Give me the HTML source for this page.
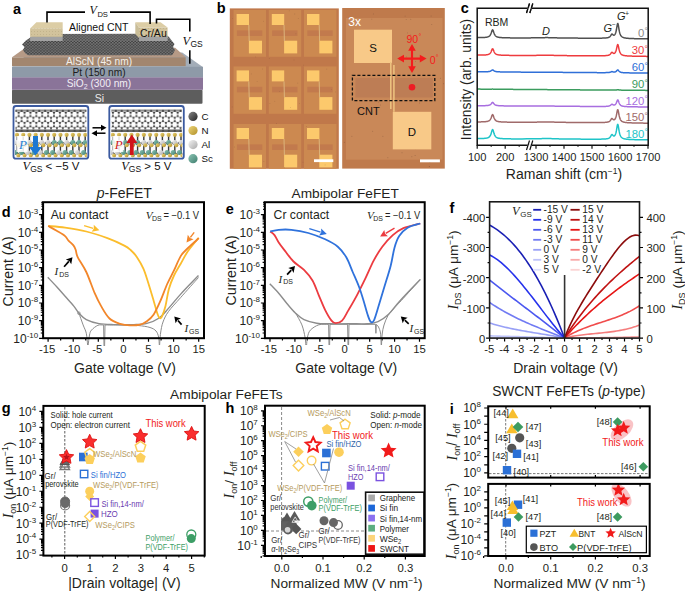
<!DOCTYPE html>
<html><head><meta charset="utf-8"><style>
html,body{margin:0;padding:0;background:#fff;}
svg{display:block;}
</style></head><body>
<svg width="685" height="591" viewBox="0 0 685 591" font-family='"Liberation Sans", sans-serif'>
<rect width="685" height="591" fill="#fff"/>
<defs>
<pattern id="cntpat" width="3.2" height="2.8" patternUnits="userSpaceOnUse">
<rect width="3.2" height="2.8" fill="#3e3e3e"/>
<circle cx="0.8" cy="0.7" r="0.85" fill="#7a7a7a"/><circle cx="2.4" cy="2.1" r="0.85" fill="#7a7a7a"/>
</pattern>
<pattern id="cntpat2" width="5.889" height="10.200" patternUnits="userSpaceOnUse" x="1" y="111">
<rect width="5.889" height="10.200" fill="#ffffff"/>
<path d="M2.944,0 L5.889,1.700 L5.889,5.100 L2.944,6.800 L0,5.100 L0,1.700 Z M2.944,6.800 L2.944,10.200" fill="none" stroke="#8a8a8a" stroke-width="0.7"/>
<circle cx="2.944" cy="0.000" r="1.0" fill="#303030"/><circle cx="5.889" cy="1.700" r="1.0" fill="#303030"/><circle cx="0.000" cy="1.700" r="1.0" fill="#303030"/><circle cx="5.889" cy="5.100" r="1.0" fill="#303030"/><circle cx="0.000" cy="5.100" r="1.0" fill="#303030"/><circle cx="2.944" cy="6.800" r="1.0" fill="#303030"/><circle cx="2.944" cy="10.200" r="1.0" fill="#303030"/>
</pattern>
<pattern id="goldtex" width="3" height="3" patternUnits="userSpaceOnUse">
<rect width="3" height="3" fill="#d2c39c"/>
<rect x="1" y="1" width="1" height="1" fill="#c2b38c"/>
</pattern>
<linearGradient id="ballC" x1="0" y1="0" x2="1" y2="1"><stop offset="0" stop-color="#888"/><stop offset="1" stop-color="#222"/></linearGradient>
<linearGradient id="ballN" x1="0" y1="0" x2="1" y2="1"><stop offset="0" stop-color="#f0d77a"/><stop offset="1" stop-color="#b0902a"/></linearGradient>
<linearGradient id="ballAl" x1="0" y1="0" x2="1" y2="1"><stop offset="0" stop-color="#f4f4f4"/><stop offset="1" stop-color="#a8a8a8"/></linearGradient>
<linearGradient id="ballSc" x1="0" y1="0" x2="1" y2="1"><stop offset="0" stop-color="#8cc4b4"/><stop offset="1" stop-color="#3f7e6e"/></linearGradient>
</defs>
<text x="13.00" y="13.80" font-size="14.5" text-anchor="start" fill="#000" font-weight="bold" font-style="normal" font-family='"Liberation Sans", sans-serif' >a</text>
<rect x="12" y="89.8" width="190.5" height="14" fill="#5d5d5d" rx="1"/>
<text x="99.50" y="101.50" font-size="10.5" text-anchor="middle" fill="#ececec" font-weight="normal" font-style="normal" font-family='"Liberation Sans", sans-serif' >Si</text>
<rect x="12" y="77.2" width="191" height="12.6" fill="#8a7499"/>
<text x="99.00" y="87.30" font-size="10.2" text-anchor="middle" fill="#f2eef5" font-weight="normal" font-style="normal" font-family='"Liberation Sans", sans-serif' >SiO<tspan font-size="7" dy="2">2</tspan><tspan dy="-2"> (300 nm)</tspan></text>
<path d="M12,66.8 L30,52.6 L182.2,52.6 L202.8,67 Z" fill="#a3adb8"/>
<rect x="12" y="66.8" width="191" height="10.4" fill="#8e9aa8"/>
<text x="99.00" y="75.80" font-size="10.2" text-anchor="middle" fill="#1d1d1d" font-weight="normal" font-style="normal" font-family='"Liberation Sans", sans-serif' >Pt (150 nm)</text>
<path d="M12,57.3 L25.4,47.8 L175.2,47.8 L185.7,57.3 Z" fill="#b69a86"/>
<rect x="12" y="57.3" width="173.7" height="8.8" fill="#a2866f"/>
<text x="99.00" y="65.30" font-size="10.2" text-anchor="middle" fill="#f4efe9" font-weight="normal" font-style="normal" font-family='"Liberation Sans", sans-serif' >AlScN (45 nm)</text>
<path d="M26,40.5 L29,38.5 L32,36 L36,34 L165,33.8 L169,37 L172,41 L174.5,44 L173,47 L175,50 L173.5,53 L172,55.3 L28,55.3 L25,53 L23,50 L24.5,47 L22,44.5 Z" fill="url(#cntpat)"/>
<path d="M36,34 L165,33.8 L172,41 L24.5,41 Z" fill="#8a8a8a" opacity="0.18"/>
<path d="M30.1,28.4 L36.4,22.3 L62.7,22.3 L62.7,28.4 Z" fill="#dccda5"/>
<rect x="30.1" y="28.4" width="32.6" height="8.5" fill="url(#goldtex)"/>
<rect x="30.1" y="36.9" width="32.6" height="4.1" fill="#a2a2a2"/>
<path d="M135.3,22.3 L160.6,22.3 L167.6,27.5 L139,27.5 Z" fill="#dccda5"/>
<path d="M135.3,22.3 L139,27.5 L139,38 L135.3,34 Z" fill="#c9bd98"/>
<rect x="139" y="27.5" width="28.6" height="10.5" fill="url(#goldtex)"/>
<rect x="139" y="36.5" width="28.6" height="4.5" fill="#a2a2a2"/>
<text x="153.30" y="36.50" font-size="10.5" text-anchor="middle" fill="#111" font-weight="normal" font-style="normal" font-family='"Liberation Sans", sans-serif' >Cr/Au</text>
<path d="M47,22.5 L47,12.1 L85,12.1" fill="none" stroke="#000" stroke-width="1.6"/>
<path d="M110,12.1 L150.1,12.1 L150.1,24" fill="none" stroke="#000" stroke-width="1.6"/>
<path d="M156.5,23.4 L156.5,19.3 L189.8,19.3 L189.8,31.6" fill="none" stroke="#000" stroke-width="1.6"/>
<path d="M189.8,50.3 L189.8,63.7" fill="none" stroke="#000" stroke-width="1.6"/>
<text x="89.60" y="14.00" font-size="12.0" text-anchor="start" fill="#111" font-weight="normal" font-style="italic" font-family='"Liberation Serif", serif' >V</text>
<text x="97.40" y="16.80" font-size="7.6" text-anchor="start" fill="#111" font-weight="normal" font-style="normal" font-family='"Liberation Sans", sans-serif' >DS</text>
<text x="69.00" y="31.00" font-size="10.5" text-anchor="start" fill="#111" font-weight="normal" font-style="normal" font-family='"Liberation Sans", sans-serif' >Aligned CNT</text>
<text x="182.50" y="44.50" font-size="12.5" text-anchor="start" fill="#111" font-weight="normal" font-style="italic" font-family='"Liberation Serif", serif' >V</text>
<text x="190.50" y="47.00" font-size="8.5" text-anchor="start" fill="#111" font-weight="normal" font-style="normal" font-family='"Liberation Sans", sans-serif' >GS</text>
<rect x="14.5" y="107" width="72.8" height="51" fill="#fff" rx="2"/>
<rect x="15.5" y="109.5" width="70.8" height="22" fill="url(#cntpat2)"/>
<rect x="15.5" y="129.5" width="70.8" height="2.5" fill="#333" opacity="0.75"/>
<rect x="15.5" y="109.5" width="70.8" height="2" fill="#444" opacity="0.6"/>
<rect x="15.5" y="132" width="70.8" height="25" fill="#fafafa"/>
<clipPath id="clipi13"><rect x="15.0" y="131.5" width="71.8" height="26"/></clipPath>
<g clip-path="url(#clipi13)"><path d="M17.0,134.8 L17.0,142.4 M17.0,145 L17.0,152.6 M17.0,142.4 L20.1,145 M17.0,152.6 L20.1,155.2 M17.0,145 L13.9,142.4 M23.2,134.8 L23.2,142.4 M23.2,145 L23.2,152.6 M23.2,142.4 L26.3,145 M23.2,152.6 L26.3,155.2 M23.2,145 L20.1,142.4 M29.4,134.8 L29.4,142.4 M29.4,145 L29.4,152.6 M29.4,142.4 L32.5,145 M29.4,152.6 L32.5,155.2 M29.4,145 L26.3,142.4 M35.6,134.8 L35.6,142.4 M35.6,145 L35.6,152.6 M35.6,142.4 L38.7,145 M35.6,152.6 L38.7,155.2 M35.6,145 L32.5,142.4 M41.8,134.8 L41.8,142.4 M41.8,145 L41.8,152.6 M41.8,142.4 L44.9,145 M41.8,152.6 L44.9,155.2 M41.8,145 L38.7,142.4 M48.0,134.8 L48.0,142.4 M48.0,145 L48.0,152.6 M48.0,142.4 L51.1,145 M48.0,152.6 L51.1,155.2 M48.0,145 L44.9,142.4 M54.2,134.8 L54.2,142.4 M54.2,145 L54.2,152.6 M54.2,142.4 L57.3,145 M54.2,152.6 L57.3,155.2 M54.2,145 L51.1,142.4 M60.4,134.8 L60.4,142.4 M60.4,145 L60.4,152.6 M60.4,142.4 L63.5,145 M60.4,152.6 L63.5,155.2 M60.4,145 L57.3,142.4 M66.6,134.8 L66.6,142.4 M66.6,145 L66.6,152.6 M66.6,142.4 L69.7,145 M66.6,152.6 L69.7,155.2 M66.6,145 L63.5,142.4 M72.8,134.8 L72.8,142.4 M72.8,145 L72.8,152.6 M72.8,142.4 L75.9,145 M72.8,152.6 L75.9,155.2 M72.8,145 L69.7,142.4 M79.0,134.8 L79.0,142.4 M79.0,145 L79.0,152.6 M79.0,142.4 L82.1,145 M79.0,152.6 L82.1,155.2 M79.0,145 L75.9,142.4 M85.2,134.8 L85.2,142.4 M85.2,145 L85.2,152.6 M85.2,142.4 L88.3,145 M85.2,152.6 L88.3,155.2 M85.2,145 L82.1,142.4 M91.4,134.8 L91.4,142.4 M91.4,145 L91.4,152.6 M91.4,142.4 L94.5,145 M91.4,152.6 L94.5,155.2 M91.4,145 L88.3,142.4 " stroke="#3a3a3a" stroke-width="1.4" fill="none"/><circle cx="17.0" cy="134.8" r="2.1" fill="url(#ballN)"/><circle cx="23.2" cy="134.8" r="2.1" fill="url(#ballN)"/><circle cx="29.4" cy="134.8" r="2.1" fill="url(#ballN)"/><circle cx="35.6" cy="134.8" r="2.1" fill="url(#ballN)"/><circle cx="41.8" cy="134.8" r="2.1" fill="url(#ballN)"/><circle cx="48.0" cy="134.8" r="2.1" fill="url(#ballN)"/><circle cx="54.2" cy="134.8" r="2.1" fill="url(#ballN)"/><circle cx="60.4" cy="134.8" r="2.1" fill="url(#ballN)"/><circle cx="66.6" cy="134.8" r="2.1" fill="url(#ballN)"/><circle cx="72.8" cy="134.8" r="2.1" fill="url(#ballN)"/><circle cx="79.0" cy="134.8" r="2.1" fill="url(#ballN)"/><circle cx="85.2" cy="134.8" r="2.1" fill="url(#ballN)"/><circle cx="91.4" cy="134.8" r="2.1" fill="url(#ballN)"/><circle cx="17.0" cy="142.6" r="2.5" fill="url(#ballAl)"/><circle cx="18.5" cy="145.3" r="2.0" fill="url(#ballN)"/><circle cx="15.4" cy="152.6" r="2.5" fill="url(#ballSc)"/><circle cx="18.3" cy="155.6" r="2.0" fill="url(#ballN)"/><circle cx="23.2" cy="142.6" r="2.5" fill="url(#ballAl)"/><circle cx="24.7" cy="145.3" r="2.0" fill="url(#ballN)"/><circle cx="21.6" cy="152.6" r="2.5" fill="url(#ballSc)"/><circle cx="24.5" cy="155.6" r="2.0" fill="url(#ballN)"/><circle cx="29.4" cy="142.6" r="2.5" fill="url(#ballAl)"/><circle cx="30.9" cy="145.3" r="2.0" fill="url(#ballN)"/><circle cx="27.8" cy="152.6" r="2.5" fill="url(#ballAl)"/><circle cx="30.7" cy="155.6" r="2.0" fill="url(#ballN)"/><circle cx="35.6" cy="142.6" r="2.5" fill="url(#ballSc)"/><circle cx="37.1" cy="145.3" r="2.0" fill="url(#ballN)"/><circle cx="34.0" cy="152.6" r="2.5" fill="url(#ballSc)"/><circle cx="36.9" cy="155.6" r="2.0" fill="url(#ballN)"/><circle cx="41.8" cy="142.6" r="2.5" fill="url(#ballAl)"/><circle cx="43.3" cy="145.3" r="2.0" fill="url(#ballN)"/><circle cx="40.2" cy="152.6" r="2.5" fill="url(#ballAl)"/><circle cx="43.1" cy="155.6" r="2.0" fill="url(#ballN)"/><circle cx="48.0" cy="142.6" r="2.5" fill="url(#ballAl)"/><circle cx="49.5" cy="145.3" r="2.0" fill="url(#ballN)"/><circle cx="46.4" cy="152.6" r="2.5" fill="url(#ballSc)"/><circle cx="49.3" cy="155.6" r="2.0" fill="url(#ballN)"/><circle cx="54.2" cy="142.6" r="2.5" fill="url(#ballSc)"/><circle cx="55.7" cy="145.3" r="2.0" fill="url(#ballN)"/><circle cx="52.6" cy="152.6" r="2.5" fill="url(#ballSc)"/><circle cx="55.5" cy="155.6" r="2.0" fill="url(#ballN)"/><circle cx="60.4" cy="142.6" r="2.5" fill="url(#ballSc)"/><circle cx="61.9" cy="145.3" r="2.0" fill="url(#ballN)"/><circle cx="58.8" cy="152.6" r="2.5" fill="url(#ballAl)"/><circle cx="61.7" cy="155.6" r="2.0" fill="url(#ballN)"/><circle cx="66.6" cy="142.6" r="2.5" fill="url(#ballAl)"/><circle cx="68.1" cy="145.3" r="2.0" fill="url(#ballN)"/><circle cx="65.0" cy="152.6" r="2.5" fill="url(#ballSc)"/><circle cx="67.9" cy="155.6" r="2.0" fill="url(#ballN)"/><circle cx="72.8" cy="142.6" r="2.5" fill="url(#ballSc)"/><circle cx="74.3" cy="145.3" r="2.0" fill="url(#ballN)"/><circle cx="71.2" cy="152.6" r="2.5" fill="url(#ballSc)"/><circle cx="74.1" cy="155.6" r="2.0" fill="url(#ballN)"/><circle cx="79.0" cy="142.6" r="2.5" fill="url(#ballSc)"/><circle cx="80.5" cy="145.3" r="2.0" fill="url(#ballN)"/><circle cx="77.4" cy="152.6" r="2.5" fill="url(#ballAl)"/><circle cx="80.3" cy="155.6" r="2.0" fill="url(#ballN)"/><circle cx="85.2" cy="142.6" r="2.5" fill="url(#ballSc)"/><circle cx="86.7" cy="145.3" r="2.0" fill="url(#ballN)"/><circle cx="83.6" cy="152.6" r="2.5" fill="url(#ballSc)"/><circle cx="86.5" cy="155.6" r="2.0" fill="url(#ballN)"/><circle cx="91.4" cy="142.6" r="2.5" fill="url(#ballAl)"/><circle cx="92.9" cy="145.3" r="2.0" fill="url(#ballN)"/><circle cx="89.8" cy="152.6" r="2.5" fill="url(#ballAl)"/><circle cx="92.7" cy="155.6" r="2.0" fill="url(#ballN)"/></g>
<rect x="13.5" y="106" width="74.8" height="52.7" fill="none" stroke="#3b5aa0" stroke-width="1.8" rx="2.5"/>
<rect x="16.5" y="136" width="11" height="16" fill="#fff" opacity="0.85"/>
<text x="23.00" y="148.80" font-size="13" text-anchor="middle" fill="#2a7fd0" font-weight="normal" font-style="italic" font-family='"Liberation Serif", serif' >P</text>
<path d="M33.0,136 L33.0,147 L29.0,147 L35.5,155.5 L42.0,147 L38.0,147 L38.0,136 Z" fill="#1d78d2"/>
<text x="51.00" y="170.20" font-size="11.5" text-anchor="middle" fill="#111" font-weight="normal" font-style="normal" font-family='"Liberation Sans", sans-serif' ><tspan font-style="italic" font-family='Liberation Serif' font-size="12.5">V</tspan><tspan font-size="8.5" dy="2">GS</tspan><tspan dy="-2"> &lt; −5 V</tspan></text>
<rect x="110.3" y="107" width="72.5" height="51" fill="#fff" rx="2"/>
<rect x="111.3" y="109.5" width="70.5" height="22" fill="url(#cntpat2)"/>
<rect x="111.3" y="129.5" width="70.5" height="2.5" fill="#333" opacity="0.75"/>
<rect x="111.3" y="109.5" width="70.5" height="2" fill="#444" opacity="0.6"/>
<rect x="111.3" y="132" width="70.5" height="25" fill="#fafafa"/>
<clipPath id="clipi109"><rect x="110.8" y="131.5" width="71.5" height="26"/></clipPath>
<g clip-path="url(#clipi109)"><path d="M112.8,134.8 L112.8,142.4 M112.8,145 L112.8,152.6 M112.8,142.4 L115.9,145 M112.8,152.6 L115.9,155.2 M112.8,145 L109.7,142.4 M119.0,134.8 L119.0,142.4 M119.0,145 L119.0,152.6 M119.0,142.4 L122.1,145 M119.0,152.6 L122.1,155.2 M119.0,145 L115.9,142.4 M125.2,134.8 L125.2,142.4 M125.2,145 L125.2,152.6 M125.2,142.4 L128.3,145 M125.2,152.6 L128.3,155.2 M125.2,145 L122.1,142.4 M131.4,134.8 L131.4,142.4 M131.4,145 L131.4,152.6 M131.4,142.4 L134.5,145 M131.4,152.6 L134.5,155.2 M131.4,145 L128.3,142.4 M137.6,134.8 L137.6,142.4 M137.6,145 L137.6,152.6 M137.6,142.4 L140.7,145 M137.6,152.6 L140.7,155.2 M137.6,145 L134.5,142.4 M143.8,134.8 L143.8,142.4 M143.8,145 L143.8,152.6 M143.8,142.4 L146.9,145 M143.8,152.6 L146.9,155.2 M143.8,145 L140.7,142.4 M150.0,134.8 L150.0,142.4 M150.0,145 L150.0,152.6 M150.0,142.4 L153.1,145 M150.0,152.6 L153.1,155.2 M150.0,145 L146.9,142.4 M156.2,134.8 L156.2,142.4 M156.2,145 L156.2,152.6 M156.2,142.4 L159.3,145 M156.2,152.6 L159.3,155.2 M156.2,145 L153.1,142.4 M162.4,134.8 L162.4,142.4 M162.4,145 L162.4,152.6 M162.4,142.4 L165.5,145 M162.4,152.6 L165.5,155.2 M162.4,145 L159.3,142.4 M168.6,134.8 L168.6,142.4 M168.6,145 L168.6,152.6 M168.6,142.4 L171.7,145 M168.6,152.6 L171.7,155.2 M168.6,145 L165.5,142.4 M174.8,134.8 L174.8,142.4 M174.8,145 L174.8,152.6 M174.8,142.4 L177.9,145 M174.8,152.6 L177.9,155.2 M174.8,145 L171.7,142.4 M181.0,134.8 L181.0,142.4 M181.0,145 L181.0,152.6 M181.0,142.4 L184.1,145 M181.0,152.6 L184.1,155.2 M181.0,145 L177.9,142.4 M187.2,134.8 L187.2,142.4 M187.2,145 L187.2,152.6 M187.2,142.4 L190.3,145 M187.2,152.6 L190.3,155.2 M187.2,145 L184.1,142.4 " stroke="#3a3a3a" stroke-width="1.4" fill="none"/><circle cx="112.8" cy="134.8" r="2.1" fill="url(#ballN)"/><circle cx="119.0" cy="134.8" r="2.1" fill="url(#ballN)"/><circle cx="125.2" cy="134.8" r="2.1" fill="url(#ballN)"/><circle cx="131.4" cy="134.8" r="2.1" fill="url(#ballN)"/><circle cx="137.6" cy="134.8" r="2.1" fill="url(#ballN)"/><circle cx="143.8" cy="134.8" r="2.1" fill="url(#ballN)"/><circle cx="150.0" cy="134.8" r="2.1" fill="url(#ballN)"/><circle cx="156.2" cy="134.8" r="2.1" fill="url(#ballN)"/><circle cx="162.4" cy="134.8" r="2.1" fill="url(#ballN)"/><circle cx="168.6" cy="134.8" r="2.1" fill="url(#ballN)"/><circle cx="174.8" cy="134.8" r="2.1" fill="url(#ballN)"/><circle cx="181.0" cy="134.8" r="2.1" fill="url(#ballN)"/><circle cx="187.2" cy="134.8" r="2.1" fill="url(#ballN)"/><circle cx="112.8" cy="142.6" r="2.5" fill="url(#ballSc)"/><circle cx="114.3" cy="145.3" r="2.0" fill="url(#ballN)"/><circle cx="111.2" cy="152.6" r="2.5" fill="url(#ballAl)"/><circle cx="114.1" cy="155.6" r="2.0" fill="url(#ballN)"/><circle cx="119.0" cy="142.6" r="2.5" fill="url(#ballAl)"/><circle cx="120.5" cy="145.3" r="2.0" fill="url(#ballN)"/><circle cx="117.4" cy="152.6" r="2.5" fill="url(#ballAl)"/><circle cx="120.3" cy="155.6" r="2.0" fill="url(#ballN)"/><circle cx="125.2" cy="142.6" r="2.5" fill="url(#ballSc)"/><circle cx="126.7" cy="145.3" r="2.0" fill="url(#ballN)"/><circle cx="123.6" cy="152.6" r="2.5" fill="url(#ballSc)"/><circle cx="126.5" cy="155.6" r="2.0" fill="url(#ballN)"/><circle cx="131.4" cy="142.6" r="2.5" fill="url(#ballAl)"/><circle cx="132.9" cy="145.3" r="2.0" fill="url(#ballN)"/><circle cx="129.8" cy="152.6" r="2.5" fill="url(#ballSc)"/><circle cx="132.7" cy="155.6" r="2.0" fill="url(#ballN)"/><circle cx="137.6" cy="142.6" r="2.5" fill="url(#ballSc)"/><circle cx="139.1" cy="145.3" r="2.0" fill="url(#ballN)"/><circle cx="136.0" cy="152.6" r="2.5" fill="url(#ballSc)"/><circle cx="138.9" cy="155.6" r="2.0" fill="url(#ballN)"/><circle cx="143.8" cy="142.6" r="2.5" fill="url(#ballAl)"/><circle cx="145.3" cy="145.3" r="2.0" fill="url(#ballN)"/><circle cx="142.2" cy="152.6" r="2.5" fill="url(#ballSc)"/><circle cx="145.1" cy="155.6" r="2.0" fill="url(#ballN)"/><circle cx="150.0" cy="142.6" r="2.5" fill="url(#ballAl)"/><circle cx="151.5" cy="145.3" r="2.0" fill="url(#ballN)"/><circle cx="148.4" cy="152.6" r="2.5" fill="url(#ballSc)"/><circle cx="151.3" cy="155.6" r="2.0" fill="url(#ballN)"/><circle cx="156.2" cy="142.6" r="2.5" fill="url(#ballSc)"/><circle cx="157.7" cy="145.3" r="2.0" fill="url(#ballN)"/><circle cx="154.6" cy="152.6" r="2.5" fill="url(#ballSc)"/><circle cx="157.5" cy="155.6" r="2.0" fill="url(#ballN)"/><circle cx="162.4" cy="142.6" r="2.5" fill="url(#ballAl)"/><circle cx="163.9" cy="145.3" r="2.0" fill="url(#ballN)"/><circle cx="160.8" cy="152.6" r="2.5" fill="url(#ballAl)"/><circle cx="163.7" cy="155.6" r="2.0" fill="url(#ballN)"/><circle cx="168.6" cy="142.6" r="2.5" fill="url(#ballSc)"/><circle cx="170.1" cy="145.3" r="2.0" fill="url(#ballN)"/><circle cx="167.0" cy="152.6" r="2.5" fill="url(#ballSc)"/><circle cx="169.9" cy="155.6" r="2.0" fill="url(#ballN)"/><circle cx="174.8" cy="142.6" r="2.5" fill="url(#ballAl)"/><circle cx="176.3" cy="145.3" r="2.0" fill="url(#ballN)"/><circle cx="173.2" cy="152.6" r="2.5" fill="url(#ballSc)"/><circle cx="176.1" cy="155.6" r="2.0" fill="url(#ballN)"/><circle cx="181.0" cy="142.6" r="2.5" fill="url(#ballAl)"/><circle cx="182.5" cy="145.3" r="2.0" fill="url(#ballN)"/><circle cx="179.4" cy="152.6" r="2.5" fill="url(#ballSc)"/><circle cx="182.3" cy="155.6" r="2.0" fill="url(#ballN)"/><circle cx="187.2" cy="142.6" r="2.5" fill="url(#ballAl)"/><circle cx="188.7" cy="145.3" r="2.0" fill="url(#ballN)"/><circle cx="185.6" cy="152.6" r="2.5" fill="url(#ballSc)"/><circle cx="188.5" cy="155.6" r="2.0" fill="url(#ballN)"/></g>
<rect x="109.3" y="106" width="74.5" height="52.7" fill="none" stroke="#3b5aa0" stroke-width="1.8" rx="2.5"/>
<rect x="112.3" y="136" width="11" height="16" fill="#fff" opacity="0.85"/>
<text x="118.80" y="148.80" font-size="13" text-anchor="middle" fill="#cc1f25" font-weight="normal" font-style="italic" font-family='"Liberation Serif", serif' >P</text>
<path d="M129.9,155 L129.9,143 L126.3,143 L131.8,134.5 L137.3,143 L133.7,143 L133.7,155 Z" fill="#d0141a"/>
<text x="146.30" y="170.20" font-size="11.5" text-anchor="middle" fill="#111" font-weight="normal" font-style="normal" font-family='"Liberation Sans", sans-serif' ><tspan font-style="italic" font-family='Liberation Serif' font-size="12.5">V</tspan><tspan font-size="8.5" dy="2">GS</tspan><tspan dy="-2"> &gt; 5 V</tspan></text>
<path d="M92.5,127.8 L102.5,127.8" stroke="#000" stroke-width="1.5"/><path d="M106.5,127.8 L101,124.8 L101,130.8 Z" fill="#000"/>
<path d="M95.5,133.2 L105.5,133.2" stroke="#000" stroke-width="1.5"/><path d="M91.5,133.2 L97,130.2 L97,136.2 Z" fill="#000"/>
<circle cx="193" cy="116.4" r="4.6" fill="url(#ballC)"/>
<text x="201.50" y="120.00" font-size="9.8" text-anchor="start" fill="#111" font-weight="normal" font-style="normal" font-family='"Liberation Sans", sans-serif' >C</text>
<circle cx="193" cy="130.5" r="4.6" fill="url(#ballN)"/>
<text x="201.50" y="134.10" font-size="9.8" text-anchor="start" fill="#111" font-weight="normal" font-style="normal" font-family='"Liberation Sans", sans-serif' >N</text>
<circle cx="193" cy="144.6" r="4.6" fill="url(#ballAl)"/>
<text x="201.50" y="148.20" font-size="9.8" text-anchor="start" fill="#111" font-weight="normal" font-style="normal" font-family='"Liberation Sans", sans-serif' >Al</text>
<circle cx="193" cy="158.7" r="4.6" fill="url(#ballSc)"/>
<text x="201.50" y="162.30" font-size="9.8" text-anchor="start" fill="#111" font-weight="normal" font-style="normal" font-family='"Liberation Sans", sans-serif' >Sc</text>
<text x="216.80" y="13.40" font-size="14.5" text-anchor="start" fill="#000" font-weight="bold" font-style="normal" font-family='"Liberation Sans", sans-serif' >b</text>
<rect x="229.8" y="8.4" width="109" height="160.4" fill="#c0784a"/>
<rect x="233.6" y="10.0" width="32.4" height="46.8" fill="#cc8950"/>
<rect x="236.9" y="30.4" width="25.4" height="5.6" fill="#c27a4d"/>
<rect x="236.6" y="14.0" width="12.4" height="11" fill="#fcc96c"/>
<rect x="248.9" y="40.7" width="13.1" height="12.7" fill="#fcc96c"/>
<path d="M248.8,25.0 L249.2,41.0" stroke="#dcb47c" stroke-width="1.0" fill="none"/>
<rect x="268.8" y="10.0" width="32.4" height="46.8" fill="#cc8950"/>
<rect x="272.1" y="30.4" width="25.4" height="5.6" fill="#c27a4d"/>
<rect x="271.8" y="14.0" width="12.4" height="11" fill="#fcc96c"/>
<rect x="284.1" y="40.7" width="13.1" height="12.7" fill="#fcc96c"/>
<path d="M284.0,25.0 L284.4,41.0" stroke="#dcb47c" stroke-width="1.0" fill="none"/>
<rect x="304.0" y="10.0" width="32.4" height="46.8" fill="#cc8950"/>
<rect x="307.3" y="30.4" width="25.4" height="5.6" fill="#c27a4d"/>
<rect x="307.0" y="14.0" width="12.4" height="11" fill="#fcc96c"/>
<rect x="319.3" y="40.7" width="13.1" height="12.7" fill="#fcc96c"/>
<path d="M319.2,25.0 L319.6,41.0" stroke="#dcb47c" stroke-width="1.0" fill="none"/>
<rect x="233.6" y="66.4" width="32.4" height="47.4" fill="#cc8950"/>
<rect x="236.9" y="86.8" width="25.4" height="5.6" fill="#c27a4d"/>
<rect x="236.6" y="70.4" width="12.4" height="11" fill="#fcc96c"/>
<rect x="248.9" y="97.1" width="13.1" height="12.7" fill="#fcc96c"/>
<path d="M248.8,81.4 L249.2,97.4" stroke="#dcb47c" stroke-width="1.0" fill="none"/>
<rect x="268.8" y="66.4" width="32.4" height="47.4" fill="#cc8950"/>
<rect x="272.1" y="86.8" width="25.4" height="5.6" fill="#c27a4d"/>
<rect x="271.8" y="70.4" width="12.4" height="11" fill="#fcc96c"/>
<rect x="284.1" y="97.1" width="13.1" height="12.7" fill="#fcc96c"/>
<path d="M284.0,81.4 L284.4,97.4" stroke="#dcb47c" stroke-width="1.0" fill="none"/>
<rect x="304.0" y="66.4" width="32.4" height="47.4" fill="#cc8950"/>
<rect x="307.3" y="86.8" width="25.4" height="5.6" fill="#c27a4d"/>
<rect x="307.0" y="70.4" width="12.4" height="11" fill="#fcc96c"/>
<rect x="319.3" y="97.1" width="13.1" height="12.7" fill="#fcc96c"/>
<path d="M319.2,81.4 L319.6,97.4" stroke="#dcb47c" stroke-width="1.0" fill="none"/>
<rect x="233.6" y="124.0" width="32.4" height="44.8" fill="#cc8950"/>
<rect x="236.9" y="144.4" width="25.4" height="5.6" fill="#c27a4d"/>
<rect x="236.6" y="128.0" width="12.4" height="11" fill="#fcc96c"/>
<rect x="248.9" y="154.7" width="13.1" height="12.7" fill="#fcc96c"/>
<path d="M248.8,139.0 L249.2,155.0" stroke="#dcb47c" stroke-width="1.0" fill="none"/>
<rect x="268.8" y="124.0" width="32.4" height="44.8" fill="#cc8950"/>
<rect x="272.1" y="144.4" width="25.4" height="5.6" fill="#c27a4d"/>
<rect x="271.8" y="128.0" width="12.4" height="11" fill="#fcc96c"/>
<rect x="284.1" y="154.7" width="13.1" height="12.7" fill="#fcc96c"/>
<path d="M284.0,139.0 L284.4,155.0" stroke="#dcb47c" stroke-width="1.0" fill="none"/>
<rect x="304.0" y="124.0" width="32.4" height="44.8" fill="#cc8950"/>
<rect x="307.3" y="144.4" width="25.4" height="5.6" fill="#c27a4d"/>
<rect x="307.0" y="128.0" width="12.4" height="11" fill="#fcc96c"/>
<rect x="319.3" y="154.7" width="13.1" height="12.7" fill="#fcc96c"/>
<path d="M319.2,139.0 L319.6,155.0" stroke="#dcb47c" stroke-width="1.0" fill="none"/>
<rect x="229.8" y="168.8" width="109" height="0" fill="#fff"/>
<rect x="314" y="159.3" width="19.3" height="2.8" fill="#fff"/>
<rect x="342.2" y="8.0" width="102.6" height="160.6" fill="#bf7a4c"/>
<rect x="346" y="18" width="96.5" height="141.7" fill="#c98858"/>
<circle cx="367.0" cy="95.5" r="0.45" fill="#6e4a35" opacity="0.6"/><circle cx="380.4" cy="105.0" r="0.45" fill="#6e4a35" opacity="0.6"/><circle cx="406.2" cy="19.4" r="0.45" fill="#6e4a35" opacity="0.6"/><circle cx="344.3" cy="142.2" r="0.45" fill="#6e4a35" opacity="0.6"/><circle cx="369.2" cy="46.3" r="0.45" fill="#6e4a35" opacity="0.6"/><circle cx="443.6" cy="83.8" r="0.45" fill="#6e4a35" opacity="0.6"/><circle cx="427.5" cy="84.7" r="0.45" fill="#6e4a35" opacity="0.6"/><circle cx="407.5" cy="32.9" r="0.45" fill="#6e4a35" opacity="0.6"/><circle cx="407.1" cy="147.0" r="0.45" fill="#6e4a35" opacity="0.6"/><circle cx="395.8" cy="126.9" r="0.45" fill="#6e4a35" opacity="0.6"/><circle cx="410.8" cy="19.2" r="0.45" fill="#6e4a35" opacity="0.6"/><circle cx="419.6" cy="103.0" r="0.45" fill="#6e4a35" opacity="0.6"/><circle cx="373.4" cy="13.9" r="0.45" fill="#6e4a35" opacity="0.6"/><circle cx="430.4" cy="84.2" r="0.45" fill="#6e4a35" opacity="0.6"/><circle cx="415.6" cy="148.7" r="0.45" fill="#6e4a35" opacity="0.6"/><circle cx="415.1" cy="155.5" r="0.45" fill="#6e4a35" opacity="0.6"/><circle cx="382.9" cy="136.3" r="0.45" fill="#6e4a35" opacity="0.6"/><circle cx="387.9" cy="157.8" r="0.45" fill="#6e4a35" opacity="0.6"/><circle cx="431.8" cy="24.5" r="0.45" fill="#6e4a35" opacity="0.6"/><circle cx="356.7" cy="43.5" r="0.45" fill="#6e4a35" opacity="0.6"/><circle cx="440.5" cy="78.3" r="0.45" fill="#6e4a35" opacity="0.6"/><circle cx="406.3" cy="56.9" r="0.45" fill="#6e4a35" opacity="0.6"/><circle cx="394.2" cy="70.4" r="0.45" fill="#6e4a35" opacity="0.6"/><circle cx="378.4" cy="102.0" r="0.45" fill="#6e4a35" opacity="0.6"/><circle cx="402.0" cy="152.8" r="0.45" fill="#6e4a35" opacity="0.6"/><circle cx="411.9" cy="156.7" r="0.45" fill="#6e4a35" opacity="0.6"/><circle cx="429.5" cy="166.6" r="0.45" fill="#6e4a35" opacity="0.6"/><circle cx="410.8" cy="34.9" r="0.45" fill="#6e4a35" opacity="0.6"/><circle cx="429.9" cy="162.4" r="0.45" fill="#6e4a35" opacity="0.6"/><circle cx="434.4" cy="99.5" r="0.45" fill="#6e4a35" opacity="0.6"/><circle cx="415.1" cy="42.6" r="0.45" fill="#6e4a35" opacity="0.6"/><circle cx="427.0" cy="100.2" r="0.45" fill="#6e4a35" opacity="0.6"/><circle cx="371.8" cy="19.1" r="0.45" fill="#6e4a35" opacity="0.6"/><circle cx="429.2" cy="166.4" r="0.45" fill="#6e4a35" opacity="0.6"/><circle cx="351.9" cy="136.3" r="0.45" fill="#6e4a35" opacity="0.6"/><circle cx="384.5" cy="33.0" r="0.45" fill="#6e4a35" opacity="0.6"/><circle cx="372.7" cy="131.2" r="0.45" fill="#6e4a35" opacity="0.6"/><circle cx="431.1" cy="16.0" r="0.45" fill="#6e4a35" opacity="0.6"/><circle cx="405.1" cy="16.1" r="0.45" fill="#6e4a35" opacity="0.6"/><circle cx="415.6" cy="61.6" r="0.45" fill="#6e4a35" opacity="0.6"/><circle cx="325.1" cy="164.9" r="0.4" fill="#7a5038" opacity="0.5"/><circle cx="284.6" cy="167.8" r="0.4" fill="#7a5038" opacity="0.5"/><circle cx="263.4" cy="21.2" r="0.4" fill="#7a5038" opacity="0.5"/><circle cx="294.8" cy="14.0" r="0.4" fill="#7a5038" opacity="0.5"/><circle cx="251.3" cy="73.9" r="0.4" fill="#7a5038" opacity="0.5"/><circle cx="295.9" cy="33.8" r="0.4" fill="#7a5038" opacity="0.5"/><circle cx="234.6" cy="147.0" r="0.4" fill="#7a5038" opacity="0.5"/><circle cx="263.9" cy="161.4" r="0.4" fill="#7a5038" opacity="0.5"/><circle cx="326.8" cy="69.1" r="0.4" fill="#7a5038" opacity="0.5"/><circle cx="279.7" cy="91.7" r="0.4" fill="#7a5038" opacity="0.5"/><circle cx="299.5" cy="103.7" r="0.4" fill="#7a5038" opacity="0.5"/><circle cx="290.4" cy="107.6" r="0.4" fill="#7a5038" opacity="0.5"/><circle cx="331.6" cy="89.6" r="0.4" fill="#7a5038" opacity="0.5"/><circle cx="276.6" cy="123.5" r="0.4" fill="#7a5038" opacity="0.5"/><circle cx="255.7" cy="56.9" r="0.4" fill="#7a5038" opacity="0.5"/><circle cx="335.6" cy="91.9" r="0.4" fill="#7a5038" opacity="0.5"/><circle cx="289.2" cy="10.8" r="0.4" fill="#7a5038" opacity="0.5"/><circle cx="274.8" cy="101.2" r="0.4" fill="#7a5038" opacity="0.5"/><circle cx="232.2" cy="106.9" r="0.4" fill="#7a5038" opacity="0.5"/><circle cx="298.3" cy="18.6" r="0.4" fill="#7a5038" opacity="0.5"/><circle cx="297.8" cy="83.1" r="0.4" fill="#7a5038" opacity="0.5"/><circle cx="303.4" cy="65.1" r="0.4" fill="#7a5038" opacity="0.5"/><circle cx="306.4" cy="126.3" r="0.4" fill="#7a5038" opacity="0.5"/><circle cx="232.4" cy="18.6" r="0.4" fill="#7a5038" opacity="0.5"/><circle cx="303.0" cy="162.2" r="0.4" fill="#7a5038" opacity="0.5"/><circle cx="257.1" cy="81.6" r="0.4" fill="#7a5038" opacity="0.5"/><circle cx="294.0" cy="59.9" r="0.4" fill="#7a5038" opacity="0.5"/><circle cx="269.3" cy="58.7" r="0.4" fill="#7a5038" opacity="0.5"/><circle cx="269.9" cy="103.7" r="0.4" fill="#7a5038" opacity="0.5"/><circle cx="262.4" cy="69.0" r="0.4" fill="#7a5038" opacity="0.5"/>
<rect x="355.4" y="78" width="77.3" height="19.5" fill="#bd7d55"/>
<rect x="354" y="29.7" width="38" height="33.3" fill="#f8c988"/>
<path d="M390.8,62 L390.8,109" stroke="#ecc07e" stroke-width="1.6" fill="none"/>
<path d="M393.9,65 L393.9,111.8" stroke="#ecc07e" stroke-width="1.6" fill="none"/>
<rect x="392.8" y="111.8" width="38.5" height="37.6" fill="#f8c988"/>
<text x="373.00" y="51.50" font-size="11.5" text-anchor="middle" fill="#111" font-weight="normal" font-style="normal" font-family='"Liberation Sans", sans-serif' >S</text>
<text x="412.00" y="135.50" font-size="11.5" text-anchor="middle" fill="#111" font-weight="normal" font-style="normal" font-family='"Liberation Sans", sans-serif' >D</text>
<text x="357.00" y="115.20" font-size="11" text-anchor="start" fill="#111" font-weight="normal" font-style="normal" font-family='"Liberation Sans", sans-serif' >CNT</text>
<text x="348.30" y="25.50" font-size="12" text-anchor="start" fill="#fff" font-weight="normal" font-style="normal" font-family='"Liberation Sans", sans-serif' >3x</text>
<rect x="352.4" y="75.4" width="82.4" height="25.2" fill="none" stroke="#111" stroke-width="1.3" stroke-dasharray="3,2"/>
<circle cx="412.00" cy="87.30" r="3.30" fill="#ee1c24" stroke="none" stroke-width="1"/>
<path d="M399.5,58.6 L424,58.6 M412,46.5 L412,70.5" stroke="#f41c1c" stroke-width="2.1"/>
<path d="M397.2,58.6 L404,54.8 L404,62.4 Z M426.6,58.6 L419.8,54.8 L419.8,62.4 Z M412,44.0 L408.2,50.8 L415.8,50.8 Z M412,73.0 L408.2,66.2 L415.8,66.2 Z" fill="#f41c1c"/>
<text x="406.50" y="42.80" font-size="10.5" text-anchor="start" fill="#f41c1c" font-weight="normal" font-style="normal" font-family='"Liberation Sans", sans-serif' >90</text><text x="418.50" y="38.50" font-size="7" text-anchor="start" fill="#f41c1c" font-weight="normal" font-style="normal" font-family='"Liberation Sans", sans-serif' >°</text>
<text x="429.80" y="64.20" font-size="10.5" text-anchor="start" fill="#f41c1c" font-weight="normal" font-style="normal" font-family='"Liberation Sans", sans-serif' >0</text><text x="435.80" y="60.00" font-size="7" text-anchor="start" fill="#f41c1c" font-weight="normal" font-style="normal" font-family='"Liberation Sans", sans-serif' >°</text>
<rect x="420" y="159.4" width="19.9" height="2.9" fill="#fff"/>
<text x="460.80" y="13.20" font-size="14.5" text-anchor="start" fill="#000" font-weight="bold" font-style="normal" font-family='"Liberation Sans", sans-serif' >c</text>
<path d="M477.20,37.60 L477.48,37.60 L477.76,37.60 L478.04,37.60 L478.32,37.60 L478.60,37.60 L478.88,37.59 L479.16,37.59 L479.44,37.59 L479.72,37.58 L480.00,37.58 L480.28,37.58 L480.56,37.57 L480.84,37.57 L481.12,37.56 L481.40,37.55 L481.68,37.55 L481.96,37.54 L482.24,37.53 L482.52,37.52 L482.80,37.51 L483.08,37.50 L483.36,37.49 L483.64,37.48 L483.92,37.46 L484.20,37.44 L484.48,37.43 L484.76,37.40 L485.04,37.38 L485.32,37.36 L485.60,37.33 L485.88,37.29 L486.16,37.26 L486.44,37.21 L486.72,37.17 L487.00,37.11 L487.28,37.05 L487.56,36.98 L487.84,36.89 L488.12,36.80 L488.40,36.68 L488.68,36.54 L488.96,36.38 L489.24,36.19 L489.52,35.96 L489.80,35.68 L490.08,35.33 L490.36,34.92 L490.64,34.41 L490.92,33.80 L491.20,33.08 L491.48,32.27 L491.76,31.41 L492.04,30.61 L492.32,30.03 L492.60,29.82 L492.88,30.03 L493.16,30.62 L493.44,31.42 L493.72,32.29 L494.00,33.10 L494.28,33.83 L494.56,34.44 L494.84,34.95 L495.12,35.37 L495.40,35.72 L495.68,36.00 L495.96,36.24 L496.24,36.44 L496.52,36.60 L496.80,36.74 L497.08,36.86 L497.36,36.97 L497.64,37.05 L497.92,37.13 L498.20,37.20 L498.48,37.26 L498.76,37.31 L499.04,37.35 L499.32,37.40 L499.60,37.43 L499.88,37.47 L500.16,37.50 L500.44,37.52 L500.72,37.55 L501.00,37.57 L501.28,37.59 L501.56,37.61 L501.84,37.63 L502.12,37.65 L502.40,37.66 L502.68,37.68 L502.96,37.69 L503.24,37.70 L503.52,37.71 L503.80,37.72 L504.08,37.73 L504.36,37.74 L504.64,37.75 L504.92,37.76 L505.20,37.77 L505.48,37.78 L505.76,37.79 L506.04,37.79 L506.32,37.80 L506.60,37.81 L506.88,37.81 L507.16,37.82 L507.44,37.83 L507.72,37.83 L508.00,37.84 L508.28,37.84 L508.56,37.85 L508.84,37.85 L509.12,37.86 L509.40,37.86 L509.68,37.87 L509.96,37.87 L510.24,37.88 L510.52,37.88 L510.80,37.89 L511.08,37.89 L511.36,37.89 L511.64,37.90 L511.92,37.90 L512.20,37.91 L512.48,37.91 L512.76,37.91 L513.04,37.92 L513.32,37.92 L513.60,37.92 L513.88,37.93 L514.16,37.93 L514.44,37.93 L514.72,37.94 L515.00,37.94 L515.28,37.94 L515.56,37.95 L515.84,37.95 L516.12,37.95 L516.40,37.96 L516.68,37.96 L516.96,37.96 L517.24,37.97 L517.52,37.97 L517.80,37.97 L518.08,37.97 L518.36,37.98 L518.64,37.98 L518.92,37.98 L519.20,37.99 L519.48,37.99 L519.76,37.99 L520.04,37.99 L520.32,38.00 L520.60,38.00 L520.88,38.00 L521.16,38.00 L521.44,38.01 L521.72,38.01 L522.00,38.01 L527.04,37.89 L527.32,37.89 L527.60,37.89 L527.88,37.89 L528.16,37.89 L528.44,37.89 L528.72,37.89 L529.00,37.89 L529.28,37.88 L529.56,37.88 L529.84,37.88 L530.12,37.88 L530.40,37.88 L530.68,37.88 L530.96,37.87 L531.24,37.87 L531.52,37.87 L531.80,37.87 L532.08,37.86 L532.36,37.86 L532.64,37.86 L532.92,37.86 L533.20,37.85 L533.48,37.85 L533.76,37.85 L534.04,37.84 L534.32,37.84 L534.60,37.83 L534.88,37.83 L535.16,37.83 L535.44,37.82 L535.72,37.82 L536.00,37.81 L536.28,37.81 L536.56,37.80 L536.84,37.80 L537.12,37.79 L537.40,37.79 L537.68,37.78 L537.96,37.78 L538.24,37.77 L538.52,37.76 L538.80,37.76 L539.08,37.75 L539.36,37.74 L539.64,37.74 L539.92,37.73 L540.20,37.72 L540.48,37.72 L540.76,37.71 L541.04,37.70 L541.32,37.70 L541.60,37.69 L541.88,37.68 L542.16,37.68 L542.44,37.67 L542.72,37.67 L543.00,37.66 L543.28,37.65 L543.56,37.65 L543.84,37.64 L544.12,37.64 L544.40,37.63 L544.68,37.63 L544.96,37.63 L545.24,37.62 L545.52,37.62 L545.80,37.62 L546.08,37.62 L546.36,37.62 L546.64,37.62 L546.92,37.62 L547.20,37.62 L547.48,37.62 L547.76,37.62 L548.04,37.62 L548.32,37.63 L548.60,37.63 L548.88,37.64 L549.16,37.64 L549.44,37.65 L549.72,37.65 L550.00,37.66 L550.28,37.66 L550.56,37.67 L550.84,37.68 L551.12,37.69 L551.40,37.70 L551.68,37.70 L551.96,37.71 L552.24,37.72 L552.52,37.73 L552.80,37.74 L553.08,37.75 L553.36,37.76 L553.64,37.77 L553.92,37.78 L554.20,37.78 L554.48,37.79 L554.76,37.80 L555.04,37.81 L555.32,37.82 L555.60,37.83 L555.88,37.84 L556.16,37.85 L556.44,37.85 L556.72,37.86 L557.00,37.87 L557.28,37.88 L557.56,37.88 L557.84,37.89 L558.12,37.90 L558.40,37.91 L558.68,37.91 L558.96,37.92 L559.24,37.93 L559.52,37.93 L559.80,37.94 L560.08,37.95 L560.36,37.95 L560.64,37.96 L560.92,37.96 L561.20,37.97 L561.48,37.97 L561.76,37.98 L562.04,37.98 L562.32,37.99 L562.60,37.99 L562.88,38.00 L563.16,38.00 L563.44,38.01 L563.72,38.01 L564.00,38.02 L564.28,38.02 L564.56,38.02 L564.84,38.03 L565.12,38.03 L565.40,38.03 L565.68,38.04 L565.96,38.04 L566.24,38.04 L566.52,38.05 L566.80,38.05 L567.08,38.05 L567.36,38.06 L567.64,38.06 L567.92,38.06 L568.20,38.07 L568.48,38.07 L568.76,38.07 L569.04,38.07 L569.32,38.08 L569.60,38.08 L569.88,38.08 L570.16,38.08 L570.44,38.08 L570.72,38.09 L571.00,38.09 L571.28,38.09 L571.56,38.09 L571.84,38.09 L572.12,38.10 L572.40,38.10 L572.68,38.10 L572.96,38.10 L573.24,38.10 L573.52,38.10 L573.80,38.11 L574.08,38.11 L574.36,38.11 L574.64,38.11 L574.92,38.11 L575.20,38.11 L575.48,38.11 L575.76,38.12 L576.04,38.12 L576.32,38.12 L576.60,38.12 L576.88,38.12 L577.16,38.12 L577.44,38.12 L577.72,38.12 L578.00,38.13 L578.28,38.13 L578.56,38.13 L578.84,38.13 L579.12,38.13 L579.40,38.13 L579.68,38.13 L579.96,38.13 L580.24,38.13 L580.52,38.14 L580.80,38.14 L581.08,38.14 L581.36,38.14 L581.64,38.14 L581.92,38.14 L582.20,38.14 L582.48,38.14 L582.76,38.14 L583.04,38.14 L583.32,38.15 L583.60,38.15 L583.88,38.15 L584.16,38.15 L584.44,38.15 L584.72,38.15 L585.00,38.15 L585.28,38.15 L585.56,38.15 L585.84,38.15 L586.12,38.15 L586.40,38.16 L586.68,38.16 L586.96,38.16 L587.24,38.16 L587.52,38.16 L587.80,38.16 L588.08,38.16 L588.36,38.16 L588.64,38.16 L588.92,38.16 L589.20,38.16 L589.48,38.17 L589.76,38.17 L590.04,38.17 L590.32,38.17 L590.60,38.17 L590.88,38.17 L591.16,38.17 L591.44,38.17 L591.72,38.17 L592.00,38.17 L592.28,38.17 L592.56,38.17 L592.84,38.17 L593.12,38.18 L593.40,38.18 L593.68,38.18 L593.96,38.18 L594.24,38.18 L594.52,38.18 L594.80,38.18 L595.08,38.18 L595.36,38.18 L595.64,38.18 L595.92,38.18 L596.20,38.18 L596.48,38.18 L596.76,38.18 L597.04,38.18 L597.32,38.18 L597.60,38.18 L597.88,38.18 L598.16,38.17 L598.44,38.17 L598.72,38.17 L599.00,38.17 L599.28,38.17 L599.56,38.17 L599.84,38.16 L600.12,38.16 L600.40,38.16 L600.68,38.15 L600.96,38.15 L601.24,38.15 L601.52,38.14 L601.80,38.14 L602.08,38.13 L602.36,38.12 L602.64,38.12 L602.92,38.11 L603.20,38.10 L603.48,38.09 L603.76,38.08 L604.04,38.07 L604.32,38.05 L604.60,38.04 L604.88,38.02 L605.16,38.00 L605.44,37.98 L605.72,37.96 L606.00,37.93 L606.28,37.90 L606.56,37.87 L606.84,37.83 L607.12,37.79 L607.40,37.74 L607.68,37.68 L607.96,37.61 L608.24,37.53 L608.52,37.43 L608.80,37.32 L609.08,37.18 L609.36,37.02 L609.64,36.82 L609.92,36.57 L610.20,36.28 L610.48,35.92 L610.76,35.50 L611.04,35.04 L611.32,34.59 L611.60,34.22 L611.88,34.03 L612.16,34.06 L612.44,34.25 L612.72,34.53 L613.00,34.80 L613.28,35.02 L613.56,35.15 L613.84,35.19 L614.12,35.14 L614.40,34.99 L614.68,34.74 L614.96,34.37 L615.24,33.88 L615.52,33.23 L615.80,32.39 L616.08,31.33 L616.36,30.02 L616.64,28.48 L616.92,26.78 L617.20,25.13 L617.48,23.90 L617.76,23.45 L618.04,23.94 L618.32,25.23 L618.60,26.92 L618.88,28.68 L619.16,30.28 L619.44,31.65 L619.72,32.78 L620.00,33.70 L620.28,34.44 L620.56,35.04 L620.84,35.53 L621.12,35.93 L621.40,36.27 L621.68,36.54 L621.96,36.78 L622.24,36.98 L622.52,37.15 L622.80,37.30 L623.08,37.42 L623.36,37.53 L623.64,37.63 L623.92,37.72 L624.20,37.79 L624.48,37.86 L624.76,37.92 L625.04,37.98 L625.32,38.03 L625.60,38.07 L625.88,38.11 L626.16,38.15 L626.44,38.19 L626.72,38.22 L627.00,38.25 L627.28,38.28 L627.56,38.30 L627.84,38.33 L628.12,38.35 L628.40,38.37 L628.68,38.39 L628.96,38.41 L629.24,38.42 L629.52,38.44 L629.80,38.46 L630.08,38.47 L630.36,38.48 L630.64,38.50 L630.92,38.51 L631.20,38.52 L631.48,38.53 L631.76,38.54 L632.04,38.56 L632.32,38.57 L632.60,38.58 L632.88,38.58 L633.16,38.59 L633.44,38.60 L633.72,38.61 L634.00,38.62 L634.28,38.63 L634.56,38.63 L634.84,38.64 L635.12,38.65 L635.40,38.66 L635.68,38.66 L635.96,38.67 L636.24,38.68 L636.52,38.68 L636.80,38.69 L637.08,38.70 L637.36,38.70 L637.64,38.71 L637.92,38.71 L638.20,38.72 L638.48,38.72 L638.76,38.73 L639.04,38.73 L639.32,38.74 L639.60,38.75 L639.88,38.75 L640.16,38.76 L640.44,38.76 L640.72,38.76 L641.00,38.77 L641.28,38.77 L641.56,38.78 L641.84,38.78 L642.12,38.79 L642.40,38.79 L642.68,38.80 L642.96,38.80 L643.24,38.80 L643.52,38.81 L643.80,38.81 L644.08,38.82 L644.36,38.82 L644.64,38.83 L644.92,38.83 L645.20,38.83 L645.48,38.84 L645.76,38.84 L646.04,38.84 L646.32,38.85 L646.60,38.85 L646.88,38.86 L647.16,38.86 L647.44,38.86 L647.72,38.87 L648.00,38.87" fill="none" stroke="#505050" stroke-width="1.5" stroke-linejoin="round"/>
<text x="647.80" y="36.90" font-size="11.3" text-anchor="end" fill="#8a8a8a" font-weight="normal" font-style="normal" font-family='"Liberation Sans", sans-serif' >0<tspan font-size="8.5" dy="-2.5">°</tspan></text>
<path d="M477.20,55.12 L477.48,55.12 L477.76,55.12 L478.04,55.12 L478.32,55.12 L478.60,55.12 L478.88,55.12 L479.16,55.11 L479.44,55.11 L479.72,55.11 L480.00,55.11 L480.28,55.10 L480.56,55.10 L480.84,55.10 L481.12,55.09 L481.40,55.09 L481.68,55.08 L481.96,55.08 L482.24,55.07 L482.52,55.06 L482.80,55.06 L483.08,55.05 L483.36,55.04 L483.64,55.03 L483.92,55.02 L484.20,55.00 L484.48,54.99 L484.76,54.97 L485.04,54.95 L485.32,54.93 L485.60,54.91 L485.88,54.88 L486.16,54.85 L486.44,54.82 L486.72,54.78 L487.00,54.74 L487.28,54.69 L487.56,54.63 L487.84,54.56 L488.12,54.48 L488.40,54.39 L488.68,54.28 L488.96,54.15 L489.24,53.99 L489.52,53.80 L489.80,53.57 L490.08,53.30 L490.36,52.96 L490.64,52.55 L490.92,52.05 L491.20,51.47 L491.48,50.81 L491.76,50.11 L492.04,49.46 L492.32,48.99 L492.60,48.82 L492.88,48.99 L493.16,49.47 L493.44,50.12 L493.72,50.82 L494.00,51.49 L494.28,52.08 L494.56,52.58 L494.84,52.99 L495.12,53.34 L495.40,53.62 L495.68,53.85 L495.96,54.04 L496.24,54.20 L496.52,54.34 L496.80,54.45 L497.08,54.55 L497.36,54.63 L497.64,54.70 L497.92,54.77 L498.20,54.82 L498.48,54.87 L498.76,54.91 L499.04,54.95 L499.32,54.98 L499.60,55.02 L499.88,55.04 L500.16,55.07 L500.44,55.09 L500.72,55.11 L501.00,55.13 L501.28,55.15 L501.56,55.16 L501.84,55.18 L502.12,55.19 L502.40,55.20 L502.68,55.22 L502.96,55.23 L503.24,55.24 L503.52,55.25 L503.80,55.26 L504.08,55.27 L504.36,55.28 L504.64,55.28 L504.92,55.29 L505.20,55.30 L505.48,55.31 L505.76,55.31 L506.04,55.32 L506.32,55.32 L506.60,55.33 L506.88,55.34 L507.16,55.34 L507.44,55.35 L507.72,55.35 L508.00,55.36 L508.28,55.36 L508.56,55.37 L508.84,55.37 L509.12,55.37 L509.40,55.38 L509.68,55.38 L509.96,55.39 L510.24,55.39 L510.52,55.40 L510.80,55.40 L511.08,55.40 L511.36,55.41 L511.64,55.41 L511.92,55.41 L512.20,55.42 L512.48,55.42 L512.76,55.42 L513.04,55.43 L513.32,55.43 L513.60,55.43 L513.88,55.44 L514.16,55.44 L514.44,55.44 L514.72,55.45 L515.00,55.45 L515.28,55.45 L515.56,55.46 L515.84,55.46 L516.12,55.46 L516.40,55.46 L516.68,55.47 L516.96,55.47 L517.24,55.47 L517.52,55.48 L517.80,55.48 L518.08,55.48 L518.36,55.48 L518.64,55.49 L518.92,55.49 L519.20,55.49 L519.48,55.49 L519.76,55.50 L520.04,55.50 L520.32,55.50 L520.60,55.51 L520.88,55.51 L521.16,55.51 L521.44,55.51 L521.72,55.52 L522.00,55.52 L527.04,55.43 L527.32,55.43 L527.60,55.43 L527.88,55.43 L528.16,55.43 L528.44,55.43 L528.72,55.43 L529.00,55.43 L529.28,55.43 L529.56,55.43 L529.84,55.43 L530.12,55.42 L530.40,55.42 L530.68,55.42 L530.96,55.42 L531.24,55.42 L531.52,55.42 L531.80,55.42 L532.08,55.42 L532.36,55.41 L532.64,55.41 L532.92,55.41 L533.20,55.41 L533.48,55.41 L533.76,55.40 L534.04,55.40 L534.32,55.40 L534.60,55.40 L534.88,55.39 L535.16,55.39 L535.44,55.39 L535.72,55.38 L536.00,55.38 L536.28,55.38 L536.56,55.37 L536.84,55.37 L537.12,55.36 L537.40,55.36 L537.68,55.36 L537.96,55.35 L538.24,55.35 L538.52,55.34 L538.80,55.34 L539.08,55.33 L539.36,55.33 L539.64,55.32 L539.92,55.32 L540.20,55.31 L540.48,55.31 L540.76,55.30 L541.04,55.30 L541.32,55.29 L541.60,55.29 L541.88,55.28 L542.16,55.28 L542.44,55.28 L542.72,55.27 L543.00,55.27 L543.28,55.26 L543.56,55.26 L543.84,55.25 L544.12,55.25 L544.40,55.25 L544.68,55.24 L544.96,55.24 L545.24,55.24 L545.52,55.24 L545.80,55.24 L546.08,55.24 L546.36,55.24 L546.64,55.24 L546.92,55.24 L547.20,55.24 L547.48,55.24 L547.76,55.24 L548.04,55.24 L548.32,55.25 L548.60,55.25 L548.88,55.26 L549.16,55.26 L549.44,55.26 L549.72,55.27 L550.00,55.28 L550.28,55.28 L550.56,55.29 L550.84,55.29 L551.12,55.30 L551.40,55.31 L551.68,55.32 L551.96,55.32 L552.24,55.33 L552.52,55.34 L552.80,55.35 L553.08,55.35 L553.36,55.36 L553.64,55.37 L553.92,55.38 L554.20,55.39 L554.48,55.39 L554.76,55.40 L555.04,55.41 L555.32,55.42 L555.60,55.42 L555.88,55.43 L556.16,55.44 L556.44,55.45 L556.72,55.45 L557.00,55.46 L557.28,55.47 L557.56,55.47 L557.84,55.48 L558.12,55.49 L558.40,55.49 L558.68,55.50 L558.96,55.50 L559.24,55.51 L559.52,55.51 L559.80,55.52 L560.08,55.53 L560.36,55.53 L560.64,55.54 L560.92,55.54 L561.20,55.55 L561.48,55.55 L561.76,55.56 L562.04,55.56 L562.32,55.56 L562.60,55.57 L562.88,55.57 L563.16,55.58 L563.44,55.58 L563.72,55.59 L564.00,55.59 L564.28,55.59 L564.56,55.60 L564.84,55.60 L565.12,55.60 L565.40,55.61 L565.68,55.61 L565.96,55.61 L566.24,55.62 L566.52,55.62 L566.80,55.62 L567.08,55.63 L567.36,55.63 L567.64,55.63 L567.92,55.63 L568.20,55.64 L568.48,55.64 L568.76,55.64 L569.04,55.64 L569.32,55.65 L569.60,55.65 L569.88,55.65 L570.16,55.65 L570.44,55.66 L570.72,55.66 L571.00,55.66 L571.28,55.66 L571.56,55.66 L571.84,55.67 L572.12,55.67 L572.40,55.67 L572.68,55.67 L572.96,55.67 L573.24,55.68 L573.52,55.68 L573.80,55.68 L574.08,55.68 L574.36,55.68 L574.64,55.68 L574.92,55.69 L575.20,55.69 L575.48,55.69 L575.76,55.69 L576.04,55.69 L576.32,55.69 L576.60,55.70 L576.88,55.70 L577.16,55.70 L577.44,55.70 L577.72,55.70 L578.00,55.70 L578.28,55.70 L578.56,55.71 L578.84,55.71 L579.12,55.71 L579.40,55.71 L579.68,55.71 L579.96,55.71 L580.24,55.71 L580.52,55.71 L580.80,55.72 L581.08,55.72 L581.36,55.72 L581.64,55.72 L581.92,55.72 L582.20,55.72 L582.48,55.72 L582.76,55.72 L583.04,55.73 L583.32,55.73 L583.60,55.73 L583.88,55.73 L584.16,55.73 L584.44,55.73 L584.72,55.73 L585.00,55.73 L585.28,55.74 L585.56,55.74 L585.84,55.74 L586.12,55.74 L586.40,55.74 L586.68,55.74 L586.96,55.74 L587.24,55.74 L587.52,55.75 L587.80,55.75 L588.08,55.75 L588.36,55.75 L588.64,55.75 L588.92,55.75 L589.20,55.75 L589.48,55.75 L589.76,55.75 L590.04,55.76 L590.32,55.76 L590.60,55.76 L590.88,55.76 L591.16,55.76 L591.44,55.76 L591.72,55.76 L592.00,55.76 L592.28,55.76 L592.56,55.77 L592.84,55.77 L593.12,55.77 L593.40,55.77 L593.68,55.77 L593.96,55.77 L594.24,55.77 L594.52,55.77 L594.80,55.77 L595.08,55.77 L595.36,55.77 L595.64,55.77 L595.92,55.77 L596.20,55.77 L596.48,55.78 L596.76,55.78 L597.04,55.78 L597.32,55.78 L597.60,55.78 L597.88,55.77 L598.16,55.77 L598.44,55.77 L598.72,55.77 L599.00,55.77 L599.28,55.77 L599.56,55.77 L599.84,55.77 L600.12,55.77 L600.40,55.76 L600.68,55.76 L600.96,55.76 L601.24,55.76 L601.52,55.75 L601.80,55.75 L602.08,55.74 L602.36,55.74 L602.64,55.73 L602.92,55.73 L603.20,55.72 L603.48,55.71 L603.76,55.70 L604.04,55.70 L604.32,55.68 L604.60,55.67 L604.88,55.66 L605.16,55.64 L605.44,55.63 L605.72,55.61 L606.00,55.59 L606.28,55.56 L606.56,55.54 L606.84,55.50 L607.12,55.47 L607.40,55.43 L607.68,55.38 L607.96,55.32 L608.24,55.25 L608.52,55.17 L608.80,55.08 L609.08,54.97 L609.36,54.83 L609.64,54.66 L609.92,54.45 L610.20,54.20 L610.48,53.90 L610.76,53.54 L611.04,53.15 L611.32,52.77 L611.60,52.47 L611.88,52.31 L612.16,52.34 L612.44,52.52 L612.72,52.77 L613.00,53.02 L613.28,53.21 L613.56,53.34 L613.84,53.40 L614.12,53.38 L614.40,53.28 L614.68,53.10 L614.96,52.83 L615.24,52.47 L615.52,51.97 L615.80,51.34 L616.08,50.54 L616.36,49.54 L616.64,48.36 L616.92,47.06 L617.20,45.81 L617.48,44.87 L617.76,44.52 L618.04,44.91 L618.32,45.89 L618.60,47.19 L618.88,48.54 L619.16,49.76 L619.44,50.81 L619.72,51.68 L620.00,52.38 L620.28,52.95 L620.56,53.41 L620.84,53.79 L621.12,54.10 L621.40,54.35 L621.68,54.57 L621.96,54.75 L622.24,54.90 L622.52,55.03 L622.80,55.14 L623.08,55.24 L623.36,55.33 L623.64,55.40 L623.92,55.47 L624.20,55.53 L624.48,55.58 L624.76,55.63 L625.04,55.67 L625.32,55.71 L625.60,55.75 L625.88,55.78 L626.16,55.81 L626.44,55.84 L626.72,55.86 L627.00,55.88 L627.28,55.91 L627.56,55.93 L627.84,55.94 L628.12,55.96 L628.40,55.98 L628.68,55.99 L628.96,56.01 L629.24,56.02 L629.52,56.04 L629.80,56.05 L630.08,56.06 L630.36,56.07 L630.64,56.08 L630.92,56.09 L631.20,56.10 L631.48,56.11 L631.76,56.12 L632.04,56.13 L632.32,56.14 L632.60,56.15 L632.88,56.15 L633.16,56.16 L633.44,56.17 L633.72,56.17 L634.00,56.18 L634.28,56.19 L634.56,56.19 L634.84,56.20 L635.12,56.21 L635.40,56.21 L635.68,56.22 L635.96,56.22 L636.24,56.23 L636.52,56.24 L636.80,56.24 L637.08,56.25 L637.36,56.25 L637.64,56.26 L637.92,56.26 L638.20,56.27 L638.48,56.27 L638.76,56.28 L639.04,56.28 L639.32,56.28 L639.60,56.29 L639.88,56.29 L640.16,56.30 L640.44,56.30 L640.72,56.31 L641.00,56.31 L641.28,56.31 L641.56,56.32 L641.84,56.32 L642.12,56.33 L642.40,56.33 L642.68,56.33 L642.96,56.34 L643.24,56.34 L643.52,56.34 L643.80,56.35 L644.08,56.35 L644.36,56.36 L644.64,56.36 L644.92,56.36 L645.20,56.37 L645.48,56.37 L645.76,56.37 L646.04,56.38 L646.32,56.38 L646.60,56.38 L646.88,56.39 L647.16,56.39 L647.44,56.39 L647.72,56.40 L648.00,56.40" fill="none" stroke="#ee3b3e" stroke-width="1.5" stroke-linejoin="round"/>
<text x="647.80" y="54.40" font-size="11.3" text-anchor="end" fill="#ee3b3e" font-weight="normal" font-style="normal" font-family='"Liberation Sans", sans-serif' >30<tspan font-size="8.5" dy="-2.5">°</tspan></text>
<path d="M477.20,71.78 L477.48,71.78 L477.76,71.78 L478.04,71.78 L478.32,71.78 L478.60,71.78 L478.88,71.78 L479.16,71.79 L479.44,71.79 L479.72,71.79 L480.00,71.79 L480.28,71.79 L480.56,71.79 L480.84,71.79 L481.12,71.79 L481.40,71.79 L481.68,71.79 L481.96,71.79 L482.24,71.79 L482.52,71.79 L482.80,71.79 L483.08,71.79 L483.36,71.78 L483.64,71.78 L483.92,71.78 L484.20,71.78 L484.48,71.77 L484.76,71.77 L485.04,71.77 L485.32,71.76 L485.60,71.76 L485.88,71.75 L486.16,71.74 L486.44,71.73 L486.72,71.72 L487.00,71.71 L487.28,71.70 L487.56,71.68 L487.84,71.66 L488.12,71.64 L488.40,71.61 L488.68,71.58 L488.96,71.54 L489.24,71.49 L489.52,71.44 L489.80,71.37 L490.08,71.28 L490.36,71.18 L490.64,71.06 L490.92,70.91 L491.20,70.73 L491.48,70.52 L491.76,70.31 L492.04,70.11 L492.32,69.97 L492.60,69.92 L492.88,69.97 L493.16,70.12 L493.44,70.32 L493.72,70.54 L494.00,70.75 L494.28,70.93 L494.56,71.09 L494.84,71.21 L495.12,71.32 L495.40,71.41 L495.68,71.48 L495.96,71.54 L496.24,71.59 L496.52,71.64 L496.80,71.67 L497.08,71.71 L497.36,71.73 L497.64,71.76 L497.92,71.78 L498.20,71.80 L498.48,71.81 L498.76,71.83 L499.04,71.84 L499.32,71.85 L499.60,71.86 L499.88,71.87 L500.16,71.88 L500.44,71.89 L500.72,71.90 L501.00,71.90 L501.28,71.91 L501.56,71.92 L501.84,71.92 L502.12,71.93 L502.40,71.94 L502.68,71.94 L502.96,71.95 L503.24,71.95 L503.52,71.95 L503.80,71.96 L504.08,71.96 L504.36,71.97 L504.64,71.97 L504.92,71.98 L505.20,71.98 L505.48,71.98 L505.76,71.99 L506.04,71.99 L506.32,71.99 L506.60,72.00 L506.88,72.00 L507.16,72.00 L507.44,72.01 L507.72,72.01 L508.00,72.01 L508.28,72.01 L508.56,72.02 L508.84,72.02 L509.12,72.02 L509.40,72.03 L509.68,72.03 L509.96,72.03 L510.24,72.03 L510.52,72.04 L510.80,72.04 L511.08,72.04 L511.36,72.04 L511.64,72.05 L511.92,72.05 L512.20,72.05 L512.48,72.05 L512.76,72.06 L513.04,72.06 L513.32,72.06 L513.60,72.06 L513.88,72.07 L514.16,72.07 L514.44,72.07 L514.72,72.07 L515.00,72.08 L515.28,72.08 L515.56,72.08 L515.84,72.08 L516.12,72.09 L516.40,72.09 L516.68,72.09 L516.96,72.09 L517.24,72.10 L517.52,72.10 L517.80,72.10 L518.08,72.10 L518.36,72.11 L518.64,72.11 L518.92,72.11 L519.20,72.11 L519.48,72.11 L519.76,72.12 L520.04,72.12 L520.32,72.12 L520.60,72.12 L520.88,72.13 L521.16,72.13 L521.44,72.13 L521.72,72.13 L522.00,72.13 L527.04,72.14 L527.32,72.14 L527.60,72.14 L527.88,72.14 L528.16,72.14 L528.44,72.14 L528.72,72.15 L529.00,72.15 L529.28,72.15 L529.56,72.15 L529.84,72.15 L530.12,72.15 L530.40,72.15 L530.68,72.15 L530.96,72.16 L531.24,72.16 L531.52,72.16 L531.80,72.16 L532.08,72.16 L532.36,72.16 L532.64,72.16 L532.92,72.16 L533.20,72.16 L533.48,72.16 L533.76,72.16 L534.04,72.17 L534.32,72.17 L534.60,72.17 L534.88,72.17 L535.16,72.17 L535.44,72.17 L535.72,72.17 L536.00,72.17 L536.28,72.17 L536.56,72.17 L536.84,72.17 L537.12,72.17 L537.40,72.17 L537.68,72.17 L537.96,72.17 L538.24,72.17 L538.52,72.17 L538.80,72.17 L539.08,72.17 L539.36,72.17 L539.64,72.17 L539.92,72.17 L540.20,72.17 L540.48,72.17 L540.76,72.17 L541.04,72.17 L541.32,72.17 L541.60,72.17 L541.88,72.17 L542.16,72.17 L542.44,72.17 L542.72,72.17 L543.00,72.17 L543.28,72.17 L543.56,72.17 L543.84,72.17 L544.12,72.17 L544.40,72.17 L544.68,72.17 L544.96,72.18 L545.24,72.18 L545.52,72.18 L545.80,72.18 L546.08,72.18 L546.36,72.18 L546.64,72.18 L546.92,72.18 L547.20,72.19 L547.48,72.19 L547.76,72.19 L548.04,72.19 L548.32,72.20 L548.60,72.20 L548.88,72.20 L549.16,72.20 L549.44,72.21 L549.72,72.21 L550.00,72.21 L550.28,72.22 L550.56,72.22 L550.84,72.22 L551.12,72.23 L551.40,72.23 L551.68,72.23 L551.96,72.24 L552.24,72.24 L552.52,72.25 L552.80,72.25 L553.08,72.25 L553.36,72.26 L553.64,72.26 L553.92,72.27 L554.20,72.27 L554.48,72.27 L554.76,72.28 L555.04,72.28 L555.32,72.29 L555.60,72.29 L555.88,72.29 L556.16,72.30 L556.44,72.30 L556.72,72.30 L557.00,72.31 L557.28,72.31 L557.56,72.32 L557.84,72.32 L558.12,72.32 L558.40,72.33 L558.68,72.33 L558.96,72.33 L559.24,72.34 L559.52,72.34 L559.80,72.34 L560.08,72.35 L560.36,72.35 L560.64,72.35 L560.92,72.35 L561.20,72.36 L561.48,72.36 L561.76,72.36 L562.04,72.37 L562.32,72.37 L562.60,72.37 L562.88,72.38 L563.16,72.38 L563.44,72.38 L563.72,72.38 L564.00,72.39 L564.28,72.39 L564.56,72.39 L564.84,72.39 L565.12,72.40 L565.40,72.40 L565.68,72.40 L565.96,72.40 L566.24,72.41 L566.52,72.41 L566.80,72.41 L567.08,72.41 L567.36,72.42 L567.64,72.42 L567.92,72.42 L568.20,72.42 L568.48,72.43 L568.76,72.43 L569.04,72.43 L569.32,72.43 L569.60,72.44 L569.88,72.44 L570.16,72.44 L570.44,72.44 L570.72,72.44 L571.00,72.45 L571.28,72.45 L571.56,72.45 L571.84,72.45 L572.12,72.46 L572.40,72.46 L572.68,72.46 L572.96,72.46 L573.24,72.46 L573.52,72.47 L573.80,72.47 L574.08,72.47 L574.36,72.47 L574.64,72.47 L574.92,72.48 L575.20,72.48 L575.48,72.48 L575.76,72.48 L576.04,72.49 L576.32,72.49 L576.60,72.49 L576.88,72.49 L577.16,72.49 L577.44,72.50 L577.72,72.50 L578.00,72.50 L578.28,72.50 L578.56,72.50 L578.84,72.51 L579.12,72.51 L579.40,72.51 L579.68,72.51 L579.96,72.51 L580.24,72.51 L580.52,72.52 L580.80,72.52 L581.08,72.52 L581.36,72.52 L581.64,72.52 L581.92,72.53 L582.20,72.53 L582.48,72.53 L582.76,72.53 L583.04,72.53 L583.32,72.54 L583.60,72.54 L583.88,72.54 L584.16,72.54 L584.44,72.54 L584.72,72.55 L585.00,72.55 L585.28,72.55 L585.56,72.55 L585.84,72.55 L586.12,72.56 L586.40,72.56 L586.68,72.56 L586.96,72.56 L587.24,72.56 L587.52,72.56 L587.80,72.57 L588.08,72.57 L588.36,72.57 L588.64,72.57 L588.92,72.57 L589.20,72.58 L589.48,72.58 L589.76,72.58 L590.04,72.58 L590.32,72.58 L590.60,72.59 L590.88,72.59 L591.16,72.59 L591.44,72.59 L591.72,72.59 L592.00,72.59 L592.28,72.60 L592.56,72.60 L592.84,72.60 L593.12,72.60 L593.40,72.60 L593.68,72.61 L593.96,72.61 L594.24,72.61 L594.52,72.61 L594.80,72.61 L595.08,72.61 L595.36,72.62 L595.64,72.62 L595.92,72.62 L596.20,72.62 L596.48,72.62 L596.76,72.62 L597.04,72.63 L597.32,72.63 L597.60,72.63 L597.88,72.63 L598.16,72.63 L598.44,72.63 L598.72,72.63 L599.00,72.64 L599.28,72.64 L599.56,72.64 L599.84,72.64 L600.12,72.64 L600.40,72.64 L600.68,72.64 L600.96,72.64 L601.24,72.64 L601.52,72.64 L601.80,72.64 L602.08,72.64 L602.36,72.64 L602.64,72.64 L602.92,72.64 L603.20,72.64 L603.48,72.64 L603.76,72.64 L604.04,72.64 L604.32,72.64 L604.60,72.64 L604.88,72.63 L605.16,72.63 L605.44,72.63 L605.72,72.62 L606.00,72.62 L606.28,72.61 L606.56,72.60 L606.84,72.60 L607.12,72.59 L607.40,72.57 L607.68,72.56 L607.96,72.54 L608.24,72.53 L608.52,72.50 L608.80,72.47 L609.08,72.44 L609.36,72.40 L609.64,72.34 L609.92,72.28 L610.20,72.20 L610.48,72.10 L610.76,71.99 L611.04,71.86 L611.32,71.74 L611.60,71.65 L611.88,71.60 L612.16,71.62 L612.44,71.69 L612.72,71.78 L613.00,71.87 L613.28,71.95 L613.56,72.01 L613.84,72.04 L614.12,72.05 L614.40,72.04 L614.68,72.01 L614.96,71.96 L615.24,71.87 L615.52,71.76 L615.80,71.61 L616.08,71.42 L616.36,71.18 L616.64,70.90 L616.92,70.58 L617.20,70.28 L617.48,70.05 L617.76,69.97 L618.04,70.06 L618.32,70.31 L618.60,70.63 L618.88,70.96 L619.16,71.27 L619.44,71.53 L619.72,71.74 L620.00,71.92 L620.28,72.06 L620.56,72.18 L620.84,72.27 L621.12,72.35 L621.40,72.41 L621.68,72.47 L621.96,72.51 L622.24,72.55 L622.52,72.59 L622.80,72.62 L623.08,72.64 L623.36,72.67 L623.64,72.69 L623.92,72.70 L624.20,72.72 L624.48,72.74 L624.76,72.75 L625.04,72.76 L625.32,72.77 L625.60,72.78 L625.88,72.79 L626.16,72.80 L626.44,72.81 L626.72,72.82 L627.00,72.83 L627.28,72.83 L627.56,72.84 L627.84,72.85 L628.12,72.85 L628.40,72.86 L628.68,72.86 L628.96,72.87 L629.24,72.87 L629.52,72.88 L629.80,72.88 L630.08,72.89 L630.36,72.89 L630.64,72.90 L630.92,72.90 L631.20,72.90 L631.48,72.91 L631.76,72.91 L632.04,72.92 L632.32,72.92 L632.60,72.92 L632.88,72.93 L633.16,72.93 L633.44,72.93 L633.72,72.94 L634.00,72.94 L634.28,72.94 L634.56,72.95 L634.84,72.95 L635.12,72.95 L635.40,72.96 L635.68,72.96 L635.96,72.96 L636.24,72.96 L636.52,72.97 L636.80,72.97 L637.08,72.97 L637.36,72.98 L637.64,72.98 L637.92,72.98 L638.20,72.99 L638.48,72.99 L638.76,72.99 L639.04,72.99 L639.32,73.00 L639.60,73.00 L639.88,73.00 L640.16,73.00 L640.44,73.01 L640.72,73.01 L641.00,73.01 L641.28,73.01 L641.56,73.02 L641.84,73.02 L642.12,73.02 L642.40,73.03 L642.68,73.03 L642.96,73.03 L643.24,73.03 L643.52,73.04 L643.80,73.04 L644.08,73.04 L644.36,73.04 L644.64,73.05 L644.92,73.05 L645.20,73.05 L645.48,73.05 L645.76,73.06 L646.04,73.06 L646.32,73.06 L646.60,73.06 L646.88,73.06 L647.16,73.07 L647.44,73.07 L647.72,73.07 L648.00,73.07" fill="none" stroke="#2f6fd8" stroke-width="1.5" stroke-linejoin="round"/>
<text x="647.80" y="71.00" font-size="11.3" text-anchor="end" fill="#2f6fd8" font-weight="normal" font-style="normal" font-family='"Liberation Sans", sans-serif' >60<tspan font-size="8.5" dy="-2.5">°</tspan></text>
<path d="M477.20,89.10 L477.48,89.10 L477.76,89.10 L478.04,89.11 L478.32,89.11 L478.60,89.11 L478.88,89.11 L479.16,89.11 L479.44,89.12 L479.72,89.12 L480.00,89.12 L480.28,89.12 L480.56,89.13 L480.84,89.13 L481.12,89.13 L481.40,89.13 L481.68,89.13 L481.96,89.14 L482.24,89.14 L482.52,89.14 L482.80,89.14 L483.08,89.14 L483.36,89.15 L483.64,89.15 L483.92,89.15 L484.20,89.15 L484.48,89.15 L484.76,89.15 L485.04,89.16 L485.32,89.16 L485.60,89.16 L485.88,89.16 L486.16,89.16 L486.44,89.16 L486.72,89.17 L487.00,89.17 L487.28,89.17 L487.56,89.17 L487.84,89.17 L488.12,89.17 L488.40,89.17 L488.68,89.17 L488.96,89.17 L489.24,89.17 L489.52,89.17 L489.80,89.17 L490.08,89.17 L490.36,89.17 L490.64,89.16 L490.92,89.16 L491.20,89.15 L491.48,89.14 L491.76,89.13 L492.04,89.12 L492.32,89.12 L492.60,89.12 L492.88,89.12 L493.16,89.13 L493.44,89.14 L493.72,89.16 L494.00,89.17 L494.28,89.18 L494.56,89.19 L494.84,89.20 L495.12,89.21 L495.40,89.21 L495.68,89.22 L495.96,89.22 L496.24,89.23 L496.52,89.23 L496.80,89.24 L497.08,89.24 L497.36,89.24 L497.64,89.25 L497.92,89.25 L498.20,89.25 L498.48,89.26 L498.76,89.26 L499.04,89.26 L499.32,89.26 L499.60,89.27 L499.88,89.27 L500.16,89.27 L500.44,89.27 L500.72,89.28 L501.00,89.28 L501.28,89.28 L501.56,89.28 L501.84,89.29 L502.12,89.29 L502.40,89.29 L502.68,89.29 L502.96,89.29 L503.24,89.30 L503.52,89.30 L503.80,89.30 L504.08,89.30 L504.36,89.31 L504.64,89.31 L504.92,89.31 L505.20,89.31 L505.48,89.31 L505.76,89.32 L506.04,89.32 L506.32,89.32 L506.60,89.32 L506.88,89.33 L507.16,89.33 L507.44,89.33 L507.72,89.33 L508.00,89.33 L508.28,89.34 L508.56,89.34 L508.84,89.34 L509.12,89.34 L509.40,89.35 L509.68,89.35 L509.96,89.35 L510.24,89.35 L510.52,89.35 L510.80,89.36 L511.08,89.36 L511.36,89.36 L511.64,89.36 L511.92,89.36 L512.20,89.37 L512.48,89.37 L512.76,89.37 L513.04,89.37 L513.32,89.38 L513.60,89.38 L513.88,89.38 L514.16,89.38 L514.44,89.38 L514.72,89.39 L515.00,89.39 L515.28,89.39 L515.56,89.39 L515.84,89.39 L516.12,89.40 L516.40,89.40 L516.68,89.40 L516.96,89.40 L517.24,89.41 L517.52,89.41 L517.80,89.41 L518.08,89.41 L518.36,89.41 L518.64,89.42 L518.92,89.42 L519.20,89.42 L519.48,89.42 L519.76,89.42 L520.04,89.43 L520.32,89.43 L520.60,89.43 L520.88,89.43 L521.16,89.44 L521.44,89.44 L521.72,89.44 L522.00,89.44 L527.04,89.48 L527.32,89.48 L527.60,89.48 L527.88,89.48 L528.16,89.49 L528.44,89.49 L528.72,89.49 L529.00,89.49 L529.28,89.49 L529.56,89.50 L529.84,89.50 L530.12,89.50 L530.40,89.50 L530.68,89.50 L530.96,89.51 L531.24,89.51 L531.52,89.51 L531.80,89.51 L532.08,89.51 L532.36,89.52 L532.64,89.52 L532.92,89.52 L533.20,89.52 L533.48,89.52 L533.76,89.53 L534.04,89.53 L534.32,89.53 L534.60,89.53 L534.88,89.53 L535.16,89.54 L535.44,89.54 L535.72,89.54 L536.00,89.54 L536.28,89.55 L536.56,89.55 L536.84,89.55 L537.12,89.55 L537.40,89.55 L537.68,89.56 L537.96,89.56 L538.24,89.56 L538.52,89.56 L538.80,89.56 L539.08,89.57 L539.36,89.57 L539.64,89.57 L539.92,89.57 L540.20,89.57 L540.48,89.58 L540.76,89.58 L541.04,89.58 L541.32,89.58 L541.60,89.58 L541.88,89.59 L542.16,89.59 L542.44,89.59 L542.72,89.59 L543.00,89.59 L543.28,89.60 L543.56,89.60 L543.84,89.60 L544.12,89.60 L544.40,89.60 L544.68,89.61 L544.96,89.61 L545.24,89.61 L545.52,89.61 L545.80,89.61 L546.08,89.62 L546.36,89.62 L546.64,89.62 L546.92,89.62 L547.20,89.62 L547.48,89.63 L547.76,89.63 L548.04,89.63 L548.32,89.63 L548.60,89.63 L548.88,89.64 L549.16,89.64 L549.44,89.64 L549.72,89.64 L550.00,89.65 L550.28,89.65 L550.56,89.65 L550.84,89.65 L551.12,89.65 L551.40,89.66 L551.68,89.66 L551.96,89.66 L552.24,89.66 L552.52,89.67 L552.80,89.67 L553.08,89.67 L553.36,89.67 L553.64,89.67 L553.92,89.68 L554.20,89.68 L554.48,89.68 L554.76,89.68 L555.04,89.69 L555.32,89.69 L555.60,89.69 L555.88,89.69 L556.16,89.69 L556.44,89.70 L556.72,89.70 L557.00,89.70 L557.28,89.70 L557.56,89.70 L557.84,89.71 L558.12,89.71 L558.40,89.71 L558.68,89.71 L558.96,89.72 L559.24,89.72 L559.52,89.72 L559.80,89.72 L560.08,89.72 L560.36,89.73 L560.64,89.73 L560.92,89.73 L561.20,89.73 L561.48,89.74 L561.76,89.74 L562.04,89.74 L562.32,89.74 L562.60,89.74 L562.88,89.75 L563.16,89.75 L563.44,89.75 L563.72,89.75 L564.00,89.75 L564.28,89.76 L564.56,89.76 L564.84,89.76 L565.12,89.76 L565.40,89.76 L565.68,89.77 L565.96,89.77 L566.24,89.77 L566.52,89.77 L566.80,89.78 L567.08,89.78 L567.36,89.78 L567.64,89.78 L567.92,89.78 L568.20,89.79 L568.48,89.79 L568.76,89.79 L569.04,89.79 L569.32,89.79 L569.60,89.80 L569.88,89.80 L570.16,89.80 L570.44,89.80 L570.72,89.81 L571.00,89.81 L571.28,89.81 L571.56,89.81 L571.84,89.81 L572.12,89.82 L572.40,89.82 L572.68,89.82 L572.96,89.82 L573.24,89.82 L573.52,89.83 L573.80,89.83 L574.08,89.83 L574.36,89.83 L574.64,89.83 L574.92,89.84 L575.20,89.84 L575.48,89.84 L575.76,89.84 L576.04,89.84 L576.32,89.85 L576.60,89.85 L576.88,89.85 L577.16,89.85 L577.44,89.86 L577.72,89.86 L578.00,89.86 L578.28,89.86 L578.56,89.86 L578.84,89.87 L579.12,89.87 L579.40,89.87 L579.68,89.87 L579.96,89.87 L580.24,89.88 L580.52,89.88 L580.80,89.88 L581.08,89.88 L581.36,89.88 L581.64,89.89 L581.92,89.89 L582.20,89.89 L582.48,89.89 L582.76,89.89 L583.04,89.90 L583.32,89.90 L583.60,89.90 L583.88,89.90 L584.16,89.91 L584.44,89.91 L584.72,89.91 L585.00,89.91 L585.28,89.91 L585.56,89.92 L585.84,89.92 L586.12,89.92 L586.40,89.92 L586.68,89.92 L586.96,89.93 L587.24,89.93 L587.52,89.93 L587.80,89.93 L588.08,89.93 L588.36,89.94 L588.64,89.94 L588.92,89.94 L589.20,89.94 L589.48,89.95 L589.76,89.95 L590.04,89.95 L590.32,89.95 L590.60,89.95 L590.88,89.96 L591.16,89.96 L591.44,89.96 L591.72,89.96 L592.00,89.96 L592.28,89.97 L592.56,89.97 L592.84,89.97 L593.12,89.97 L593.40,89.97 L593.68,89.98 L593.96,89.98 L594.24,89.98 L594.52,89.98 L594.80,89.98 L595.08,89.99 L595.36,89.99 L595.64,89.99 L595.92,89.99 L596.20,90.00 L596.48,90.00 L596.76,90.00 L597.04,90.00 L597.32,90.00 L597.60,90.01 L597.88,90.01 L598.16,90.01 L598.44,90.01 L598.72,90.01 L599.00,90.02 L599.28,90.02 L599.56,90.02 L599.84,90.02 L600.12,90.02 L600.40,90.03 L600.68,90.03 L600.96,90.03 L601.24,90.03 L601.52,90.03 L601.80,90.04 L602.08,90.04 L602.36,90.04 L602.64,90.04 L602.92,90.04 L603.20,90.04 L603.48,90.05 L603.76,90.05 L604.04,90.05 L604.32,90.05 L604.60,90.05 L604.88,90.05 L605.16,90.06 L605.44,90.06 L605.72,90.06 L606.00,90.06 L606.28,90.06 L606.56,90.06 L606.84,90.06 L607.12,90.06 L607.40,90.07 L607.68,90.07 L607.96,90.07 L608.24,90.07 L608.52,90.07 L608.80,90.06 L609.08,90.06 L609.36,90.06 L609.64,90.06 L609.92,90.05 L610.20,90.04 L610.48,90.04 L610.76,90.03 L611.04,90.02 L611.32,90.00 L611.60,90.00 L611.88,89.99 L612.16,90.00 L612.44,90.00 L612.72,90.01 L613.00,90.02 L613.28,90.03 L613.56,90.04 L613.84,90.04 L614.12,90.04 L614.40,90.04 L614.68,90.04 L614.96,90.03 L615.24,90.02 L615.52,90.00 L615.80,89.98 L616.08,89.96 L616.36,89.92 L616.64,89.89 L616.92,89.84 L617.20,89.80 L617.48,89.77 L617.76,89.76 L618.04,89.77 L618.32,89.81 L618.60,89.86 L618.88,89.91 L619.16,89.95 L619.44,89.99 L619.72,90.02 L620.00,90.05 L620.28,90.07 L620.56,90.09 L620.84,90.11 L621.12,90.12 L621.40,90.13 L621.68,90.14 L621.96,90.15 L622.24,90.16 L622.52,90.16 L622.80,90.17 L623.08,90.17 L623.36,90.18 L623.64,90.18 L623.92,90.19 L624.20,90.19 L624.48,90.20 L624.76,90.20 L625.04,90.20 L625.32,90.21 L625.60,90.21 L625.88,90.21 L626.16,90.22 L626.44,90.22 L626.72,90.22 L627.00,90.22 L627.28,90.23 L627.56,90.23 L627.84,90.23 L628.12,90.24 L628.40,90.24 L628.68,90.24 L628.96,90.24 L629.24,90.25 L629.52,90.25 L629.80,90.25 L630.08,90.25 L630.36,90.26 L630.64,90.26 L630.92,90.26 L631.20,90.26 L631.48,90.27 L631.76,90.27 L632.04,90.27 L632.32,90.27 L632.60,90.27 L632.88,90.28 L633.16,90.28 L633.44,90.28 L633.72,90.28 L634.00,90.29 L634.28,90.29 L634.56,90.29 L634.84,90.29 L635.12,90.30 L635.40,90.30 L635.68,90.30 L635.96,90.30 L636.24,90.30 L636.52,90.31 L636.80,90.31 L637.08,90.31 L637.36,90.31 L637.64,90.32 L637.92,90.32 L638.20,90.32 L638.48,90.32 L638.76,90.32 L639.04,90.33 L639.32,90.33 L639.60,90.33 L639.88,90.33 L640.16,90.34 L640.44,90.34 L640.72,90.34 L641.00,90.34 L641.28,90.34 L641.56,90.35 L641.84,90.35 L642.12,90.35 L642.40,90.35 L642.68,90.36 L642.96,90.36 L643.24,90.36 L643.52,90.36 L643.80,90.36 L644.08,90.37 L644.36,90.37 L644.64,90.37 L644.92,90.37 L645.20,90.37 L645.48,90.38 L645.76,90.38 L646.04,90.38 L646.32,90.38 L646.60,90.39 L646.88,90.39 L647.16,90.39 L647.44,90.39 L647.72,90.39 L648.00,90.40" fill="none" stroke="#3b9c5e" stroke-width="1.5" stroke-linejoin="round"/>
<text x="647.80" y="88.30" font-size="11.3" text-anchor="end" fill="#3b9c5e" font-weight="normal" font-style="normal" font-family='"Liberation Sans", sans-serif' >90<tspan font-size="8.5" dy="-2.5">°</tspan></text>
<path d="M477.20,105.71 L477.48,105.71 L477.76,105.71 L478.04,105.71 L478.32,105.71 L478.60,105.71 L478.88,105.71 L479.16,105.71 L479.44,105.71 L479.72,105.71 L480.00,105.71 L480.28,105.71 L480.56,105.71 L480.84,105.71 L481.12,105.71 L481.40,105.71 L481.68,105.70 L481.96,105.70 L482.24,105.70 L482.52,105.70 L482.80,105.69 L483.08,105.69 L483.36,105.68 L483.64,105.68 L483.92,105.67 L484.20,105.67 L484.48,105.66 L484.76,105.65 L485.04,105.65 L485.32,105.63 L485.60,105.62 L485.88,105.61 L486.16,105.60 L486.44,105.58 L486.72,105.56 L487.00,105.54 L487.28,105.51 L487.56,105.48 L487.84,105.44 L488.12,105.40 L488.40,105.35 L488.68,105.29 L488.96,105.22 L489.24,105.14 L489.52,105.04 L489.80,104.92 L490.08,104.77 L490.36,104.59 L490.64,104.37 L490.92,104.10 L491.20,103.79 L491.48,103.44 L491.76,103.06 L492.04,102.71 L492.32,102.46 L492.60,102.37 L492.88,102.46 L493.16,102.72 L493.44,103.07 L493.72,103.45 L494.00,103.81 L494.28,104.13 L494.56,104.40 L494.84,104.62 L495.12,104.81 L495.40,104.96 L495.68,105.09 L495.96,105.19 L496.24,105.28 L496.52,105.35 L496.80,105.42 L497.08,105.47 L497.36,105.52 L497.64,105.56 L497.92,105.59 L498.20,105.62 L498.48,105.65 L498.76,105.67 L499.04,105.69 L499.32,105.71 L499.60,105.73 L499.88,105.75 L500.16,105.76 L500.44,105.77 L500.72,105.79 L501.00,105.80 L501.28,105.81 L501.56,105.82 L501.84,105.83 L502.12,105.83 L502.40,105.84 L502.68,105.85 L502.96,105.86 L503.24,105.86 L503.52,105.87 L503.80,105.88 L504.08,105.88 L504.36,105.89 L504.64,105.89 L504.92,105.90 L505.20,105.90 L505.48,105.91 L505.76,105.91 L506.04,105.92 L506.32,105.92 L506.60,105.92 L506.88,105.93 L507.16,105.93 L507.44,105.94 L507.72,105.94 L508.00,105.94 L508.28,105.95 L508.56,105.95 L508.84,105.95 L509.12,105.96 L509.40,105.96 L509.68,105.96 L509.96,105.97 L510.24,105.97 L510.52,105.97 L510.80,105.98 L511.08,105.98 L511.36,105.98 L511.64,105.98 L511.92,105.99 L512.20,105.99 L512.48,105.99 L512.76,106.00 L513.04,106.00 L513.32,106.00 L513.60,106.00 L513.88,106.01 L514.16,106.01 L514.44,106.01 L514.72,106.02 L515.00,106.02 L515.28,106.02 L515.56,106.02 L515.84,106.03 L516.12,106.03 L516.40,106.03 L516.68,106.03 L516.96,106.04 L517.24,106.04 L517.52,106.04 L517.80,106.04 L518.08,106.05 L518.36,106.05 L518.64,106.05 L518.92,106.05 L519.20,106.06 L519.48,106.06 L519.76,106.06 L520.04,106.06 L520.32,106.06 L520.60,106.07 L520.88,106.07 L521.16,106.07 L521.44,106.07 L521.72,106.08 L522.00,106.08 L527.04,106.05 L527.32,106.05 L527.60,106.05 L527.88,106.05 L528.16,106.05 L528.44,106.05 L528.72,106.05 L529.00,106.05 L529.28,106.05 L529.56,106.05 L529.84,106.05 L530.12,106.05 L530.40,106.06 L530.68,106.06 L530.96,106.06 L531.24,106.06 L531.52,106.06 L531.80,106.06 L532.08,106.06 L532.36,106.06 L532.64,106.06 L532.92,106.06 L533.20,106.06 L533.48,106.06 L533.76,106.06 L534.04,106.05 L534.32,106.05 L534.60,106.05 L534.88,106.05 L535.16,106.05 L535.44,106.05 L535.72,106.05 L536.00,106.05 L536.28,106.05 L536.56,106.05 L536.84,106.05 L537.12,106.05 L537.40,106.05 L537.68,106.04 L537.96,106.04 L538.24,106.04 L538.52,106.04 L538.80,106.04 L539.08,106.04 L539.36,106.03 L539.64,106.03 L539.92,106.03 L540.20,106.03 L540.48,106.03 L540.76,106.03 L541.04,106.02 L541.32,106.02 L541.60,106.02 L541.88,106.02 L542.16,106.02 L542.44,106.02 L542.72,106.01 L543.00,106.01 L543.28,106.01 L543.56,106.01 L543.84,106.01 L544.12,106.01 L544.40,106.01 L544.68,106.01 L544.96,106.01 L545.24,106.01 L545.52,106.01 L545.80,106.01 L546.08,106.01 L546.36,106.01 L546.64,106.01 L546.92,106.01 L547.20,106.01 L547.48,106.01 L547.76,106.02 L548.04,106.02 L548.32,106.02 L548.60,106.02 L548.88,106.03 L549.16,106.03 L549.44,106.03 L549.72,106.04 L550.00,106.04 L550.28,106.05 L550.56,106.05 L550.84,106.06 L551.12,106.06 L551.40,106.06 L551.68,106.07 L551.96,106.07 L552.24,106.08 L552.52,106.08 L552.80,106.09 L553.08,106.09 L553.36,106.10 L553.64,106.10 L553.92,106.11 L554.20,106.12 L554.48,106.12 L554.76,106.13 L555.04,106.13 L555.32,106.14 L555.60,106.14 L555.88,106.15 L556.16,106.15 L556.44,106.15 L556.72,106.16 L557.00,106.16 L557.28,106.17 L557.56,106.17 L557.84,106.18 L558.12,106.18 L558.40,106.19 L558.68,106.19 L558.96,106.19 L559.24,106.20 L559.52,106.20 L559.80,106.21 L560.08,106.21 L560.36,106.21 L560.64,106.22 L560.92,106.22 L561.20,106.23 L561.48,106.23 L561.76,106.23 L562.04,106.24 L562.32,106.24 L562.60,106.24 L562.88,106.25 L563.16,106.25 L563.44,106.25 L563.72,106.25 L564.00,106.26 L564.28,106.26 L564.56,106.26 L564.84,106.27 L565.12,106.27 L565.40,106.27 L565.68,106.27 L565.96,106.28 L566.24,106.28 L566.52,106.28 L566.80,106.28 L567.08,106.29 L567.36,106.29 L567.64,106.29 L567.92,106.29 L568.20,106.30 L568.48,106.30 L568.76,106.30 L569.04,106.30 L569.32,106.31 L569.60,106.31 L569.88,106.31 L570.16,106.31 L570.44,106.31 L570.72,106.32 L571.00,106.32 L571.28,106.32 L571.56,106.32 L571.84,106.32 L572.12,106.33 L572.40,106.33 L572.68,106.33 L572.96,106.33 L573.24,106.33 L573.52,106.34 L573.80,106.34 L574.08,106.34 L574.36,106.34 L574.64,106.34 L574.92,106.35 L575.20,106.35 L575.48,106.35 L575.76,106.35 L576.04,106.35 L576.32,106.35 L576.60,106.36 L576.88,106.36 L577.16,106.36 L577.44,106.36 L577.72,106.36 L578.00,106.36 L578.28,106.37 L578.56,106.37 L578.84,106.37 L579.12,106.37 L579.40,106.37 L579.68,106.37 L579.96,106.38 L580.24,106.38 L580.52,106.38 L580.80,106.38 L581.08,106.38 L581.36,106.38 L581.64,106.38 L581.92,106.39 L582.20,106.39 L582.48,106.39 L582.76,106.39 L583.04,106.39 L583.32,106.39 L583.60,106.40 L583.88,106.40 L584.16,106.40 L584.44,106.40 L584.72,106.40 L585.00,106.40 L585.28,106.41 L585.56,106.41 L585.84,106.41 L586.12,106.41 L586.40,106.41 L586.68,106.41 L586.96,106.41 L587.24,106.42 L587.52,106.42 L587.80,106.42 L588.08,106.42 L588.36,106.42 L588.64,106.42 L588.92,106.43 L589.20,106.43 L589.48,106.43 L589.76,106.43 L590.04,106.43 L590.32,106.43 L590.60,106.43 L590.88,106.44 L591.16,106.44 L591.44,106.44 L591.72,106.44 L592.00,106.44 L592.28,106.44 L592.56,106.44 L592.84,106.45 L593.12,106.45 L593.40,106.45 L593.68,106.45 L593.96,106.45 L594.24,106.45 L594.52,106.45 L594.80,106.45 L595.08,106.46 L595.36,106.46 L595.64,106.46 L595.92,106.46 L596.20,106.46 L596.48,106.46 L596.76,106.46 L597.04,106.46 L597.32,106.46 L597.60,106.46 L597.88,106.46 L598.16,106.47 L598.44,106.47 L598.72,106.47 L599.00,106.47 L599.28,106.47 L599.56,106.47 L599.84,106.47 L600.12,106.47 L600.40,106.46 L600.68,106.46 L600.96,106.46 L601.24,106.46 L601.52,106.46 L601.80,106.46 L602.08,106.46 L602.36,106.45 L602.64,106.45 L602.92,106.45 L603.20,106.45 L603.48,106.44 L603.76,106.44 L604.04,106.43 L604.32,106.43 L604.60,106.42 L604.88,106.41 L605.16,106.40 L605.44,106.39 L605.72,106.38 L606.00,106.37 L606.28,106.35 L606.56,106.34 L606.84,106.32 L607.12,106.29 L607.40,106.27 L607.68,106.24 L607.96,106.20 L608.24,106.16 L608.52,106.11 L608.80,106.05 L609.08,105.97 L609.36,105.88 L609.64,105.77 L609.92,105.64 L610.20,105.47 L610.48,105.27 L610.76,105.04 L611.04,104.79 L611.32,104.54 L611.60,104.34 L611.88,104.24 L612.16,104.27 L612.44,104.39 L612.72,104.56 L613.00,104.74 L613.28,104.88 L613.56,104.98 L613.84,105.03 L614.12,105.03 L614.40,104.99 L614.68,104.89 L614.96,104.75 L615.24,104.54 L615.52,104.25 L615.80,103.89 L616.08,103.42 L616.36,102.84 L616.64,102.15 L616.92,101.39 L617.20,100.65 L617.48,100.10 L617.76,99.90 L618.04,100.13 L618.32,100.71 L618.60,101.48 L618.88,102.27 L619.16,102.99 L619.44,103.61 L619.72,104.12 L620.00,104.53 L620.28,104.87 L620.56,105.14 L620.84,105.36 L621.12,105.55 L621.40,105.70 L621.68,105.83 L621.96,105.93 L622.24,106.02 L622.52,106.10 L622.80,106.17 L623.08,106.23 L623.36,106.28 L623.64,106.33 L623.92,106.37 L624.20,106.40 L624.48,106.43 L624.76,106.46 L625.04,106.49 L625.32,106.51 L625.60,106.53 L625.88,106.55 L626.16,106.57 L626.44,106.59 L626.72,106.61 L627.00,106.62 L627.28,106.63 L627.56,106.65 L627.84,106.66 L628.12,106.67 L628.40,106.68 L628.68,106.69 L628.96,106.70 L629.24,106.71 L629.52,106.72 L629.80,106.73 L630.08,106.73 L630.36,106.74 L630.64,106.75 L630.92,106.76 L631.20,106.76 L631.48,106.77 L631.76,106.77 L632.04,106.78 L632.32,106.79 L632.60,106.79 L632.88,106.80 L633.16,106.80 L633.44,106.81 L633.72,106.81 L634.00,106.82 L634.28,106.82 L634.56,106.83 L634.84,106.83 L635.12,106.84 L635.40,106.84 L635.68,106.85 L635.96,106.85 L636.24,106.85 L636.52,106.86 L636.80,106.86 L637.08,106.87 L637.36,106.87 L637.64,106.87 L637.92,106.88 L638.20,106.88 L638.48,106.88 L638.76,106.89 L639.04,106.89 L639.32,106.90 L639.60,106.90 L639.88,106.90 L640.16,106.91 L640.44,106.91 L640.72,106.91 L641.00,106.92 L641.28,106.92 L641.56,106.92 L641.84,106.93 L642.12,106.93 L642.40,106.93 L642.68,106.94 L642.96,106.94 L643.24,106.94 L643.52,106.94 L643.80,106.95 L644.08,106.95 L644.36,106.95 L644.64,106.96 L644.92,106.96 L645.20,106.96 L645.48,106.97 L645.76,106.97 L646.04,106.97 L646.32,106.97 L646.60,106.98 L646.88,106.98 L647.16,106.98 L647.44,106.99 L647.72,106.99 L648.00,106.99" fill="none" stroke="#a86ee0" stroke-width="1.5" stroke-linejoin="round"/>
<text x="647.80" y="104.95" font-size="11.3" text-anchor="end" fill="#a86ee0" font-weight="normal" font-style="normal" font-family='"Liberation Sans", sans-serif' >120<tspan font-size="8.5" dy="-2.5">°</tspan></text>
<path d="M477.20,121.91 L477.48,121.91 L477.76,121.91 L478.04,121.91 L478.32,121.91 L478.60,121.90 L478.88,121.90 L479.16,121.90 L479.44,121.90 L479.72,121.89 L480.00,121.89 L480.28,121.89 L480.56,121.88 L480.84,121.88 L481.12,121.87 L481.40,121.87 L481.68,121.86 L481.96,121.85 L482.24,121.84 L482.52,121.84 L482.80,121.83 L483.08,121.82 L483.36,121.81 L483.64,121.79 L483.92,121.78 L484.20,121.76 L484.48,121.75 L484.76,121.73 L485.04,121.71 L485.32,121.68 L485.60,121.65 L485.88,121.62 L486.16,121.59 L486.44,121.55 L486.72,121.51 L487.00,121.45 L487.28,121.40 L487.56,121.33 L487.84,121.25 L488.12,121.16 L488.40,121.05 L488.68,120.92 L488.96,120.77 L489.24,120.59 L489.52,120.37 L489.80,120.11 L490.08,119.79 L490.36,119.40 L490.64,118.92 L490.92,118.35 L491.20,117.68 L491.48,116.91 L491.76,116.11 L492.04,115.36 L492.32,114.82 L492.60,114.62 L492.88,114.82 L493.16,115.37 L493.44,116.12 L493.72,116.93 L494.00,117.70 L494.28,118.38 L494.56,118.95 L494.84,119.43 L495.12,119.83 L495.40,120.15 L495.68,120.42 L495.96,120.64 L496.24,120.83 L496.52,120.98 L496.80,121.11 L497.08,121.23 L497.36,121.32 L497.64,121.40 L497.92,121.48 L498.20,121.54 L498.48,121.59 L498.76,121.64 L499.04,121.69 L499.32,121.73 L499.60,121.76 L499.88,121.79 L500.16,121.82 L500.44,121.85 L500.72,121.87 L501.00,121.89 L501.28,121.91 L501.56,121.93 L501.84,121.95 L502.12,121.96 L502.40,121.98 L502.68,121.99 L502.96,122.00 L503.24,122.01 L503.52,122.03 L503.80,122.04 L504.08,122.05 L504.36,122.05 L504.64,122.06 L504.92,122.07 L505.20,122.08 L505.48,122.09 L505.76,122.10 L506.04,122.10 L506.32,122.11 L506.60,122.12 L506.88,122.12 L507.16,122.13 L507.44,122.13 L507.72,122.14 L508.00,122.14 L508.28,122.15 L508.56,122.15 L508.84,122.16 L509.12,122.16 L509.40,122.17 L509.68,122.17 L509.96,122.18 L510.24,122.18 L510.52,122.19 L510.80,122.19 L511.08,122.19 L511.36,122.20 L511.64,122.20 L511.92,122.21 L512.20,122.21 L512.48,122.21 L512.76,122.22 L513.04,122.22 L513.32,122.22 L513.60,122.23 L513.88,122.23 L514.16,122.23 L514.44,122.24 L514.72,122.24 L515.00,122.24 L515.28,122.25 L515.56,122.25 L515.84,122.25 L516.12,122.26 L516.40,122.26 L516.68,122.26 L516.96,122.27 L517.24,122.27 L517.52,122.27 L517.80,122.27 L518.08,122.28 L518.36,122.28 L518.64,122.28 L518.92,122.28 L519.20,122.29 L519.48,122.29 L519.76,122.29 L520.04,122.30 L520.32,122.30 L520.60,122.30 L520.88,122.30 L521.16,122.31 L521.44,122.31 L521.72,122.31 L522.00,122.31 L527.04,122.21 L527.32,122.21 L527.60,122.21 L527.88,122.21 L528.16,122.21 L528.44,122.21 L528.72,122.20 L529.00,122.20 L529.28,122.20 L529.56,122.20 L529.84,122.20 L530.12,122.20 L530.40,122.20 L530.68,122.19 L530.96,122.19 L531.24,122.19 L531.52,122.19 L531.80,122.19 L532.08,122.18 L532.36,122.18 L532.64,122.18 L532.92,122.18 L533.20,122.17 L533.48,122.17 L533.76,122.17 L534.04,122.17 L534.32,122.16 L534.60,122.16 L534.88,122.15 L535.16,122.15 L535.44,122.15 L535.72,122.14 L536.00,122.14 L536.28,122.13 L536.56,122.13 L536.84,122.13 L537.12,122.12 L537.40,122.12 L537.68,122.11 L537.96,122.11 L538.24,122.10 L538.52,122.09 L538.80,122.09 L539.08,122.08 L539.36,122.08 L539.64,122.07 L539.92,122.07 L540.20,122.06 L540.48,122.05 L540.76,122.05 L541.04,122.04 L541.32,122.03 L541.60,122.03 L541.88,122.02 L542.16,122.02 L542.44,122.01 L542.72,122.01 L543.00,122.00 L543.28,121.99 L543.56,121.99 L543.84,121.99 L544.12,121.98 L544.40,121.98 L544.68,121.97 L544.96,121.97 L545.24,121.97 L545.52,121.97 L545.80,121.96 L546.08,121.96 L546.36,121.96 L546.64,121.96 L546.92,121.96 L547.20,121.96 L547.48,121.96 L547.76,121.97 L548.04,121.97 L548.32,121.97 L548.60,121.98 L548.88,121.98 L549.16,121.99 L549.44,121.99 L549.72,122.00 L550.00,122.00 L550.28,122.01 L550.56,122.02 L550.84,122.02 L551.12,122.03 L551.40,122.04 L551.68,122.05 L551.96,122.06 L552.24,122.06 L552.52,122.07 L552.80,122.08 L553.08,122.09 L553.36,122.10 L553.64,122.11 L553.92,122.12 L554.20,122.12 L554.48,122.13 L554.76,122.14 L555.04,122.15 L555.32,122.16 L555.60,122.17 L555.88,122.18 L556.16,122.18 L556.44,122.19 L556.72,122.20 L557.00,122.21 L557.28,122.21 L557.56,122.22 L557.84,122.23 L558.12,122.24 L558.40,122.24 L558.68,122.25 L558.96,122.26 L559.24,122.26 L559.52,122.27 L559.80,122.27 L560.08,122.28 L560.36,122.29 L560.64,122.29 L560.92,122.30 L561.20,122.30 L561.48,122.31 L561.76,122.31 L562.04,122.32 L562.32,122.32 L562.60,122.33 L562.88,122.33 L563.16,122.34 L563.44,122.34 L563.72,122.35 L564.00,122.35 L564.28,122.35 L564.56,122.36 L564.84,122.36 L565.12,122.36 L565.40,122.37 L565.68,122.37 L565.96,122.38 L566.24,122.38 L566.52,122.38 L566.80,122.38 L567.08,122.39 L567.36,122.39 L567.64,122.39 L567.92,122.40 L568.20,122.40 L568.48,122.40 L568.76,122.40 L569.04,122.41 L569.32,122.41 L569.60,122.41 L569.88,122.41 L570.16,122.42 L570.44,122.42 L570.72,122.42 L571.00,122.42 L571.28,122.43 L571.56,122.43 L571.84,122.43 L572.12,122.43 L572.40,122.43 L572.68,122.44 L572.96,122.44 L573.24,122.44 L573.52,122.44 L573.80,122.44 L574.08,122.44 L574.36,122.45 L574.64,122.45 L574.92,122.45 L575.20,122.45 L575.48,122.45 L575.76,122.45 L576.04,122.46 L576.32,122.46 L576.60,122.46 L576.88,122.46 L577.16,122.46 L577.44,122.46 L577.72,122.46 L578.00,122.46 L578.28,122.47 L578.56,122.47 L578.84,122.47 L579.12,122.47 L579.40,122.47 L579.68,122.47 L579.96,122.47 L580.24,122.47 L580.52,122.48 L580.80,122.48 L581.08,122.48 L581.36,122.48 L581.64,122.48 L581.92,122.48 L582.20,122.48 L582.48,122.48 L582.76,122.48 L583.04,122.49 L583.32,122.49 L583.60,122.49 L583.88,122.49 L584.16,122.49 L584.44,122.49 L584.72,122.49 L585.00,122.49 L585.28,122.49 L585.56,122.50 L585.84,122.50 L586.12,122.50 L586.40,122.50 L586.68,122.50 L586.96,122.50 L587.24,122.50 L587.52,122.50 L587.80,122.50 L588.08,122.51 L588.36,122.51 L588.64,122.51 L588.92,122.51 L589.20,122.51 L589.48,122.51 L589.76,122.51 L590.04,122.51 L590.32,122.51 L590.60,122.51 L590.88,122.52 L591.16,122.52 L591.44,122.52 L591.72,122.52 L592.00,122.52 L592.28,122.52 L592.56,122.52 L592.84,122.52 L593.12,122.52 L593.40,122.52 L593.68,122.52 L593.96,122.52 L594.24,122.53 L594.52,122.53 L594.80,122.53 L595.08,122.53 L595.36,122.53 L595.64,122.53 L595.92,122.53 L596.20,122.53 L596.48,122.53 L596.76,122.53 L597.04,122.53 L597.32,122.53 L597.60,122.53 L597.88,122.53 L598.16,122.52 L598.44,122.52 L598.72,122.52 L599.00,122.52 L599.28,122.52 L599.56,122.52 L599.84,122.52 L600.12,122.51 L600.40,122.51 L600.68,122.51 L600.96,122.50 L601.24,122.50 L601.52,122.50 L601.80,122.49 L602.08,122.48 L602.36,122.48 L602.64,122.47 L602.92,122.46 L603.20,122.46 L603.48,122.45 L603.76,122.44 L604.04,122.43 L604.32,122.41 L604.60,122.40 L604.88,122.38 L605.16,122.37 L605.44,122.35 L605.72,122.32 L606.00,122.30 L606.28,122.27 L606.56,122.24 L606.84,122.20 L607.12,122.16 L607.40,122.11 L607.68,122.05 L607.96,121.99 L608.24,121.91 L608.52,121.82 L608.80,121.71 L609.08,121.57 L609.36,121.41 L609.64,121.22 L609.92,120.97 L610.20,120.68 L610.48,120.33 L610.76,119.92 L611.04,119.46 L611.32,119.02 L611.60,118.66 L611.88,118.48 L612.16,118.52 L612.44,118.73 L612.72,119.02 L613.00,119.31 L613.28,119.55 L613.56,119.70 L613.84,119.77 L614.12,119.75 L614.40,119.64 L614.68,119.44 L614.96,119.14 L615.24,118.72 L615.52,118.16 L615.80,117.44 L616.08,116.52 L616.36,115.39 L616.64,114.05 L616.92,112.57 L617.20,111.14 L617.48,110.06 L617.76,109.67 L618.04,110.11 L618.32,111.23 L618.60,112.71 L618.88,114.24 L619.16,115.64 L619.44,116.84 L619.72,117.83 L620.00,118.63 L620.28,119.28 L620.56,119.80 L620.84,120.23 L621.12,120.59 L621.40,120.88 L621.68,121.12 L621.96,121.33 L622.24,121.50 L622.52,121.65 L622.80,121.78 L623.08,121.89 L623.36,121.99 L623.64,122.07 L623.92,122.15 L624.20,122.22 L624.48,122.28 L624.76,122.33 L625.04,122.38 L625.32,122.42 L625.60,122.46 L625.88,122.50 L626.16,122.53 L626.44,122.56 L626.72,122.59 L627.00,122.62 L627.28,122.64 L627.56,122.67 L627.84,122.69 L628.12,122.71 L628.40,122.73 L628.68,122.74 L628.96,122.76 L629.24,122.77 L629.52,122.79 L629.80,122.80 L630.08,122.82 L630.36,122.83 L630.64,122.84 L630.92,122.85 L631.20,122.86 L631.48,122.87 L631.76,122.88 L632.04,122.89 L632.32,122.90 L632.60,122.91 L632.88,122.92 L633.16,122.93 L633.44,122.94 L633.72,122.94 L634.00,122.95 L634.28,122.96 L634.56,122.97 L634.84,122.97 L635.12,122.98 L635.40,122.99 L635.68,122.99 L635.96,123.00 L636.24,123.00 L636.52,123.01 L636.80,123.02 L637.08,123.02 L637.36,123.03 L637.64,123.03 L637.92,123.04 L638.20,123.04 L638.48,123.05 L638.76,123.05 L639.04,123.06 L639.32,123.06 L639.60,123.07 L639.88,123.07 L640.16,123.08 L640.44,123.08 L640.72,123.09 L641.00,123.09 L641.28,123.09 L641.56,123.10 L641.84,123.10 L642.12,123.11 L642.40,123.11 L642.68,123.12 L642.96,123.12 L643.24,123.12 L643.52,123.13 L643.80,123.13 L644.08,123.14 L644.36,123.14 L644.64,123.14 L644.92,123.15 L645.20,123.15 L645.48,123.15 L645.76,123.16 L646.04,123.16 L646.32,123.16 L646.60,123.17 L646.88,123.17 L647.16,123.18 L647.44,123.18 L647.72,123.18 L648.00,123.19" fill="none" stroke="#a06a6a" stroke-width="1.5" stroke-linejoin="round"/>
<text x="647.80" y="121.20" font-size="11.3" text-anchor="end" fill="#a06a6a" font-weight="normal" font-style="normal" font-family='"Liberation Sans", sans-serif' >150<tspan font-size="8.5" dy="-2.5">°</tspan></text>
<path d="M477.20,138.59 L477.48,138.59 L477.76,138.59 L478.04,138.58 L478.32,138.58 L478.60,138.58 L478.88,138.57 L479.16,138.57 L479.44,138.57 L479.72,138.56 L480.00,138.56 L480.28,138.55 L480.56,138.55 L480.84,138.54 L481.12,138.53 L481.40,138.53 L481.68,138.52 L481.96,138.51 L482.24,138.50 L482.52,138.49 L482.80,138.48 L483.08,138.46 L483.36,138.45 L483.64,138.43 L483.92,138.41 L484.20,138.39 L484.48,138.37 L484.76,138.35 L485.04,138.32 L485.32,138.29 L485.60,138.26 L485.88,138.22 L486.16,138.17 L486.44,138.12 L486.72,138.07 L487.00,138.00 L487.28,137.93 L487.56,137.85 L487.84,137.75 L488.12,137.63 L488.40,137.50 L488.68,137.34 L488.96,137.15 L489.24,136.93 L489.52,136.66 L489.80,136.33 L490.08,135.93 L490.36,135.45 L490.64,134.86 L490.92,134.15 L491.20,133.32 L491.48,132.37 L491.76,131.37 L492.04,130.44 L492.32,129.76 L492.60,129.52 L492.88,129.77 L493.16,130.45 L493.44,131.38 L493.72,132.39 L494.00,133.34 L494.28,134.18 L494.56,134.89 L494.84,135.48 L495.12,135.97 L495.40,136.37 L495.68,136.71 L495.96,136.98 L496.24,137.21 L496.52,137.40 L496.80,137.56 L497.08,137.70 L497.36,137.82 L497.64,137.92 L497.92,138.01 L498.20,138.09 L498.48,138.16 L498.76,138.22 L499.04,138.27 L499.32,138.32 L499.60,138.36 L499.88,138.40 L500.16,138.43 L500.44,138.47 L500.72,138.50 L501.00,138.52 L501.28,138.55 L501.56,138.57 L501.84,138.59 L502.12,138.61 L502.40,138.62 L502.68,138.64 L502.96,138.66 L503.24,138.67 L503.52,138.68 L503.80,138.70 L504.08,138.71 L504.36,138.72 L504.64,138.73 L504.92,138.74 L505.20,138.75 L505.48,138.76 L505.76,138.77 L506.04,138.77 L506.32,138.78 L506.60,138.79 L506.88,138.80 L507.16,138.80 L507.44,138.81 L507.72,138.82 L508.00,138.82 L508.28,138.83 L508.56,138.83 L508.84,138.84 L509.12,138.85 L509.40,138.85 L509.68,138.86 L509.96,138.86 L510.24,138.87 L510.52,138.87 L510.80,138.87 L511.08,138.88 L511.36,138.88 L511.64,138.89 L511.92,138.89 L512.20,138.90 L512.48,138.90 L512.76,138.90 L513.04,138.91 L513.32,138.91 L513.60,138.92 L513.88,138.92 L514.16,138.92 L514.44,138.93 L514.72,138.93 L515.00,138.93 L515.28,138.94 L515.56,138.94 L515.84,138.94 L516.12,138.95 L516.40,138.95 L516.68,138.95 L516.96,138.96 L517.24,138.96 L517.52,138.96 L517.80,138.97 L518.08,138.97 L518.36,138.97 L518.64,138.97 L518.92,138.98 L519.20,138.98 L519.48,138.98 L519.76,138.99 L520.04,138.99 L520.32,138.99 L520.60,138.99 L520.88,139.00 L521.16,139.00 L521.44,139.00 L521.72,139.01 L522.00,139.01 L527.04,138.87 L527.32,138.87 L527.60,138.87 L527.88,138.87 L528.16,138.87 L528.44,138.87 L528.72,138.86 L529.00,138.86 L529.28,138.86 L529.56,138.86 L529.84,138.86 L530.12,138.85 L530.40,138.85 L530.68,138.85 L530.96,138.85 L531.24,138.84 L531.52,138.84 L531.80,138.84 L532.08,138.83 L532.36,138.83 L532.64,138.83 L532.92,138.82 L533.20,138.82 L533.48,138.82 L533.76,138.81 L534.04,138.81 L534.32,138.80 L534.60,138.80 L534.88,138.79 L535.16,138.79 L535.44,138.78 L535.72,138.78 L536.00,138.77 L536.28,138.77 L536.56,138.76 L536.84,138.75 L537.12,138.75 L537.40,138.74 L537.68,138.73 L537.96,138.73 L538.24,138.72 L538.52,138.71 L538.80,138.70 L539.08,138.70 L539.36,138.69 L539.64,138.68 L539.92,138.67 L540.20,138.67 L540.48,138.66 L540.76,138.65 L541.04,138.64 L541.32,138.63 L541.60,138.63 L541.88,138.62 L542.16,138.61 L542.44,138.60 L542.72,138.59 L543.00,138.59 L543.28,138.58 L543.56,138.57 L543.84,138.57 L544.12,138.56 L544.40,138.56 L544.68,138.55 L544.96,138.55 L545.24,138.54 L545.52,138.54 L545.80,138.54 L546.08,138.54 L546.36,138.53 L546.64,138.53 L546.92,138.53 L547.20,138.53 L547.48,138.54 L547.76,138.54 L548.04,138.54 L548.32,138.55 L548.60,138.55 L548.88,138.55 L549.16,138.56 L549.44,138.57 L549.72,138.57 L550.00,138.58 L550.28,138.59 L550.56,138.60 L550.84,138.60 L551.12,138.61 L551.40,138.62 L551.68,138.63 L551.96,138.64 L552.24,138.65 L552.52,138.66 L552.80,138.67 L553.08,138.68 L553.36,138.69 L553.64,138.70 L553.92,138.71 L554.20,138.72 L554.48,138.73 L554.76,138.75 L555.04,138.76 L555.32,138.77 L555.60,138.78 L555.88,138.78 L556.16,138.79 L556.44,138.80 L556.72,138.81 L557.00,138.82 L557.28,138.83 L557.56,138.84 L557.84,138.85 L558.12,138.86 L558.40,138.86 L558.68,138.87 L558.96,138.88 L559.24,138.89 L559.52,138.90 L559.80,138.90 L560.08,138.91 L560.36,138.92 L560.64,138.92 L560.92,138.93 L561.20,138.94 L561.48,138.94 L561.76,138.95 L562.04,138.95 L562.32,138.96 L562.60,138.96 L562.88,138.97 L563.16,138.97 L563.44,138.98 L563.72,138.98 L564.00,138.99 L564.28,138.99 L564.56,139.00 L564.84,139.00 L565.12,139.01 L565.40,139.01 L565.68,139.01 L565.96,139.02 L566.24,139.02 L566.52,139.03 L566.80,139.03 L567.08,139.03 L567.36,139.04 L567.64,139.04 L567.92,139.04 L568.20,139.05 L568.48,139.05 L568.76,139.05 L569.04,139.05 L569.32,139.06 L569.60,139.06 L569.88,139.06 L570.16,139.06 L570.44,139.07 L570.72,139.07 L571.00,139.07 L571.28,139.07 L571.56,139.08 L571.84,139.08 L572.12,139.08 L572.40,139.08 L572.68,139.08 L572.96,139.09 L573.24,139.09 L573.52,139.09 L573.80,139.09 L574.08,139.09 L574.36,139.09 L574.64,139.10 L574.92,139.10 L575.20,139.10 L575.48,139.10 L575.76,139.10 L576.04,139.10 L576.32,139.11 L576.60,139.11 L576.88,139.11 L577.16,139.11 L577.44,139.11 L577.72,139.11 L578.00,139.11 L578.28,139.11 L578.56,139.12 L578.84,139.12 L579.12,139.12 L579.40,139.12 L579.68,139.12 L579.96,139.12 L580.24,139.12 L580.52,139.12 L580.80,139.13 L581.08,139.13 L581.36,139.13 L581.64,139.13 L581.92,139.13 L582.20,139.13 L582.48,139.13 L582.76,139.13 L583.04,139.13 L583.32,139.13 L583.60,139.14 L583.88,139.14 L584.16,139.14 L584.44,139.14 L584.72,139.14 L585.00,139.14 L585.28,139.14 L585.56,139.14 L585.84,139.14 L586.12,139.14 L586.40,139.15 L586.68,139.15 L586.96,139.15 L587.24,139.15 L587.52,139.15 L587.80,139.15 L588.08,139.15 L588.36,139.15 L588.64,139.15 L588.92,139.15 L589.20,139.15 L589.48,139.16 L589.76,139.16 L590.04,139.16 L590.32,139.16 L590.60,139.16 L590.88,139.16 L591.16,139.16 L591.44,139.16 L591.72,139.16 L592.00,139.16 L592.28,139.16 L592.56,139.16 L592.84,139.16 L593.12,139.17 L593.40,139.17 L593.68,139.17 L593.96,139.17 L594.24,139.17 L594.52,139.17 L594.80,139.17 L595.08,139.17 L595.36,139.17 L595.64,139.17 L595.92,139.17 L596.20,139.17 L596.48,139.17 L596.76,139.17 L597.04,139.17 L597.32,139.17 L597.60,139.16 L597.88,139.16 L598.16,139.16 L598.44,139.16 L598.72,139.16 L599.00,139.16 L599.28,139.15 L599.56,139.15 L599.84,139.15 L600.12,139.15 L600.40,139.14 L600.68,139.14 L600.96,139.13 L601.24,139.13 L601.52,139.12 L601.80,139.12 L602.08,139.11 L602.36,139.11 L602.64,139.10 L602.92,139.09 L603.20,139.08 L603.48,139.07 L603.76,139.06 L604.04,139.04 L604.32,139.03 L604.60,139.01 L604.88,138.99 L605.16,138.97 L605.44,138.95 L605.72,138.92 L606.00,138.89 L606.28,138.86 L606.56,138.82 L606.84,138.78 L607.12,138.73 L607.40,138.68 L607.68,138.61 L607.96,138.54 L608.24,138.45 L608.52,138.34 L608.80,138.21 L609.08,138.06 L609.36,137.88 L609.64,137.65 L609.92,137.37 L610.20,137.04 L610.48,136.63 L610.76,136.16 L611.04,135.64 L611.32,135.13 L611.60,134.73 L611.88,134.52 L612.16,134.56 L612.44,134.80 L612.72,135.13 L613.00,135.46 L613.28,135.73 L613.56,135.91 L613.84,135.98 L614.12,135.96 L614.40,135.83 L614.68,135.60 L614.96,135.25 L615.24,134.76 L615.52,134.11 L615.80,133.28 L616.08,132.22 L616.36,130.91 L616.64,129.36 L616.92,127.65 L617.20,126.00 L617.48,124.76 L617.76,124.31 L618.04,124.82 L618.32,126.11 L618.60,127.82 L618.88,129.59 L619.16,131.20 L619.44,132.58 L619.72,133.72 L620.00,134.64 L620.28,135.39 L620.56,136.00 L620.84,136.49 L621.12,136.90 L621.40,137.24 L621.68,137.52 L621.96,137.75 L622.24,137.95 L622.52,138.13 L622.80,138.27 L623.08,138.40 L623.36,138.51 L623.64,138.61 L623.92,138.70 L624.20,138.78 L624.48,138.85 L624.76,138.91 L625.04,138.96 L625.32,139.01 L625.60,139.06 L625.88,139.10 L626.16,139.14 L626.44,139.18 L626.72,139.21 L627.00,139.24 L627.28,139.27 L627.56,139.29 L627.84,139.32 L628.12,139.34 L628.40,139.36 L628.68,139.38 L628.96,139.40 L629.24,139.42 L629.52,139.43 L629.80,139.45 L630.08,139.46 L630.36,139.48 L630.64,139.49 L630.92,139.50 L631.20,139.52 L631.48,139.53 L631.76,139.54 L632.04,139.55 L632.32,139.56 L632.60,139.57 L632.88,139.58 L633.16,139.59 L633.44,139.60 L633.72,139.61 L634.00,139.61 L634.28,139.62 L634.56,139.63 L634.84,139.64 L635.12,139.64 L635.40,139.65 L635.68,139.66 L635.96,139.67 L636.24,139.67 L636.52,139.68 L636.80,139.69 L637.08,139.69 L637.36,139.70 L637.64,139.70 L637.92,139.71 L638.20,139.71 L638.48,139.72 L638.76,139.73 L639.04,139.73 L639.32,139.74 L639.60,139.74 L639.88,139.75 L640.16,139.75 L640.44,139.76 L640.72,139.76 L641.00,139.77 L641.28,139.77 L641.56,139.78 L641.84,139.78 L642.12,139.78 L642.40,139.79 L642.68,139.79 L642.96,139.80 L643.24,139.80 L643.52,139.81 L643.80,139.81 L644.08,139.81 L644.36,139.82 L644.64,139.82 L644.92,139.83 L645.20,139.83 L645.48,139.83 L645.76,139.84 L646.04,139.84 L646.32,139.85 L646.60,139.85 L646.88,139.85 L647.16,139.86 L647.44,139.86 L647.72,139.86 L648.00,139.87" fill="none" stroke="#1ec4c8" stroke-width="1.5" stroke-linejoin="round"/>
<text x="647.80" y="137.90" font-size="11.3" text-anchor="end" fill="#1ec4c8" font-weight="normal" font-style="normal" font-family='"Liberation Sans", sans-serif' >180<tspan font-size="8.5" dy="-2.5">°</tspan></text>
<path d="M477.2,8.3 L648.2,8.3 L648.2,145.3 L477.2,145.3 Z" fill="none" stroke="#111" stroke-width="1.5"/>
<path d="M526.5,13 L529.5,3.5 M529.8,13 L532.8,3.5" stroke="#111" stroke-width="1.2"/>
<rect x="527.5" y="7.2" width="4.5" height="2.2" fill="#fff"/>
<path d="M526.5,13 L529.5,3.5 M529.8,13 L532.8,3.5" stroke="#111" stroke-width="1.2"/>
<rect x="527.5" y="144.2" width="4.5" height="2.2" fill="#fff"/>
<path d="M526.5,150 L529.5,140.5 M529.8,150 L532.8,140.5" stroke="#111" stroke-width="1.2"/>
<path d="M477.20,145.3 L477.20,148.8 M491.20,145.3 L491.20,146.8 M505.20,145.3 L505.20,148.8 M519.20,145.3 L519.20,146.8 M536.00,145.3 L536.00,148.8 M550.00,145.3 L550.00,146.8 M564.00,145.3 L564.00,148.8 M578.00,145.3 L578.00,146.8 M592.00,145.3 L592.00,148.8 M606.00,145.3 L606.00,146.8 M620.00,145.3 L620.00,148.8 M634.00,145.3 L634.00,146.8 M648.00,145.3 L648.00,148.8 " stroke="#111" stroke-width="1.2"/>
<text x="477.20" y="161.00" font-size="11.1" text-anchor="middle" fill="#231f20" font-weight="normal" font-style="normal" font-family='"Liberation Sans", sans-serif' >100</text>
<text x="505.20" y="161.00" font-size="11.1" text-anchor="middle" fill="#231f20" font-weight="normal" font-style="normal" font-family='"Liberation Sans", sans-serif' >200</text>
<text x="536.00" y="161.00" font-size="11.1" text-anchor="middle" fill="#231f20" font-weight="normal" font-style="normal" font-family='"Liberation Sans", sans-serif' >1300</text>
<text x="564.00" y="161.00" font-size="11.1" text-anchor="middle" fill="#231f20" font-weight="normal" font-style="normal" font-family='"Liberation Sans", sans-serif' >1400</text>
<text x="592.00" y="161.00" font-size="11.1" text-anchor="middle" fill="#231f20" font-weight="normal" font-style="normal" font-family='"Liberation Sans", sans-serif' >1500</text>
<text x="620.00" y="161.00" font-size="11.1" text-anchor="middle" fill="#231f20" font-weight="normal" font-style="normal" font-family='"Liberation Sans", sans-serif' >1600</text>
<text x="648.00" y="161.00" font-size="11.1" text-anchor="middle" fill="#231f20" font-weight="normal" font-style="normal" font-family='"Liberation Sans", sans-serif' >1700</text>
<text x="564.00" y="178.80" font-size="14.0" text-anchor="middle" fill="#231f20" font-weight="normal" font-style="normal" font-family='"Liberation Sans", sans-serif' >Raman shift (cm<tspan font-size="8.5" dy="-5">−1</tspan><tspan dy="5">)</tspan></text>
<text x="0.00" y="0.00" font-size="13.8" text-anchor="middle" fill="#231f20" font-weight="normal" font-style="normal" font-family='"Liberation Sans", sans-serif' transform="translate(470.8,79.6) rotate(-90)">Intensity (arb. units)</text>
<text x="485.00" y="26.30" font-size="10.5" text-anchor="start" fill="#231f20" font-weight="normal" font-style="normal" font-family='"Liberation Sans", sans-serif' >RBM</text>
<text x="542.00" y="35.00" font-size="11" text-anchor="start" fill="#231f20" font-weight="normal" font-style="italic" font-family='"Liberation Sans", sans-serif' >D</text>
<text x="603.50" y="32.00" font-size="11" text-anchor="start" fill="#231f20" font-weight="normal" font-style="italic" font-family='"Liberation Sans", sans-serif' >G</text><text x="612.00" y="27.00" font-size="6.5" text-anchor="start" fill="#231f20" font-weight="normal" font-style="normal" font-family='"Liberation Sans", sans-serif' >−</text>
<text x="617.00" y="20.30" font-size="11" text-anchor="start" fill="#231f20" font-weight="normal" font-style="italic" font-family='"Liberation Sans", sans-serif' >G</text><text x="625.00" y="15.50" font-size="7" text-anchor="start" fill="#231f20" font-weight="normal" font-style="normal" font-family='"Liberation Sans", sans-serif' >+</text>
<text x="1.80" y="217.30" font-size="14.5" text-anchor="start" fill="#000" font-weight="bold" font-style="normal" font-family='"Liberation Sans", sans-serif' >d</text>
<text x="124.30" y="197.80" font-size="14.0" text-anchor="middle" fill="#231f20" font-weight="normal" font-style="normal" font-family='"Liberation Sans", sans-serif' ><tspan font-style="italic">p</tspan>-FeFET</text>
<path d="M39.10,338.32 L43.10,338.32 M40.80,333.00 L43.10,333.00 M40.80,329.89 L43.10,329.89 M40.80,327.69 L43.10,327.69 M40.80,325.98 L43.10,325.98 M40.80,324.58 L43.10,324.58 M40.80,323.40 L43.10,323.40 M40.80,322.37 L43.10,322.37 M40.80,321.47 L43.10,321.47 M39.10,320.66 L43.10,320.66 M40.80,315.34 L43.10,315.34 M40.80,312.23 L43.10,312.23 M40.80,310.03 L43.10,310.03 M40.80,308.32 L43.10,308.32 M40.80,306.92 L43.10,306.92 M40.80,305.74 L43.10,305.74 M40.80,304.71 L43.10,304.71 M40.80,303.81 L43.10,303.81 M39.10,303.00 L43.10,303.00 M40.80,297.68 L43.10,297.68 M40.80,294.57 L43.10,294.57 M40.80,292.37 L43.10,292.37 M40.80,290.66 L43.10,290.66 M40.80,289.26 L43.10,289.26 M40.80,288.08 L43.10,288.08 M40.80,287.05 L43.10,287.05 M40.80,286.15 L43.10,286.15 M39.10,285.34 L43.10,285.34 M40.80,280.02 L43.10,280.02 M40.80,276.91 L43.10,276.91 M40.80,274.71 L43.10,274.71 M40.80,273.00 L43.10,273.00 M40.80,271.60 L43.10,271.60 M40.80,270.42 L43.10,270.42 M40.80,269.39 L43.10,269.39 M40.80,268.49 L43.10,268.49 M39.10,267.68 L43.10,267.68 M40.80,262.36 L43.10,262.36 M40.80,259.25 L43.10,259.25 M40.80,257.05 L43.10,257.05 M40.80,255.34 L43.10,255.34 M40.80,253.94 L43.10,253.94 M40.80,252.76 L43.10,252.76 M40.80,251.73 L43.10,251.73 M40.80,250.83 L43.10,250.83 M39.10,250.02 L43.10,250.02 M40.80,244.70 L43.10,244.70 M40.80,241.59 L43.10,241.59 M40.80,239.39 L43.10,239.39 M40.80,237.68 L43.10,237.68 M40.80,236.28 L43.10,236.28 M40.80,235.10 L43.10,235.10 M40.80,234.07 L43.10,234.07 M40.80,233.17 L43.10,233.17 M39.10,232.36 L43.10,232.36 M40.80,227.04 L43.10,227.04 M40.80,223.93 L43.10,223.93 M40.80,221.73 L43.10,221.73 M40.80,220.02 L43.10,220.02 M40.80,218.62 L43.10,218.62 M40.80,217.44 L43.10,217.44 M40.80,216.41 L43.10,216.41 M40.80,215.51 L43.10,215.51 M39.10,214.70 L43.10,214.70 M41.30,209.38 L43.10,209.38 M41.30,206.27 L43.10,206.27 M41.30,204.07 L43.10,204.07 M41.30,202.36 L43.10,202.36 M48.10,338.2 L48.10,341.70 M73.20,338.2 L73.20,341.70 M98.30,338.2 L98.30,341.70 M123.40,338.2 L123.40,341.70 M148.50,338.2 L148.50,341.70 M173.60,338.2 L173.60,341.70 M198.70,338.2 L198.70,341.70 M60.65,338.2 L60.65,340.40 M85.75,338.2 L85.75,340.40 M110.85,338.2 L110.85,340.40 M135.95,338.2 L135.95,340.40 M161.05,338.2 L161.05,340.40 M186.15,338.2 L186.15,340.40 " stroke="#000" stroke-width="1.2"/>
<text x="38.20" y="342.62" font-size="12" text-anchor="end" fill="#231f20" font-family='"Liberation Sans", sans-serif'>10<tspan font-size="8" dy="-5">-10</tspan></text>
<text x="38.20" y="324.96" font-size="12" text-anchor="end" fill="#231f20" font-family='"Liberation Sans", sans-serif'>10<tspan font-size="8" dy="-5">-9</tspan></text>
<text x="38.20" y="307.30" font-size="12" text-anchor="end" fill="#231f20" font-family='"Liberation Sans", sans-serif'>10<tspan font-size="8" dy="-5">-8</tspan></text>
<text x="38.20" y="289.64" font-size="12" text-anchor="end" fill="#231f20" font-family='"Liberation Sans", sans-serif'>10<tspan font-size="8" dy="-5">-7</tspan></text>
<text x="38.20" y="271.98" font-size="12" text-anchor="end" fill="#231f20" font-family='"Liberation Sans", sans-serif'>10<tspan font-size="8" dy="-5">-6</tspan></text>
<text x="38.20" y="254.32" font-size="12" text-anchor="end" fill="#231f20" font-family='"Liberation Sans", sans-serif'>10<tspan font-size="8" dy="-5">-5</tspan></text>
<text x="38.20" y="236.66" font-size="12" text-anchor="end" fill="#231f20" font-family='"Liberation Sans", sans-serif'>10<tspan font-size="8" dy="-5">-4</tspan></text>
<text x="38.20" y="219.00" font-size="12" text-anchor="end" fill="#231f20" font-family='"Liberation Sans", sans-serif'>10<tspan font-size="8" dy="-5">-3</tspan></text>
<text x="47.10" y="353.20" font-size="11.3" text-anchor="middle" fill="#231f20" font-weight="normal" font-style="normal" font-family='"Liberation Sans", sans-serif' >-15</text>
<text x="72.20" y="353.20" font-size="11.3" text-anchor="middle" fill="#231f20" font-weight="normal" font-style="normal" font-family='"Liberation Sans", sans-serif' >-10</text>
<text x="97.30" y="353.20" font-size="11.3" text-anchor="middle" fill="#231f20" font-weight="normal" font-style="normal" font-family='"Liberation Sans", sans-serif' >-5</text>
<text x="123.40" y="353.20" font-size="11.3" text-anchor="middle" fill="#231f20" font-weight="normal" font-style="normal" font-family='"Liberation Sans", sans-serif' >0</text>
<text x="148.50" y="353.20" font-size="11.3" text-anchor="middle" fill="#231f20" font-weight="normal" font-style="normal" font-family='"Liberation Sans", sans-serif' >5</text>
<text x="173.60" y="353.20" font-size="11.3" text-anchor="middle" fill="#231f20" font-weight="normal" font-style="normal" font-family='"Liberation Sans", sans-serif' >10</text>
<text x="198.70" y="353.20" font-size="11.3" text-anchor="middle" fill="#231f20" font-weight="normal" font-style="normal" font-family='"Liberation Sans", sans-serif' >15</text>
<text x="125.05" y="372.50" font-size="14.0" text-anchor="middle" fill="#231f20" font-weight="normal" font-style="normal" font-family='"Liberation Sans", sans-serif' >Gate voltage (V)</text>
<text x="0.00" y="0.00" font-size="14.2" text-anchor="middle" fill="#231f20" font-weight="normal" font-style="normal" font-family='"Liberation Sans", sans-serif' transform="translate(12.80,271.3) rotate(-90)">Current (A)</text>
<text x="50.70" y="219.00" font-size="12.2" text-anchor="start" fill="#231f20" font-weight="normal" font-style="normal" font-family='"Liberation Sans", sans-serif' >Au contact</text>
<clipPath id="clipd"><rect x="44" y="203" width="159" height="143"/></clipPath>
<g clip-path="url(#clipd)"><path d="M47.80,277.30 C49.28,278.88 53.82,283.63 56.70,286.80 C59.58,289.97 62.28,293.12 65.10,296.30 C67.92,299.48 71.30,303.08 73.60,305.90 C75.90,308.72 76.78,310.92 78.90,313.20 C81.02,315.48 82.97,317.87 86.30,319.60 C89.63,321.33 94.33,322.77 98.90,323.60 C103.47,324.43 107.85,324.43 113.70,324.60 C119.55,324.77 128.47,324.80 134.00,324.60 C139.53,324.40 142.77,324.45 146.90,323.40 C151.03,322.35 155.13,320.88 158.80,318.30 C162.47,315.72 165.25,311.93 168.90,307.90 C172.55,303.87 175.77,299.50 180.70,294.10 C185.63,288.70 195.53,278.60 198.50,275.50" fill="none" stroke="#8c8c8c" stroke-width="1.4"/><path d="M78.90,313.20 C79.60,315.15 81.87,321.55 83.10,324.90 C84.33,328.25 85.55,329.95 86.30,333.30 C87.05,336.65 87.38,343.05 87.60,345.00" fill="none" stroke="#8c8c8c" stroke-width="1.0"/><path d="M88.20,345.00 C88.42,343.33 88.95,337.48 89.50,335.00 C90.05,332.52 90.10,331.72 91.50,330.10 C92.90,328.48 95.95,326.15 97.90,325.30 C99.85,324.45 102.32,325.05 103.20,325.00" fill="none" stroke="#8c8c8c" stroke-width="1.0"/><path d="M103.6,325 L104.0,346 M104.6,346 L105.0,325" fill="none" stroke="#8c8c8c" stroke-width="1.0"/><path d="M105.00,325.00 C107.50,325.00 114.50,324.92 120.00,325.00 C125.50,325.08 133.00,325.08 138.00,325.50 C143.00,325.92 147.00,326.58 150.00,327.50 C153.00,328.42 154.57,329.42 156.00,331.00 C157.43,332.58 158.05,334.67 158.60,337.00 C159.15,339.33 159.18,343.67 159.30,345.00" fill="none" stroke="#8c8c8c" stroke-width="1.0"/><path d="M159.60,345.00 C159.77,343.00 160.03,336.83 160.60,333.00 C161.17,329.17 161.68,325.58 163.00,322.00 C164.32,318.42 165.55,315.58 168.50,311.50 C171.45,307.42 175.70,303.17 180.70,297.50 C185.70,291.83 195.53,280.83 198.50,277.50" fill="none" stroke="#8c8c8c" stroke-width="1.0"/><circle cx="78.90" cy="313.20" r="1.30" fill="none" stroke="#8c8c8c" stroke-width="0.8"/><path d="M48.20,226.00 C51.02,226.28 58.75,226.78 65.10,227.70 C71.45,228.62 79.25,229.75 86.30,231.50 C93.35,233.25 101.07,235.85 107.40,238.20 C113.73,240.55 120.43,243.63 124.30,245.60 C128.17,247.57 128.52,248.12 130.60,250.00 C132.68,251.88 134.65,253.77 136.80,256.90 C138.95,260.03 141.53,264.28 143.50,268.80 C145.47,273.32 146.90,278.65 148.60,284.00 C150.30,289.35 152.28,296.12 153.70,300.90 C155.12,305.68 156.12,309.83 157.10,312.70 C158.08,315.57 158.77,317.53 159.60,318.10 C160.43,318.67 161.12,318.12 162.10,316.10 C163.08,314.08 164.37,310.52 165.50,306.00 C166.63,301.48 167.48,294.08 168.90,289.00 C170.32,283.92 172.03,279.72 174.00,275.50 C175.97,271.28 178.45,267.65 180.70,263.70 C182.95,259.75 184.82,255.75 187.50,251.80 C190.18,247.85 194.93,242.30 196.80,240.00 C198.67,237.70 198.38,238.33 198.70,238.00" fill="none" stroke="#fbbd2c" stroke-width="1.8" stroke-linejoin="round"/><path d="M48.20,226.00 C49.62,226.80 53.88,229.12 56.70,230.80 C59.52,232.48 63.17,234.50 65.10,236.10 C67.03,237.70 66.88,238.82 68.30,240.40 C69.72,241.98 72.37,244.02 73.60,245.60 C74.83,247.18 75.00,247.95 75.70,249.90 C76.40,251.85 76.03,253.62 77.80,257.30 C79.57,260.98 83.48,266.02 86.30,272.00 C89.12,277.98 92.25,287.55 94.70,293.20 C97.15,298.85 98.53,301.68 101.00,305.90 C103.47,310.12 106.32,315.52 109.50,318.50 C112.68,321.48 116.68,322.65 120.10,323.80 C123.52,324.95 126.67,325.27 130.00,325.40 C133.33,325.53 137.28,325.30 140.10,324.60 C142.92,323.90 144.63,322.90 146.90,321.20 C149.17,319.50 151.45,317.78 153.70,314.40 C155.95,311.02 158.15,305.97 160.40,300.90 C162.65,295.83 164.93,289.08 167.20,284.00 C169.47,278.92 171.75,275.05 174.00,270.40 C176.25,265.75 178.45,259.75 180.70,256.10 C182.95,252.45 184.82,251.18 187.50,248.50 C190.18,245.82 194.93,241.75 196.80,240.00 C198.67,238.25 198.38,238.33 198.70,238.00" fill="none" stroke="#f2862a" stroke-width="1.8" stroke-linejoin="round"/></g>
<rect x="43.10" y="202.20" width="160.90" height="136.00" fill="none" stroke="#000" stroke-width="2"/>
<line x1="84.10" y1="225.60" x2="93.18" y2="228.33" stroke="#fbbd2c" stroke-width="1.4" /><path d="M99.40,230.20 L91.66,231.63 L93.85,228.53 L93.73,224.74 Z" fill="#fbbd2c"/>
<line x1="194.20" y1="232.30" x2="190.39" y2="237.39" stroke="#f2862a" stroke-width="1.4" /><path d="M186.50,242.60 L187.81,234.84 L189.97,237.95 L193.57,239.15 Z" fill="#f2862a"/>
<line x1="64.10" y1="266.80" x2="68.86" y2="261.42" stroke="#000" stroke-width="1.7" /><path d="M72.50,257.30 L71.22,264.18 L69.32,260.90 L65.83,259.41 Z" fill="#000"/>
<line x1="181.60" y1="324.60" x2="177.96" y2="320.51" stroke="#000" stroke-width="1.7" /><path d="M174.30,316.40 L180.98,318.49 L177.49,319.99 L175.60,323.28 Z" fill="#000"/>
<text x="54.60" y="275.00" font-size="11.2" text-anchor="start" fill="#231f20" font-weight="normal" font-style="italic" font-family='"Liberation Serif", serif' >I</text><text x="59.20" y="276.60" font-size="7" text-anchor="start" fill="#231f20" font-weight="normal" font-style="normal" font-family='"Liberation Sans", sans-serif' >DS</text>
<text x="184.50" y="331.60" font-size="11.2" text-anchor="start" fill="#231f20" font-weight="normal" font-style="italic" font-family='"Liberation Serif", serif' >I</text><text x="189.00" y="333.80" font-size="7" text-anchor="start" fill="#231f20" font-weight="normal" font-style="normal" font-family='"Liberation Sans", sans-serif' >GS</text>
<text x="145.80" y="218.80" font-size="11.2" text-anchor="start" fill="#231f20" font-weight="normal" font-style="italic" font-family='"Liberation Serif", serif' >V</text><text x="151.90" y="221.40" font-size="7.0" text-anchor="start" fill="#231f20" font-weight="normal" font-style="normal" font-family='"Liberation Sans", sans-serif' >DS</text><text x="163.50" y="218.80" font-size="10.2" text-anchor="start" fill="#231f20" font-family='"Liberation Sans", sans-serif' textLength="35.60" lengthAdjust="spacingAndGlyphs" >= −0.1 V</text>
<text x="225.80" y="214.00" font-size="14.5" text-anchor="start" fill="#000" font-weight="bold" font-style="normal" font-family='"Liberation Sans", sans-serif' >e</text>
<text x="345.20" y="197.80" font-size="13.7" text-anchor="middle" fill="#231f20" font-weight="normal" font-style="normal" font-family='"Liberation Sans", sans-serif' >Ambipolar FeFET</text>
<path d="M260.90,338.32 L264.90,338.32 M262.60,333.00 L264.90,333.00 M262.60,329.89 L264.90,329.89 M262.60,327.69 L264.90,327.69 M262.60,325.98 L264.90,325.98 M262.60,324.58 L264.90,324.58 M262.60,323.40 L264.90,323.40 M262.60,322.37 L264.90,322.37 M262.60,321.47 L264.90,321.47 M260.90,320.66 L264.90,320.66 M262.60,315.34 L264.90,315.34 M262.60,312.23 L264.90,312.23 M262.60,310.03 L264.90,310.03 M262.60,308.32 L264.90,308.32 M262.60,306.92 L264.90,306.92 M262.60,305.74 L264.90,305.74 M262.60,304.71 L264.90,304.71 M262.60,303.81 L264.90,303.81 M260.90,303.00 L264.90,303.00 M262.60,297.68 L264.90,297.68 M262.60,294.57 L264.90,294.57 M262.60,292.37 L264.90,292.37 M262.60,290.66 L264.90,290.66 M262.60,289.26 L264.90,289.26 M262.60,288.08 L264.90,288.08 M262.60,287.05 L264.90,287.05 M262.60,286.15 L264.90,286.15 M260.90,285.34 L264.90,285.34 M262.60,280.02 L264.90,280.02 M262.60,276.91 L264.90,276.91 M262.60,274.71 L264.90,274.71 M262.60,273.00 L264.90,273.00 M262.60,271.60 L264.90,271.60 M262.60,270.42 L264.90,270.42 M262.60,269.39 L264.90,269.39 M262.60,268.49 L264.90,268.49 M260.90,267.68 L264.90,267.68 M262.60,262.36 L264.90,262.36 M262.60,259.25 L264.90,259.25 M262.60,257.05 L264.90,257.05 M262.60,255.34 L264.90,255.34 M262.60,253.94 L264.90,253.94 M262.60,252.76 L264.90,252.76 M262.60,251.73 L264.90,251.73 M262.60,250.83 L264.90,250.83 M260.90,250.02 L264.90,250.02 M262.60,244.70 L264.90,244.70 M262.60,241.59 L264.90,241.59 M262.60,239.39 L264.90,239.39 M262.60,237.68 L264.90,237.68 M262.60,236.28 L264.90,236.28 M262.60,235.10 L264.90,235.10 M262.60,234.07 L264.90,234.07 M262.60,233.17 L264.90,233.17 M260.90,232.36 L264.90,232.36 M262.60,227.04 L264.90,227.04 M262.60,223.93 L264.90,223.93 M262.60,221.73 L264.90,221.73 M262.60,220.02 L264.90,220.02 M262.60,218.62 L264.90,218.62 M262.60,217.44 L264.90,217.44 M262.60,216.41 L264.90,216.41 M262.60,215.51 L264.90,215.51 M260.90,214.70 L264.90,214.70 M263.10,209.38 L264.90,209.38 M263.10,206.27 L264.90,206.27 M263.10,204.07 L264.90,204.07 M263.10,202.36 L264.90,202.36 M270.00,338.2 L270.00,341.70 M294.92,338.2 L294.92,341.70 M319.83,338.2 L319.83,341.70 M344.75,338.2 L344.75,341.70 M369.67,338.2 L369.67,341.70 M394.58,338.2 L394.58,341.70 M419.50,338.2 L419.50,341.70 M282.46,338.2 L282.46,340.40 M307.38,338.2 L307.38,340.40 M332.29,338.2 L332.29,340.40 M357.21,338.2 L357.21,340.40 M382.12,338.2 L382.12,340.40 M407.04,338.2 L407.04,340.40 " stroke="#000" stroke-width="1.2"/>
<text x="260.00" y="342.62" font-size="12" text-anchor="end" fill="#231f20" font-family='"Liberation Sans", sans-serif'>10<tspan font-size="8" dy="-5">-10</tspan></text>
<text x="260.00" y="324.96" font-size="12" text-anchor="end" fill="#231f20" font-family='"Liberation Sans", sans-serif'>10<tspan font-size="8" dy="-5">-9</tspan></text>
<text x="260.00" y="307.30" font-size="12" text-anchor="end" fill="#231f20" font-family='"Liberation Sans", sans-serif'>10<tspan font-size="8" dy="-5">-8</tspan></text>
<text x="260.00" y="289.64" font-size="12" text-anchor="end" fill="#231f20" font-family='"Liberation Sans", sans-serif'>10<tspan font-size="8" dy="-5">-7</tspan></text>
<text x="260.00" y="271.98" font-size="12" text-anchor="end" fill="#231f20" font-family='"Liberation Sans", sans-serif'>10<tspan font-size="8" dy="-5">-6</tspan></text>
<text x="260.00" y="254.32" font-size="12" text-anchor="end" fill="#231f20" font-family='"Liberation Sans", sans-serif'>10<tspan font-size="8" dy="-5">-5</tspan></text>
<text x="260.00" y="236.66" font-size="12" text-anchor="end" fill="#231f20" font-family='"Liberation Sans", sans-serif'>10<tspan font-size="8" dy="-5">-4</tspan></text>
<text x="260.00" y="219.00" font-size="12" text-anchor="end" fill="#231f20" font-family='"Liberation Sans", sans-serif'>10<tspan font-size="8" dy="-5">-3</tspan></text>
<text x="269.00" y="353.20" font-size="11.3" text-anchor="middle" fill="#231f20" font-weight="normal" font-style="normal" font-family='"Liberation Sans", sans-serif' >-15</text>
<text x="293.92" y="353.20" font-size="11.3" text-anchor="middle" fill="#231f20" font-weight="normal" font-style="normal" font-family='"Liberation Sans", sans-serif' >-10</text>
<text x="318.83" y="353.20" font-size="11.3" text-anchor="middle" fill="#231f20" font-weight="normal" font-style="normal" font-family='"Liberation Sans", sans-serif' >-5</text>
<text x="344.75" y="353.20" font-size="11.3" text-anchor="middle" fill="#231f20" font-weight="normal" font-style="normal" font-family='"Liberation Sans", sans-serif' >0</text>
<text x="369.67" y="353.20" font-size="11.3" text-anchor="middle" fill="#231f20" font-weight="normal" font-style="normal" font-family='"Liberation Sans", sans-serif' >5</text>
<text x="394.58" y="353.20" font-size="11.3" text-anchor="middle" fill="#231f20" font-weight="normal" font-style="normal" font-family='"Liberation Sans", sans-serif' >10</text>
<text x="419.50" y="353.20" font-size="11.3" text-anchor="middle" fill="#231f20" font-weight="normal" font-style="normal" font-family='"Liberation Sans", sans-serif' >15</text>
<text x="346.30" y="372.50" font-size="14.0" text-anchor="middle" fill="#231f20" font-weight="normal" font-style="normal" font-family='"Liberation Sans", sans-serif' >Gate voltage (V)</text>
<text x="0.00" y="0.00" font-size="14.2" text-anchor="middle" fill="#231f20" font-weight="normal" font-style="normal" font-family='"Liberation Sans", sans-serif' transform="translate(236.30,270.4) rotate(-90)">Current (A)</text>
<text x="273.60" y="219.00" font-size="12.2" text-anchor="start" fill="#231f20" font-weight="normal" font-style="normal" font-family='"Liberation Sans", sans-serif' >Cr contact</text>
<clipPath id="clipe"><rect x="266" y="203" width="158" height="143"/></clipPath>
<g clip-path="url(#clipe)"><path d="M269.80,283.70 C271.28,285.28 275.82,289.87 278.70,293.20 C281.58,296.53 284.28,300.37 287.10,303.70 C289.92,307.03 292.78,310.55 295.60,313.20 C298.42,315.85 300.48,317.93 304.00,319.60 C307.52,321.27 312.47,322.50 316.70,323.20 C320.93,323.90 322.85,323.70 329.40,323.80 C335.95,323.90 349.65,323.80 356.00,323.80 C362.35,323.80 363.83,324.15 367.50,323.80 C371.17,323.45 374.48,323.28 378.00,321.70 C381.52,320.12 385.07,317.65 388.60,314.30 C392.13,310.95 393.92,307.42 399.20,301.60 C404.48,295.78 416.78,283.10 420.30,279.40" fill="none" stroke="#8c8c8c" stroke-width="1.4"/><path d="M295.60,313.20 C296.65,315.15 300.32,320.85 301.90,324.90 C303.48,328.95 304.45,334.15 305.10,337.50 C305.75,340.85 305.68,343.75 305.80,345.00" fill="none" stroke="#8c8c8c" stroke-width="1"/><path d="M306.60,345.00 C306.75,343.67 306.87,339.48 307.50,337.00 C308.13,334.52 308.52,332.13 310.40,330.10 C312.28,328.07 315.82,325.77 318.80,324.80 C321.78,323.83 326.72,324.38 328.30,324.30" fill="none" stroke="#8c8c8c" stroke-width="1"/><path d="M328.6,324.3 L329,345 M329.6,345 L330,324.3 L347.6,324.3 L348,345 M348.6,345 L349,324.3 L375.5,324.3 L375.9,333.3 L376.3,324.3" fill="none" stroke="#8c8c8c" stroke-width="1"/><path d="M376.30,324.30 C376.67,324.75 377.80,325.55 378.50,327.00 C379.20,328.45 380.05,330.00 380.50,333.00 C380.95,336.00 381.08,343.00 381.20,345.00" fill="none" stroke="#8c8c8c" stroke-width="1"/><path d="M381.50,345.00 C381.62,343.17 381.78,337.33 382.20,334.00 C382.62,330.67 383.03,328.08 384.00,325.00 C384.97,321.92 386.42,318.17 388.00,315.50 C389.58,312.83 391.28,311.50 393.50,309.00 C395.72,306.50 396.83,305.42 401.30,300.50 C405.77,295.58 417.13,283.00 420.30,279.50" fill="none" stroke="#8c8c8c" stroke-width="1"/><path d="M270.20,231.50 C270.92,232.10 273.08,233.27 274.50,235.10 C275.92,236.93 276.95,239.87 278.70,242.50 C280.45,245.13 282.53,247.73 285.00,250.90 C287.47,254.07 290.33,258.33 293.50,261.50 C296.67,264.67 300.83,266.73 304.00,269.90 C307.17,273.07 310.03,276.27 312.50,280.50 C314.97,284.73 316.68,290.37 318.80,295.30 C320.92,300.23 323.08,305.88 325.20,310.10 C327.32,314.32 329.75,318.42 331.50,320.60 C333.25,322.78 333.93,323.20 335.70,323.20 C337.47,323.20 339.97,322.78 342.10,320.60 C344.23,318.42 346.03,314.32 348.50,310.10 C350.97,305.88 354.08,300.58 356.90,295.30 C359.72,290.02 362.58,284.22 365.40,278.40 C368.22,272.58 370.98,265.68 373.80,260.40 C376.62,255.12 379.13,250.92 382.30,246.70 C385.47,242.48 389.28,238.20 392.80,235.10 C396.32,232.00 398.82,230.03 403.40,228.10 C407.98,226.17 417.48,224.27 420.30,223.50" fill="none" stroke="#ec3b40" stroke-width="1.8"/><path d="M270.20,231.50 C271.62,231.22 275.17,230.08 278.70,229.80 C282.23,229.52 286.47,229.27 291.40,229.80 C296.33,230.33 302.67,231.42 308.30,233.00 C313.93,234.58 320.28,237.02 325.20,239.30 C330.12,241.58 334.28,243.70 337.80,246.70 C341.32,249.70 343.82,253.08 346.30,257.30 C348.78,261.52 350.58,267.08 352.70,272.00 C354.82,276.92 357.25,282.22 359.00,286.80 C360.75,291.38 361.78,294.92 363.20,299.50 C364.62,304.08 366.27,310.60 367.50,314.30 C368.73,318.00 369.55,320.65 370.60,321.70 C371.65,322.75 372.57,322.88 373.80,320.60 C375.03,318.32 376.23,313.63 378.00,308.00 C379.77,302.37 382.28,293.85 384.40,286.80 C386.52,279.75 389.02,272.22 390.70,265.70 C392.38,259.18 393.08,252.63 394.50,247.70 C395.92,242.77 397.02,239.43 399.20,236.10 C401.38,232.77 404.08,229.80 407.60,227.70 C411.12,225.60 418.18,224.20 420.30,223.50" fill="none" stroke="#2f72dc" stroke-width="1.8"/></g>
<rect x="264.90" y="202.20" width="159.80" height="136.00" fill="none" stroke="#000" stroke-width="2"/>
<line x1="309.30" y1="228.70" x2="320.58" y2="232.12" stroke="#2f72dc" stroke-width="1.4" /><path d="M326.80,234.00 L319.06,235.42 L321.25,232.32 L321.14,228.53 Z" fill="#2f72dc"/>
<line x1="394.50" y1="228.10" x2="385.70" y2="233.30" stroke="#ec3b40" stroke-width="1.4" /><path d="M380.10,236.60 L384.30,229.94 L385.09,233.65 L387.96,236.14 Z" fill="#ec3b40"/>
<line x1="287.10" y1="274.60" x2="291.26" y2="270.13" stroke="#000" stroke-width="1.7" /><path d="M295.00,266.10 L293.55,272.95 L291.73,269.62 L288.28,268.04 Z" fill="#000"/>
<line x1="408.70" y1="323.80" x2="404.81" y2="320.16" stroke="#000" stroke-width="1.7" /><path d="M400.80,316.40 L407.64,317.87 L404.30,319.68 L402.72,323.13 Z" fill="#000"/>
<text x="278.60" y="282.50" font-size="11.2" text-anchor="start" fill="#231f20" font-weight="normal" font-style="italic" font-family='"Liberation Serif", serif' >I</text><text x="283.20" y="284.10" font-size="7" text-anchor="start" fill="#231f20" font-weight="normal" font-style="normal" font-family='"Liberation Sans", sans-serif' >DS</text>
<text x="409.40" y="331.60" font-size="11.2" text-anchor="start" fill="#231f20" font-weight="normal" font-style="italic" font-family='"Liberation Serif", serif' >I</text><text x="414.00" y="333.80" font-size="7" text-anchor="start" fill="#231f20" font-weight="normal" font-style="normal" font-family='"Liberation Sans", sans-serif' >GS</text>
<text x="367.10" y="218.80" font-size="11.2" text-anchor="start" fill="#231f20" font-weight="normal" font-style="italic" font-family='"Liberation Serif", serif' >V</text><text x="373.20" y="221.40" font-size="7.0" text-anchor="start" fill="#231f20" font-weight="normal" font-style="normal" font-family='"Liberation Sans", sans-serif' >DS</text><text x="385.00" y="218.80" font-size="10.2" text-anchor="start" fill="#231f20" font-family='"Liberation Sans", sans-serif' textLength="35.30" lengthAdjust="spacingAndGlyphs" >= −0.1 V</text>
<text x="449.50" y="213.00" font-size="14.5" text-anchor="start" fill="#000" font-weight="bold" font-style="normal" font-family='"Liberation Sans", sans-serif' >f</text>
<path d="M489.60,338.1 L489.60,341.60 M497.09,338.1 L497.09,340.10 M504.59,338.1 L504.59,341.60 M512.08,338.1 L512.08,340.10 M519.58,338.1 L519.58,341.60 M527.07,338.1 L527.07,340.10 M534.57,338.1 L534.57,341.60 M542.06,338.1 L542.06,340.10 M549.56,338.1 L549.56,341.60 M557.05,338.1 L557.05,340.10 M564.55,338.1 L564.55,341.60 M572.04,338.1 L572.04,340.10 M579.54,338.1 L579.54,341.60 M587.03,338.1 L587.03,340.10 M594.53,338.1 L594.53,341.60 M602.02,338.1 L602.02,340.10 M609.52,338.1 L609.52,341.60 M617.01,338.1 L617.01,340.10 M624.51,338.1 L624.51,341.60 M632.00,338.1 L632.00,340.10 M639.50,338.1 L639.50,341.60 M486.10,338.10 L489.60,338.10 M639.50,338.10 L643.00,338.10 M487.60,323.00 L489.60,323.00 M639.50,323.00 L641.50,323.00 M486.10,307.90 L489.60,307.90 M639.50,307.90 L643.00,307.90 M487.60,292.80 L489.60,292.80 M639.50,292.80 L641.50,292.80 M486.10,277.70 L489.60,277.70 M639.50,277.70 L643.00,277.70 M487.60,262.60 L489.60,262.60 M639.50,262.60 L641.50,262.60 M486.10,247.50 L489.60,247.50 M639.50,247.50 L643.00,247.50 M487.60,232.40 L489.60,232.40 M639.50,232.40 L641.50,232.40 M486.10,217.30 L489.60,217.30 M639.50,217.30 L643.00,217.30 " stroke="#000" stroke-width="1.2"/>
<text x="489.30" y="353.30" font-size="11.3" text-anchor="middle" fill="#231f20" font-weight="normal" font-style="normal" font-family='"Liberation Sans", sans-serif' >-5</text>
<text x="504.29" y="353.30" font-size="11.3" text-anchor="middle" fill="#231f20" font-weight="normal" font-style="normal" font-family='"Liberation Sans", sans-serif' >-4</text>
<text x="519.28" y="353.30" font-size="11.3" text-anchor="middle" fill="#231f20" font-weight="normal" font-style="normal" font-family='"Liberation Sans", sans-serif' >-3</text>
<text x="534.27" y="353.30" font-size="11.3" text-anchor="middle" fill="#231f20" font-weight="normal" font-style="normal" font-family='"Liberation Sans", sans-serif' >-2</text>
<text x="549.26" y="353.30" font-size="11.3" text-anchor="middle" fill="#231f20" font-weight="normal" font-style="normal" font-family='"Liberation Sans", sans-serif' >-1</text>
<text x="564.55" y="353.30" font-size="11.3" text-anchor="middle" fill="#231f20" font-weight="normal" font-style="normal" font-family='"Liberation Sans", sans-serif' >0</text>
<text x="579.54" y="353.30" font-size="11.3" text-anchor="middle" fill="#231f20" font-weight="normal" font-style="normal" font-family='"Liberation Sans", sans-serif' >1</text>
<text x="594.53" y="353.30" font-size="11.3" text-anchor="middle" fill="#231f20" font-weight="normal" font-style="normal" font-family='"Liberation Sans", sans-serif' >2</text>
<text x="609.52" y="353.30" font-size="11.3" text-anchor="middle" fill="#231f20" font-weight="normal" font-style="normal" font-family='"Liberation Sans", sans-serif' >3</text>
<text x="624.51" y="353.30" font-size="11.3" text-anchor="middle" fill="#231f20" font-weight="normal" font-style="normal" font-family='"Liberation Sans", sans-serif' >4</text>
<text x="639.50" y="353.30" font-size="11.3" text-anchor="middle" fill="#231f20" font-weight="normal" font-style="normal" font-family='"Liberation Sans", sans-serif' >5</text>
<text x="485.30" y="342.90" font-size="11.3" text-anchor="end" fill="#231f20" font-weight="normal" font-style="normal" font-family='"Liberation Sans", sans-serif' >0</text>
<text x="646.50" y="342.90" font-size="11.3" text-anchor="start" fill="#231f20" font-weight="normal" font-style="normal" font-family='"Liberation Sans", sans-serif' >0</text>
<text x="485.30" y="312.70" font-size="11.3" text-anchor="end" fill="#231f20" font-weight="normal" font-style="normal" font-family='"Liberation Sans", sans-serif' >-100</text>
<text x="646.50" y="312.70" font-size="11.3" text-anchor="start" fill="#231f20" font-weight="normal" font-style="normal" font-family='"Liberation Sans", sans-serif' >100</text>
<text x="485.30" y="282.50" font-size="11.3" text-anchor="end" fill="#231f20" font-weight="normal" font-style="normal" font-family='"Liberation Sans", sans-serif' >-200</text>
<text x="646.50" y="282.50" font-size="11.3" text-anchor="start" fill="#231f20" font-weight="normal" font-style="normal" font-family='"Liberation Sans", sans-serif' >200</text>
<text x="485.30" y="252.30" font-size="11.3" text-anchor="end" fill="#231f20" font-weight="normal" font-style="normal" font-family='"Liberation Sans", sans-serif' >-300</text>
<text x="646.50" y="252.30" font-size="11.3" text-anchor="start" fill="#231f20" font-weight="normal" font-style="normal" font-family='"Liberation Sans", sans-serif' >300</text>
<text x="485.30" y="222.10" font-size="11.3" text-anchor="end" fill="#231f20" font-weight="normal" font-style="normal" font-family='"Liberation Sans", sans-serif' >-400</text>
<text x="646.50" y="222.10" font-size="11.3" text-anchor="start" fill="#231f20" font-weight="normal" font-style="normal" font-family='"Liberation Sans", sans-serif' >400</text>
<text x="565.60" y="372.80" font-size="13.95" text-anchor="middle" fill="#231f20" font-weight="normal" font-style="normal" font-family='"Liberation Sans", sans-serif' >Drain voltage (V)</text>
<text x="0.00" y="0.00" font-size="13.7" text-anchor="middle" fill="#231f20" font-weight="normal" font-style="normal" font-family='"Liberation Sans", sans-serif' transform="translate(457.5,270) rotate(-90)"><tspan font-family='Liberation Serif' font-style="italic" font-size="14">I</tspan><tspan font-size="9" dy="3">DS</tspan><tspan dy="-3"> (μA μm</tspan><tspan font-size="8.5" dy="-5">−1</tspan><tspan dy="5">)</tspan></text>
<text x="0.00" y="0.00" font-size="13.7" text-anchor="middle" fill="#231f20" font-weight="normal" font-style="normal" font-family='"Liberation Sans", sans-serif' transform="translate(681.5,270) rotate(-90)"><tspan font-family='Liberation Serif' font-style="italic" font-size="14">I</tspan><tspan font-size="9" dy="3">DS</tspan><tspan dy="-3"> (μA μm</tspan><tspan font-size="8.5" dy="-5">−1</tspan><tspan dy="5">)</tspan></text>
<clipPath id="clipf"><rect x="489.6" y="201.8" width="149.9" height="136.3"/></clipPath><g clip-path="url(#clipf)"><path d="M489.71,337.44 L491.62,337.47 L493.54,337.50 L495.46,337.52 L497.37,337.55 L499.29,337.57 L501.21,337.59 L503.13,337.62 L505.04,337.64 L506.96,337.66 L508.88,337.68 L510.79,337.70 L512.71,337.72 L514.63,337.74 L516.54,337.75 L518.46,337.77 L520.38,337.79 L522.30,337.80 L524.21,337.82 L526.13,337.83 L528.05,337.85 L529.96,337.86 L531.88,337.87 L533.80,337.88 L535.71,337.89 L537.63,337.90 L539.55,337.91 L541.47,337.92 L543.38,337.93 L545.30,337.94 L547.22,337.94 L549.13,337.95 L551.05,337.95 L552.97,337.96 L554.88,337.96 L556.80,337.96 L558.72,337.97 L560.64,337.97 L562.55,337.97 L564.47,337.97" fill="none" stroke="#dfe1fc" stroke-width="1.6" stroke-linejoin="round"/><path d="M564.47,337.97 L566.39,337.97 L568.32,337.97 L570.24,337.97 L572.17,337.97 L574.09,337.97 L576.01,337.96 L577.94,337.96 L579.86,337.96 L581.78,337.96 L583.71,337.95 L585.63,337.95 L587.56,337.94 L589.48,337.94 L591.40,337.94 L593.33,337.93 L595.25,337.93 L597.17,337.92 L599.10,337.91 L601.02,337.91 L602.95,337.90 L604.87,337.89 L606.79,337.89 L608.72,337.88 L610.64,337.87 L612.56,337.86 L614.49,337.85 L616.41,337.84 L618.34,337.83 L620.26,337.82 L622.18,337.81 L624.11,337.80 L626.03,337.79 L627.95,337.78 L629.88,337.77 L631.80,337.76 L633.73,337.75 L635.65,337.73 L637.57,337.72 L639.50,337.71" fill="none" stroke="#fbd3d3" stroke-width="1.6" stroke-linejoin="round"/><path d="M489.71,335.87 L491.62,335.92 L493.54,335.98 L495.46,336.03 L497.37,336.08 L499.29,336.14 L501.21,336.19 L503.13,336.25 L505.04,336.30 L506.96,336.35 L508.88,336.41 L510.79,336.46 L512.71,336.51 L514.63,336.57 L516.54,336.62 L518.46,336.67 L520.38,336.73 L522.30,336.78 L524.21,336.84 L526.13,336.89 L528.05,336.94 L529.96,337.00 L531.88,337.05 L533.80,337.11 L535.71,337.16 L537.63,337.21 L539.55,337.27 L541.47,337.32 L543.38,337.37 L545.30,337.43 L547.22,337.48 L549.13,337.54 L551.05,337.59 L552.97,337.64 L554.88,337.70 L556.80,337.75 L558.72,337.81 L560.64,337.86 L562.55,337.92 L564.47,337.97" fill="none" stroke="#bec3f9" stroke-width="1.6" stroke-linejoin="round"/><path d="M564.47,337.97 L566.39,337.97 L568.32,337.97 L570.24,337.96 L572.17,337.96 L574.09,337.95 L576.01,337.94 L577.94,337.93 L579.86,337.91 L581.78,337.90 L583.71,337.88 L585.63,337.87 L587.56,337.85 L589.48,337.82 L591.40,337.80 L593.33,337.78 L595.25,337.75 L597.17,337.72 L599.10,337.69 L601.02,337.66 L602.95,337.62 L604.87,337.59 L606.79,337.55 L608.72,337.51 L610.64,337.47 L612.56,337.43 L614.49,337.39 L616.41,337.34 L618.34,337.29 L620.26,337.24 L622.18,337.19 L624.11,337.14 L626.03,337.09 L627.95,337.03 L629.88,336.97 L631.80,336.91 L633.73,336.85 L635.65,336.79 L637.57,336.72 L639.50,336.66" fill="none" stroke="#f8a9a9" stroke-width="1.6" stroke-linejoin="round"/><path d="M489.71,323.02 L491.62,323.61 L493.54,324.18 L495.46,324.73 L497.37,325.26 L499.29,325.77 L501.21,326.27 L503.13,326.74 L505.04,327.20 L506.96,327.64 L508.88,328.07 L510.79,328.48 L512.71,328.88 L514.63,329.27 L516.54,329.65 L518.46,330.02 L520.38,330.37 L522.30,330.72 L524.21,331.06 L526.13,331.40 L528.05,331.72 L529.96,332.05 L531.88,332.36 L533.80,332.68 L535.71,332.99 L537.63,333.30 L539.55,333.61 L541.47,333.92 L543.38,334.23 L545.30,334.54 L547.22,334.86 L549.13,335.18 L551.05,335.50 L552.97,335.83 L554.88,336.17 L556.80,336.51 L558.72,336.86 L560.64,337.22 L562.55,337.59 L564.47,337.97" fill="none" stroke="#98a0f6" stroke-width="1.6" stroke-linejoin="round"/><path d="M564.47,337.97 L566.39,337.52 L568.32,337.11 L570.24,336.73 L572.17,336.37 L574.09,336.04 L576.01,335.74 L577.94,335.45 L579.86,335.19 L581.78,334.94 L583.71,334.71 L585.63,334.49 L587.56,334.28 L589.48,334.08 L591.40,333.89 L593.33,333.70 L595.25,333.52 L597.17,333.33 L599.10,333.15 L601.02,332.96 L602.95,332.76 L604.87,332.56 L606.79,332.34 L608.72,332.12 L610.64,331.87 L612.56,331.62 L614.49,331.34 L616.41,331.05 L618.34,330.73 L620.26,330.38 L622.18,330.01 L624.11,329.61 L626.03,329.18 L627.95,328.72 L629.88,328.22 L631.80,327.68 L633.73,327.10 L635.65,326.49 L637.57,325.82 L639.50,325.12" fill="none" stroke="#f57d7d" stroke-width="1.6" stroke-linejoin="round"/><path d="M489.71,302.52 L491.62,303.81 L493.54,305.06 L495.46,306.28 L497.37,307.48 L499.29,308.64 L501.21,309.78 L503.13,310.89 L505.04,311.97 L506.96,313.03 L508.88,314.06 L510.79,315.08 L512.71,316.06 L514.63,317.03 L516.54,317.98 L518.46,318.91 L520.38,319.82 L522.30,320.71 L524.21,321.59 L526.13,322.45 L528.05,323.29 L529.96,324.13 L531.88,324.95 L533.80,325.76 L535.71,326.56 L537.63,327.35 L539.55,328.13 L541.47,328.90 L543.38,329.67 L545.30,330.43 L547.22,331.19 L549.13,331.94 L551.05,332.70 L552.97,333.45 L554.88,334.20 L556.80,334.95 L558.72,335.70 L560.64,336.45 L562.55,337.21 L564.47,337.97" fill="none" stroke="#717bf3" stroke-width="1.6" stroke-linejoin="round"/><path d="M564.47,337.97 L566.39,336.78 L568.32,335.65 L570.24,334.58 L572.17,333.56 L574.09,332.59 L576.01,331.67 L577.94,330.79 L579.86,329.95 L581.78,329.14 L583.71,328.37 L585.63,327.63 L587.56,326.92 L589.48,326.22 L591.40,325.55 L593.33,324.90 L595.25,324.26 L597.17,323.63 L599.10,323.01 L601.02,322.39 L602.95,321.77 L604.87,321.15 L606.79,320.52 L608.72,319.88 L610.64,319.24 L612.56,318.57 L614.49,317.89 L616.41,317.18 L618.34,316.45 L620.26,315.69 L622.18,314.90 L624.11,314.07 L626.03,313.21 L627.95,312.30 L629.88,311.35 L631.80,310.34 L633.73,309.29 L635.65,308.18 L637.57,307.02 L639.50,305.79" fill="none" stroke="#f04c4c" stroke-width="1.6" stroke-linejoin="round"/><path d="M489.71,280.20 L491.62,281.72 L493.54,283.23 L495.46,284.73 L497.37,286.22 L499.29,287.72 L501.21,289.20 L503.13,290.68 L505.04,292.16 L506.96,293.63 L508.88,295.10 L510.79,296.57 L512.71,298.03 L514.63,299.50 L516.54,300.96 L518.46,302.42 L520.38,303.87 L522.30,305.33 L524.21,306.79 L526.13,308.24 L528.05,309.70 L529.96,311.16 L531.88,312.62 L533.80,314.08 L535.71,315.54 L537.63,317.00 L539.55,318.47 L541.47,319.94 L543.38,321.42 L545.30,322.89 L547.22,324.38 L549.13,325.86 L551.05,327.35 L552.97,328.85 L554.88,330.35 L556.80,331.86 L558.72,333.38 L560.64,334.90 L562.55,336.43 L564.47,337.97" fill="none" stroke="#4c58f0" stroke-width="1.6" stroke-linejoin="round"/><path d="M564.47,337.97 L566.39,335.81 L568.32,333.68 L570.24,331.59 L572.17,329.54 L574.09,327.51 L576.01,325.53 L577.94,323.57 L579.86,321.64 L581.78,319.75 L583.71,317.88 L585.63,316.05 L587.56,314.24 L589.48,312.46 L591.40,310.71 L593.33,308.98 L595.25,307.28 L597.17,305.61 L599.10,303.96 L601.02,302.34 L602.95,300.73 L604.87,299.16 L606.79,297.60 L608.72,296.06 L610.64,294.55 L612.56,293.05 L614.49,291.58 L616.41,290.12 L618.34,288.68 L620.26,287.26 L622.18,285.85 L624.11,284.46 L626.03,283.08 L627.95,281.72 L629.88,280.37 L631.80,279.04 L633.73,277.72 L635.65,276.41 L637.57,275.11 L639.50,273.82" fill="none" stroke="#e61515" stroke-width="1.6" stroke-linejoin="round"/><path d="M489.71,254.93 L491.62,255.96 L493.54,257.10 L495.46,258.35 L497.37,259.71 L499.29,261.17 L501.21,262.72 L503.13,264.36 L505.04,266.09 L506.96,267.90 L508.88,269.79 L510.79,271.75 L512.71,273.78 L514.63,275.87 L516.54,278.03 L518.46,280.23 L520.38,282.49 L522.30,284.79 L524.21,287.14 L526.13,289.52 L528.05,291.94 L529.96,294.38 L531.88,296.84 L533.80,299.33 L535.71,301.83 L537.63,304.34 L539.55,306.85 L541.47,309.37 L543.38,311.88 L545.30,314.38 L547.22,316.87 L549.13,319.34 L551.05,321.79 L552.97,324.22 L554.88,326.61 L556.80,328.97 L558.72,331.29 L560.64,333.57 L562.55,335.80 L564.47,337.97" fill="none" stroke="#2632ec" stroke-width="1.6" stroke-linejoin="round"/><path d="M564.47,337.97 L566.39,335.01 L568.32,332.11 L570.24,329.27 L572.17,326.49 L574.09,323.77 L576.01,321.11 L577.94,318.50 L579.86,315.95 L581.78,313.45 L583.71,311.01 L585.63,308.61 L587.56,306.27 L589.48,303.97 L591.40,301.72 L593.33,299.51 L595.25,297.35 L597.17,295.22 L599.10,293.14 L601.02,291.10 L602.95,289.10 L604.87,287.13 L606.79,285.19 L608.72,283.29 L610.64,281.43 L612.56,279.59 L614.49,277.78 L616.41,276.00 L618.34,274.25 L620.26,272.52 L622.18,270.81 L624.11,269.13 L626.03,267.47 L627.95,265.82 L629.88,264.20 L631.80,262.59 L633.73,261.00 L635.65,259.42 L637.57,257.85 L639.50,256.29" fill="none" stroke="#bf1212" stroke-width="1.6" stroke-linejoin="round"/><path d="M489.71,225.14 L491.62,226.21 L493.54,227.35 L495.46,228.58 L497.37,229.89 L499.29,231.28 L501.21,232.76 L503.13,234.33 L505.04,235.99 L506.96,237.73 L508.88,239.57 L510.79,241.50 L512.71,243.52 L514.63,245.64 L516.54,247.85 L518.46,250.16 L520.38,252.57 L522.30,255.07 L524.21,257.68 L526.13,260.39 L528.05,263.21 L529.96,266.13 L531.88,269.15 L533.80,272.28 L535.71,275.52 L537.63,278.87 L539.55,282.33 L541.47,285.90 L543.38,289.59 L545.30,293.39 L547.22,297.31 L549.13,301.34 L551.05,305.49 L552.97,309.76 L554.88,314.15 L556.80,318.67 L558.72,323.30 L560.64,328.07 L562.55,332.95 L564.47,337.97" fill="none" stroke="#1a20b4" stroke-width="1.6" stroke-linejoin="round"/><path d="M564.47,337.97 L566.39,333.25 L568.32,328.81 L570.24,324.60 L572.17,320.61 L574.09,316.81 L576.01,313.17 L577.94,309.66 L579.86,306.28 L581.78,302.99 L583.71,299.78 L585.63,296.63 L587.56,293.54 L589.48,290.49 L591.40,287.47 L593.33,284.47 L595.25,281.50 L597.17,278.54 L599.10,275.59 L601.02,272.66 L602.95,269.75 L604.87,266.86 L606.79,264.00 L608.72,261.17 L610.64,258.40 L612.56,255.68 L614.49,253.04 L616.41,250.50 L618.34,248.06 L620.26,245.75 L622.18,243.60 L624.11,241.62 L626.03,239.85 L627.95,238.31 L629.88,237.04 L631.80,236.06 L633.73,235.40 L635.65,235.12 L637.57,235.24 L639.50,235.80" fill="none" stroke="#8c0d0d" stroke-width="1.6" stroke-linejoin="round"/></g>
<path d="M564.6,275 L564.6,338" stroke="#333" stroke-width="1.6"/>
<rect x="489.60" y="201.80" width="149.90" height="136.30" fill="none" stroke="#1a1a1a" stroke-width="1.6"/>
<text x="512.00" y="214.50" font-size="12.5" text-anchor="start" fill="#231f20" font-weight="normal" font-style="italic" font-family='"Liberation Serif", serif' >V</text><text x="520.30" y="216.50" font-size="8" text-anchor="start" fill="#231f20" font-weight="normal" font-style="normal" font-family='"Liberation Sans", sans-serif' >GS</text>
<line x1="533.20" y1="209.80" x2="541.20" y2="209.80" stroke="#1a20b4" stroke-width="1.8" />
<text x="543.50" y="213.40" font-size="10.2" text-anchor="start" fill="#231f20" font-weight="normal" font-style="normal" font-family='"Liberation Sans", sans-serif' >-15 V</text>
<line x1="570.50" y1="209.80" x2="579.70" y2="209.80" stroke="#8c0d0d" stroke-width="1.8" />
<text x="582.30" y="213.40" font-size="10.2" text-anchor="start" fill="#231f20" font-weight="normal" font-style="normal" font-family='"Liberation Sans", sans-serif' >15 V</text>
<line x1="533.20" y1="219.80" x2="541.20" y2="219.80" stroke="#2632ec" stroke-width="1.8" />
<text x="543.50" y="223.40" font-size="10.2" text-anchor="start" fill="#231f20" font-weight="normal" font-style="normal" font-family='"Liberation Sans", sans-serif' >-9 V</text>
<line x1="570.50" y1="219.80" x2="579.70" y2="219.80" stroke="#bf1212" stroke-width="1.8" />
<text x="582.30" y="223.40" font-size="10.2" text-anchor="start" fill="#231f20" font-weight="normal" font-style="normal" font-family='"Liberation Sans", sans-serif' >14 V</text>
<line x1="533.20" y1="229.80" x2="541.20" y2="229.80" stroke="#4c58f0" stroke-width="1.8" />
<text x="543.50" y="233.40" font-size="10.2" text-anchor="start" fill="#231f20" font-weight="normal" font-style="normal" font-family='"Liberation Sans", sans-serif' >-6 V</text>
<line x1="570.50" y1="229.80" x2="579.70" y2="229.80" stroke="#e61515" stroke-width="1.8" />
<text x="582.30" y="233.40" font-size="10.2" text-anchor="start" fill="#231f20" font-weight="normal" font-style="normal" font-family='"Liberation Sans", sans-serif' >13 V</text>
<line x1="533.20" y1="239.80" x2="541.20" y2="239.80" stroke="#717bf3" stroke-width="1.8" />
<text x="543.50" y="243.40" font-size="10.2" text-anchor="start" fill="#231f20" font-weight="normal" font-style="normal" font-family='"Liberation Sans", sans-serif' >-3 V</text>
<line x1="570.50" y1="239.80" x2="579.70" y2="239.80" stroke="#f04c4c" stroke-width="1.8" />
<text x="582.30" y="243.40" font-size="10.2" text-anchor="start" fill="#231f20" font-weight="normal" font-style="normal" font-family='"Liberation Sans", sans-serif' >11 V</text>
<line x1="533.20" y1="249.80" x2="541.20" y2="249.80" stroke="#98a0f6" stroke-width="1.8" />
<text x="543.50" y="253.40" font-size="10.2" text-anchor="start" fill="#231f20" font-weight="normal" font-style="normal" font-family='"Liberation Sans", sans-serif' >0 V</text>
<line x1="570.50" y1="249.80" x2="579.70" y2="249.80" stroke="#f57d7d" stroke-width="1.8" />
<text x="582.30" y="253.40" font-size="10.2" text-anchor="start" fill="#231f20" font-weight="normal" font-style="normal" font-family='"Liberation Sans", sans-serif' >9 V</text>
<line x1="533.20" y1="259.80" x2="541.20" y2="259.80" stroke="#bec3f9" stroke-width="1.8" />
<text x="543.50" y="263.40" font-size="10.2" text-anchor="start" fill="#231f20" font-weight="normal" font-style="normal" font-family='"Liberation Sans", sans-serif' >3 V</text>
<line x1="570.50" y1="259.80" x2="579.70" y2="259.80" stroke="#f8a9a9" stroke-width="1.8" />
<text x="582.30" y="263.40" font-size="10.2" text-anchor="start" fill="#231f20" font-weight="normal" font-style="normal" font-family='"Liberation Sans", sans-serif' >0 V</text>
<line x1="533.20" y1="269.80" x2="541.20" y2="269.80" stroke="#dfe1fc" stroke-width="1.8" />
<text x="543.50" y="273.40" font-size="10.2" text-anchor="start" fill="#231f20" font-weight="normal" font-style="normal" font-family='"Liberation Sans", sans-serif' >5 V</text>
<line x1="570.50" y1="269.80" x2="579.70" y2="269.80" stroke="#fbd3d3" stroke-width="1.8" />
<text x="582.30" y="273.40" font-size="10.2" text-anchor="start" fill="#231f20" font-weight="normal" font-style="normal" font-family='"Liberation Sans", sans-serif' >-2 V</text>
<text x="1.80" y="412.60" font-size="14.5" text-anchor="start" fill="#000" font-weight="bold" font-style="normal" font-family='"Liberation Sans", sans-serif' >g</text>
<text x="226.40" y="398.60" font-size="13.7" text-anchor="middle" fill="#231f20" font-weight="normal" font-style="normal" font-family='"Liberation Sans", sans-serif' >Ambipolar FeFETs</text>
<path d="M39.40,555.15 L43.40,555.15 M41.00,550.34 L43.40,550.34 M41.00,547.53 L43.40,547.53 M41.00,545.54 L43.40,545.54 M41.00,543.99 L43.40,543.99 M41.00,542.72 L43.40,542.72 M41.00,541.65 L43.40,541.65 M41.00,540.73 L43.40,540.73 M41.00,539.91 L43.40,539.91 M39.40,539.18 L43.40,539.18 M41.00,534.37 L43.40,534.37 M41.00,531.56 L43.40,531.56 M41.00,529.57 L43.40,529.57 M41.00,528.02 L43.40,528.02 M41.00,526.75 L43.40,526.75 M41.00,525.68 L43.40,525.68 M41.00,524.76 L43.40,524.76 M41.00,523.94 L43.40,523.94 M39.40,523.21 L43.40,523.21 M41.00,518.40 L43.40,518.40 M41.00,515.59 L43.40,515.59 M41.00,513.60 L43.40,513.60 M41.00,512.05 L43.40,512.05 M41.00,510.78 L43.40,510.78 M41.00,509.71 L43.40,509.71 M41.00,508.79 L43.40,508.79 M41.00,507.97 L43.40,507.97 M39.40,507.24 L43.40,507.24 M41.00,502.43 L43.40,502.43 M41.00,499.62 L43.40,499.62 M41.00,497.63 L43.40,497.63 M41.00,496.08 L43.40,496.08 M41.00,494.81 L43.40,494.81 M41.00,493.74 L43.40,493.74 M41.00,492.82 L43.40,492.82 M41.00,492.00 L43.40,492.00 M39.40,491.27 L43.40,491.27 M41.00,486.46 L43.40,486.46 M41.00,483.65 L43.40,483.65 M41.00,481.66 L43.40,481.66 M41.00,480.11 L43.40,480.11 M41.00,478.84 L43.40,478.84 M41.00,477.77 L43.40,477.77 M41.00,476.85 L43.40,476.85 M41.00,476.03 L43.40,476.03 M39.40,475.30 L43.40,475.30 M41.00,470.49 L43.40,470.49 M41.00,467.68 L43.40,467.68 M41.00,465.69 L43.40,465.69 M41.00,464.14 L43.40,464.14 M41.00,462.87 L43.40,462.87 M41.00,461.80 L43.40,461.80 M41.00,460.88 L43.40,460.88 M41.00,460.06 L43.40,460.06 M39.40,459.33 L43.40,459.33 M41.00,454.52 L43.40,454.52 M41.00,451.71 L43.40,451.71 M41.00,449.72 L43.40,449.72 M41.00,448.17 L43.40,448.17 M41.00,446.90 L43.40,446.90 M41.00,445.83 L43.40,445.83 M41.00,444.91 L43.40,444.91 M41.00,444.09 L43.40,444.09 M39.40,443.36 L43.40,443.36 M41.00,438.55 L43.40,438.55 M41.00,435.74 L43.40,435.74 M41.00,433.75 L43.40,433.75 M41.00,432.20 L43.40,432.20 M41.00,430.93 L43.40,430.93 M41.00,429.86 L43.40,429.86 M41.00,428.94 L43.40,428.94 M41.00,428.12 L43.40,428.12 M39.40,427.39 L43.40,427.39 M41.00,422.58 L43.40,422.58 M41.00,419.77 L43.40,419.77 M41.00,417.78 L43.40,417.78 M41.00,416.23 L43.40,416.23 M41.00,414.96 L43.40,414.96 M41.00,413.89 L43.40,413.89 M41.00,412.97 L43.40,412.97 M41.00,412.15 L43.40,412.15 M39.40,411.42 L43.40,411.42 M64.60,555.6 L64.60,559.10 M90.00,555.6 L90.00,559.10 M115.40,555.6 L115.40,559.10 M140.80,555.6 L140.80,559.10 M166.20,555.6 L166.20,559.10 M191.60,555.6 L191.60,559.10 M51.90,555.6 L51.90,557.60 M77.30,555.6 L77.30,557.60 M102.70,555.6 L102.70,557.60 M128.10,555.6 L128.10,557.60 M153.50,555.6 L153.50,557.60 M178.90,555.6 L178.90,557.60 M204.30,555.6 L204.30,557.60 " stroke="#000" stroke-width="1.2"/>
<text x="36.20" y="559.45" font-size="12" text-anchor="end" fill="#231f20" font-family='"Liberation Sans", sans-serif'>10<tspan font-size="8" dy="-5">-5</tspan></text>
<text x="36.20" y="543.48" font-size="12" text-anchor="end" fill="#231f20" font-family='"Liberation Sans", sans-serif'>10<tspan font-size="8" dy="-5">-4</tspan></text>
<text x="36.20" y="527.51" font-size="12" text-anchor="end" fill="#231f20" font-family='"Liberation Sans", sans-serif'>10<tspan font-size="8" dy="-5">-3</tspan></text>
<text x="36.20" y="511.54" font-size="12" text-anchor="end" fill="#231f20" font-family='"Liberation Sans", sans-serif'>10<tspan font-size="8" dy="-5">-2</tspan></text>
<text x="36.20" y="495.57" font-size="12" text-anchor="end" fill="#231f20" font-family='"Liberation Sans", sans-serif'>10<tspan font-size="8" dy="-5">-1</tspan></text>
<text x="36.20" y="479.60" font-size="12" text-anchor="end" fill="#231f20" font-family='"Liberation Sans", sans-serif'>10<tspan font-size="8" dy="-5">0</tspan></text>
<text x="36.20" y="463.63" font-size="12" text-anchor="end" fill="#231f20" font-family='"Liberation Sans", sans-serif'>10<tspan font-size="8" dy="-5">1</tspan></text>
<text x="36.20" y="447.66" font-size="12" text-anchor="end" fill="#231f20" font-family='"Liberation Sans", sans-serif'>10<tspan font-size="8" dy="-5">2</tspan></text>
<text x="36.20" y="431.69" font-size="12" text-anchor="end" fill="#231f20" font-family='"Liberation Sans", sans-serif'>10<tspan font-size="8" dy="-5">3</tspan></text>
<text x="36.20" y="415.72" font-size="12" text-anchor="end" fill="#231f20" font-family='"Liberation Sans", sans-serif'>10<tspan font-size="8" dy="-5">4</tspan></text>
<text x="64.60" y="572.00" font-size="11.3" text-anchor="middle" fill="#231f20" font-weight="normal" font-style="normal" font-family='"Liberation Sans", sans-serif' >0</text>
<text x="90.00" y="572.00" font-size="11.3" text-anchor="middle" fill="#231f20" font-weight="normal" font-style="normal" font-family='"Liberation Sans", sans-serif' >1</text>
<text x="115.40" y="572.00" font-size="11.3" text-anchor="middle" fill="#231f20" font-weight="normal" font-style="normal" font-family='"Liberation Sans", sans-serif' >2</text>
<text x="140.80" y="572.00" font-size="11.3" text-anchor="middle" fill="#231f20" font-weight="normal" font-style="normal" font-family='"Liberation Sans", sans-serif' >3</text>
<text x="166.20" y="572.00" font-size="11.3" text-anchor="middle" fill="#231f20" font-weight="normal" font-style="normal" font-family='"Liberation Sans", sans-serif' >4</text>
<text x="191.60" y="572.00" font-size="11.3" text-anchor="middle" fill="#231f20" font-weight="normal" font-style="normal" font-family='"Liberation Sans", sans-serif' >5</text>
<text x="124.40" y="588.20" font-size="14.0" text-anchor="middle" fill="#231f20" font-weight="normal" font-style="normal" font-family='"Liberation Sans", sans-serif' >|Drain voltage| (V)</text>
<text x="0.00" y="0.00" font-size="13.7" text-anchor="middle" fill="#231f20" font-weight="normal" font-style="normal" font-family='"Liberation Sans", sans-serif' transform="translate(12.5,480) rotate(-90)"><tspan font-family='Liberation Serif' font-style="italic" font-size="14">I</tspan><tspan font-size="9" dy="3">on</tspan><tspan dy="-3"> (μA μm</tspan><tspan font-size="8.5" dy="-5">−1</tspan><tspan dy="5">)</tspan></text>
<path d="M64.8,407 L64.8,555" stroke="#333" stroke-width="0.8" stroke-dasharray="2.5,1.5"/>
<text x="50.60" y="418.40" font-size="9.3" text-anchor="start" fill="#231f20" font-family='"Liberation Sans", sans-serif' textLength="62.00" lengthAdjust="spacingAndGlyphs" >Solid: hole current</text>
<text x="50.60" y="428.10" font-size="9.3" text-anchor="start" fill="#231f20" font-family='"Liberation Sans", sans-serif' textLength="79.30" lengthAdjust="spacingAndGlyphs" >Open: electron current</text>
<path d="M64.80,461.50 L69.55,469.50 L60.05,469.50 Z" fill="none" stroke="#777" stroke-width="1.3"/>
<path d="M64.80,459.00 L69.55,467.00 L60.05,467.00 Z" fill="none" stroke="#777" stroke-width="1.3"/>
<path d="M64.80,456.50 L69.55,464.50 L60.05,464.50 Z" fill="#666" stroke="#555" stroke-width="1"/>
<path d="M66.50,449.60 L68.67,454.21 L73.73,454.85 L70.02,458.34 L70.97,463.35 L66.50,460.90 L62.03,463.35 L62.98,458.34 L59.27,454.85 L64.33,454.21 Z" fill="#fa2d2d" stroke="#dd1010" stroke-width="0.9" stroke-linejoin="miter"/>
<path d="M66.50,453.70 L67.43,455.93 L69.83,456.12 L68.00,457.69 L68.56,460.03 L66.50,458.77 L64.44,460.03 L65.00,457.69 L63.17,456.12 L65.57,455.93 Z" fill="#b8141c" stroke="none" stroke-width="1" stroke-linejoin="miter"/>
<circle cx="65.10" cy="501.50" r="4.50" fill="#666" stroke="#666" stroke-width="1"/>
<circle cx="65.10" cy="505.50" r="4.50" fill="none" stroke="#777" stroke-width="1.2"/>
<circle cx="65.10" cy="503.50" r="4.50" fill="#6a6a6a" stroke="none" stroke-width="1"/>
<rect x="79.00" y="452.70" width="8.60" height="8.60" fill="#2b70d6" stroke="none" stroke-width="1"/>
<path d="M89.70,454.10 L94.93,457.90 L92.93,464.05 L86.47,464.05 L84.47,457.90 Z" fill="#fccf5c" stroke="none" stroke-width="1"/>
<path d="M89.70,448.60 L94.65,452.19 L92.76,458.01 L86.64,458.01 L84.75,452.19 Z" fill="none" stroke="#fccf5c" stroke-width="1.5"/>
<path d="M89.70,434.30 L91.87,438.91 L96.93,439.55 L93.22,443.04 L94.17,448.05 L89.70,445.60 L85.23,448.05 L86.18,443.04 L82.47,439.55 L87.53,438.91 Z" fill="#fa2d2d" stroke="#dd1010" stroke-width="0.9" stroke-linejoin="miter"/>
<path d="M140.50,441.30 L145.73,445.10 L143.73,451.25 L137.27,451.25 L135.27,445.10 Z" fill="none" stroke="#fccf5c" stroke-width="1.5"/>
<path d="M140.50,452.50 L145.73,456.30 L143.73,462.45 L137.27,462.45 L135.27,456.30 Z" fill="#fccf5c" stroke="none" stroke-width="1"/>
<path d="M140.50,428.70 L142.67,433.31 L147.73,433.95 L144.02,437.44 L144.97,442.45 L140.50,440.00 L136.03,442.45 L136.98,437.44 L133.27,433.95 L138.33,433.31 Z" fill="#fa2d2d" stroke="#dd1010" stroke-width="0.9" stroke-linejoin="miter"/>
<path d="M191.60,426.40 L193.77,431.01 L198.83,431.65 L195.12,435.14 L196.07,440.15 L191.60,437.70 L187.13,440.15 L188.08,435.14 L184.37,431.65 L189.43,431.01 Z" fill="#fa2d2d" stroke="#dd1010" stroke-width="0.9" stroke-linejoin="miter"/>
<rect x="80.40" y="470.30" width="7.40" height="7.40" fill="none" stroke="#2b70d6" stroke-width="1.4"/>
<circle cx="89.70" cy="491.30" r="4.50" fill="#fccf5c" stroke="none" stroke-width="1"/>
<path d="M89.70,492.00 L94.20,496.50 L89.70,501.00 L85.20,496.50 Z" fill="#fccf5c" stroke="none" stroke-width="1"/>
<rect x="90.80" y="498.80" width="7.60" height="7.60" fill="none" stroke="#7a52e0" stroke-width="1.4"/>
<rect x="90.60" y="509.60" width="8.00" height="8.00" fill="#7a52e0" stroke="none" stroke-width="1"/>
<path d="M89.70,511.40 L94.70,516.40 L89.70,521.40 L84.70,516.40 Z" fill="none" stroke="#fccf5c" stroke-width="1.4"/>
<circle cx="191.30" cy="534.50" r="4.50" fill="none" stroke="#3d9e66" stroke-width="1.3"/>
<circle cx="191.30" cy="538.60" r="4.50" fill="#3d9e66" stroke="none" stroke-width="1"/>
<text x="93.00" y="457.00" font-size="9.3" text-anchor="start" fill="#b59a5c" font-family='"Liberation Sans", sans-serif' textLength="43.30" lengthAdjust="spacingAndGlyphs" >WSe<tspan font-size="6.5" dy="2">2</tspan><tspan dy="-2">/AlScN</tspan></text>
<text x="90.80" y="478.00" font-size="9.3" text-anchor="start" fill="#2b70d6" font-family='"Liberation Sans", sans-serif' textLength="35.20" lengthAdjust="spacingAndGlyphs" >Si fin/HZO</text>
<text x="93.00" y="488.30" font-size="9.3" text-anchor="start" fill="#b59a5c" font-family='"Liberation Sans", sans-serif' textLength="65.60" lengthAdjust="spacingAndGlyphs" >WSe<tspan font-size="6.5" dy="2">2</tspan><tspan dy="-2">/P(VDF-TrFE)</tspan></text>
<text x="101.40" y="507.20" font-size="9.3" text-anchor="start" fill="#6a3db0" font-family='"Liberation Sans", sans-serif' textLength="42.40" lengthAdjust="spacingAndGlyphs" >Si fin,14-nm/</text>
<text x="100.90" y="517.00" font-size="9.3" text-anchor="start" fill="#6a3db0" font-family='"Liberation Sans", sans-serif' textLength="16.80" lengthAdjust="spacingAndGlyphs" >HZO</text>
<text x="95.30" y="528.20" font-size="9.3" text-anchor="start" fill="#b59a5c" font-family='"Liberation Sans", sans-serif' textLength="39.60" lengthAdjust="spacingAndGlyphs" >WSe<tspan font-size="6.5" dy="2">2</tspan><tspan dy="-2">/CIPS</tspan></text>
<text x="44.60" y="479.30" font-size="9.3" text-anchor="start" fill="#231f20" font-family='"Liberation Sans", sans-serif' textLength="11.00" lengthAdjust="spacingAndGlyphs" >Gr/</text>
<text x="45.20" y="487.30" font-size="9.3" text-anchor="start" fill="#231f20" font-family='"Liberation Sans", sans-serif' textLength="33.50" lengthAdjust="spacingAndGlyphs" >perovskite</text>
<text x="46.10" y="519.60" font-size="9.3" text-anchor="start" fill="#231f20" font-family='"Liberation Sans", sans-serif' textLength="11.00" lengthAdjust="spacingAndGlyphs" >Gr/</text>
<text x="45.80" y="527.30" font-size="9.3" text-anchor="start" fill="#231f20" font-family='"Liberation Sans", sans-serif' textLength="42.70" lengthAdjust="spacingAndGlyphs" >P(VDF-TrFE)</text>
<text x="145.50" y="541.30" font-size="9.3" text-anchor="start" fill="#3d9e66" font-family='"Liberation Sans", sans-serif' textLength="29.00" lengthAdjust="spacingAndGlyphs" >Polymer/</text>
<text x="145.50" y="550.00" font-size="9.3" text-anchor="start" fill="#3d9e66" font-family='"Liberation Sans", sans-serif' textLength="42.40" lengthAdjust="spacingAndGlyphs" >P(VDF-TrFE)</text>
<text x="145.50" y="427.00" font-size="10.5" text-anchor="start" fill="#f11a1a" font-family='"Liberation Sans", sans-serif' textLength="40.20" lengthAdjust="spacingAndGlyphs" >This work</text>
<rect x="43.40" y="405.90" width="161.30" height="149.70" fill="none" stroke="#000" stroke-width="2"/>
<text x="225.60" y="413.20" font-size="14.5" text-anchor="start" fill="#000" font-weight="bold" font-style="normal" font-family='"Liberation Sans", sans-serif' >h</text>
<path d="M261.00,545.35 L265.00,545.35 M262.60,540.85 L265.00,540.85 M262.60,538.22 L265.00,538.22 M262.60,536.35 L265.00,536.35 M262.60,534.90 L265.00,534.90 M262.60,533.72 L265.00,533.72 M262.60,532.72 L265.00,532.72 M262.60,531.85 L265.00,531.85 M262.60,531.08 L265.00,531.08 M261.00,530.40 L265.00,530.40 M262.60,525.90 L265.00,525.90 M262.60,523.27 L265.00,523.27 M262.60,521.40 L265.00,521.40 M262.60,519.95 L265.00,519.95 M262.60,518.77 L265.00,518.77 M262.60,517.77 L265.00,517.77 M262.60,516.90 L265.00,516.90 M262.60,516.13 L265.00,516.13 M261.00,515.45 L265.00,515.45 M262.60,510.95 L265.00,510.95 M262.60,508.32 L265.00,508.32 M262.60,506.45 L265.00,506.45 M262.60,505.00 L265.00,505.00 M262.60,503.82 L265.00,503.82 M262.60,502.82 L265.00,502.82 M262.60,501.95 L265.00,501.95 M262.60,501.18 L265.00,501.18 M261.00,500.50 L265.00,500.50 M262.60,496.00 L265.00,496.00 M262.60,493.37 L265.00,493.37 M262.60,491.50 L265.00,491.50 M262.60,490.05 L265.00,490.05 M262.60,488.87 L265.00,488.87 M262.60,487.87 L265.00,487.87 M262.60,487.00 L265.00,487.00 M262.60,486.23 L265.00,486.23 M261.00,485.55 L265.00,485.55 M262.60,481.05 L265.00,481.05 M262.60,478.42 L265.00,478.42 M262.60,476.55 L265.00,476.55 M262.60,475.10 L265.00,475.10 M262.60,473.92 L265.00,473.92 M262.60,472.92 L265.00,472.92 M262.60,472.05 L265.00,472.05 M262.60,471.28 L265.00,471.28 M261.00,470.60 L265.00,470.60 M262.60,466.10 L265.00,466.10 M262.60,463.47 L265.00,463.47 M262.60,461.60 L265.00,461.60 M262.60,460.15 L265.00,460.15 M262.60,458.97 L265.00,458.97 M262.60,457.97 L265.00,457.97 M262.60,457.10 L265.00,457.10 M262.60,456.33 L265.00,456.33 M261.00,455.65 L265.00,455.65 M262.60,451.15 L265.00,451.15 M262.60,448.52 L265.00,448.52 M262.60,446.65 L265.00,446.65 M262.60,445.20 L265.00,445.20 M262.60,444.02 L265.00,444.02 M262.60,443.02 L265.00,443.02 M262.60,442.15 L265.00,442.15 M262.60,441.38 L265.00,441.38 M261.00,440.70 L265.00,440.70 M262.60,436.20 L265.00,436.20 M262.60,433.57 L265.00,433.57 M262.60,431.70 L265.00,431.70 M262.60,430.25 L265.00,430.25 M262.60,429.07 L265.00,429.07 M262.60,428.07 L265.00,428.07 M262.60,427.20 L265.00,427.20 M262.60,426.43 L265.00,426.43 M261.00,425.75 L265.00,425.75 M262.60,421.25 L265.00,421.25 M262.60,418.62 L265.00,418.62 M262.60,416.75 L265.00,416.75 M262.60,415.30 L265.00,415.30 M262.60,414.12 L265.00,414.12 M262.60,413.12 L265.00,413.12 M262.60,412.25 L265.00,412.25 M262.60,411.48 L265.00,411.48 M261.00,410.80 L265.00,410.80 M262.60,555.80 L265.00,555.80 M262.60,553.17 L265.00,553.17 M262.60,551.30 L265.00,551.30 M262.60,549.85 L265.00,549.85 M262.60,548.67 L265.00,548.67 M262.60,547.67 L265.00,547.67 M262.60,546.80 L265.00,546.80 M262.60,546.03 L265.00,546.03 M281.80,556.0 L281.80,559.50 M323.00,556.0 L323.00,559.50 M364.20,556.0 L364.20,559.50 M405.40,556.0 L405.40,559.50 M261.20,556.0 L261.20,558.00 M302.40,556.0 L302.40,558.00 M343.60,556.0 L343.60,558.00 M384.80,556.0 L384.80,558.00 " stroke="#000" stroke-width="1.2"/>
<text x="257.80" y="549.65" font-size="12" text-anchor="end" fill="#231f20" font-family='"Liberation Sans", sans-serif'>10<tspan font-size="8" dy="-5">-1</tspan></text>
<text x="257.80" y="534.70" font-size="12" text-anchor="end" fill="#231f20" font-family='"Liberation Sans", sans-serif'>10<tspan font-size="8" dy="-5">0</tspan></text>
<text x="257.80" y="519.75" font-size="12" text-anchor="end" fill="#231f20" font-family='"Liberation Sans", sans-serif'>10<tspan font-size="8" dy="-5">1</tspan></text>
<text x="257.80" y="504.80" font-size="12" text-anchor="end" fill="#231f20" font-family='"Liberation Sans", sans-serif'>10<tspan font-size="8" dy="-5">2</tspan></text>
<text x="257.80" y="489.85" font-size="12" text-anchor="end" fill="#231f20" font-family='"Liberation Sans", sans-serif'>10<tspan font-size="8" dy="-5">3</tspan></text>
<text x="257.80" y="474.90" font-size="12" text-anchor="end" fill="#231f20" font-family='"Liberation Sans", sans-serif'>10<tspan font-size="8" dy="-5">4</tspan></text>
<text x="257.80" y="459.95" font-size="12" text-anchor="end" fill="#231f20" font-family='"Liberation Sans", sans-serif'>10<tspan font-size="8" dy="-5">5</tspan></text>
<text x="257.80" y="445.00" font-size="12" text-anchor="end" fill="#231f20" font-family='"Liberation Sans", sans-serif'>10<tspan font-size="8" dy="-5">6</tspan></text>
<text x="257.80" y="430.05" font-size="12" text-anchor="end" fill="#231f20" font-family='"Liberation Sans", sans-serif'>10<tspan font-size="8" dy="-5">7</tspan></text>
<text x="257.80" y="415.10" font-size="12" text-anchor="end" fill="#231f20" font-family='"Liberation Sans", sans-serif'>10<tspan font-size="8" dy="-5">8</tspan></text>
<text x="281.80" y="572.30" font-size="11.3" text-anchor="middle" fill="#231f20" font-weight="normal" font-style="normal" font-family='"Liberation Sans", sans-serif' >0.0</text>
<text x="323.00" y="572.30" font-size="11.3" text-anchor="middle" fill="#231f20" font-weight="normal" font-style="normal" font-family='"Liberation Sans", sans-serif' >0.1</text>
<text x="364.20" y="572.30" font-size="11.3" text-anchor="middle" fill="#231f20" font-weight="normal" font-style="normal" font-family='"Liberation Sans", sans-serif' >0.2</text>
<text x="405.40" y="572.30" font-size="11.3" text-anchor="middle" fill="#231f20" font-weight="normal" font-style="normal" font-family='"Liberation Sans", sans-serif' >0.3</text>
<text x="346.50" y="587.80" font-size="13.7" text-anchor="middle" fill="#231f20" font-weight="normal" font-style="normal" font-family='"Liberation Sans", sans-serif' >Normalized MW (V nm<tspan font-size="8.5" dy="-5">−1</tspan><tspan dy="5">)</tspan></text>
<text x="0.00" y="0.00" font-size="13.7" text-anchor="middle" fill="#231f20" font-weight="normal" font-style="normal" font-family='"Liberation Sans", sans-serif' transform="translate(233.5,480) rotate(-90)"><tspan font-family='Liberation Serif' font-style="italic" font-size="14">I</tspan><tspan font-size="9" dy="3">on</tspan><tspan dy="-3">/ </tspan><tspan font-family='Liberation Serif' font-style="italic" font-size="14">I</tspan><tspan font-size="9" dy="3">off</tspan></text>
<path d="M281.6,407 L281.6,555 M266,531 L423,531" stroke="#888" stroke-width="1" stroke-dasharray="3,2"/>
<circle cx="285.50" cy="521.50" r="4.50" fill="#5e5e5e" stroke="none" stroke-width="1"/>
<rect x="281.00" y="522.50" width="8.00" height="8.00" fill="#5f5f5f" stroke="none" stroke-width="1"/>
<path d="M291.50,518.50 L297.00,524.00 L291.50,529.50 L286.00,524.00 Z" fill="#5a5a5a" stroke="none" stroke-width="1"/>
<path d="M287.00,512.50 L292.23,521.30 L281.77,521.30 Z" fill="#555" stroke="none" stroke-width="1"/>
<path d="M294.50,511.00 L300.20,520.60 L288.80,520.60 Z" fill="#5a5a5a" stroke="none" stroke-width="1"/>
<path d="M295.20,516.90 L298.43,522.34 L291.97,522.34 Z" fill="none" stroke="#e0e0e0" stroke-width="0.9"/>
<path d="M296.20,523.80 L301.40,529.00 L296.20,534.20 L291.00,529.00 Z" fill="#555" stroke="none" stroke-width="1"/>
<circle cx="288.00" cy="529.70" r="4.80" fill="#5c5c5c" stroke="none" stroke-width="1"/>
<circle cx="287.60" cy="529.70" r="2.80" fill="#d6d6d6" stroke="none" stroke-width="1"/>
<circle cx="324.00" cy="520.80" r="4.50" fill="#666" stroke="none" stroke-width="1"/>
<circle cx="333.50" cy="522.60" r="4.50" fill="#666" stroke="none" stroke-width="1"/>
<circle cx="338.00" cy="525.00" r="4.30" fill="none" stroke="#666" stroke-width="1.3"/>
<circle cx="308.30" cy="501.60" r="4.60" fill="none" stroke="#3d9e66" stroke-width="1.5"/>
<circle cx="311.80" cy="505.60" r="4.80" fill="#3d9e66" stroke="none" stroke-width="1"/>
<rect x="346.70" y="481.70" width="8.00" height="8.00" fill="#7a52e0" stroke="none" stroke-width="1"/>
<rect x="376.20" y="473.00" width="7.60" height="7.60" fill="none" stroke="#7a52e0" stroke-width="1.4"/>
<path d="M298.50,446.40 L303.80,451.70 L298.50,457.00 L293.20,451.70 Z" fill="#fccf5c" stroke="none" stroke-width="1"/>
<path d="M298.50,460.30 L303.80,465.60 L298.50,470.90 L293.20,465.60 Z" fill="none" stroke="#fccf5c" stroke-width="1.4"/>
<circle cx="311.60" cy="460.60" r="4.30" fill="none" stroke="#fccf5c" stroke-width="1.4"/>
<rect x="322.10" y="448.70" width="8.60" height="8.60" fill="#2b70d6" stroke="none" stroke-width="1"/>
<rect x="321.40" y="462.40" width="7.60" height="7.60" fill="none" stroke="#2b70d6" stroke-width="1.4"/>
<circle cx="339.00" cy="452.20" r="4.80" fill="#fccf5c" stroke="none" stroke-width="1"/>
<path d="M327.00,424.00 L332.23,427.80 L330.23,433.95 L323.77,433.95 L321.77,427.80 Z" fill="#fccf5c" stroke="none" stroke-width="1"/>
<path d="M345.10,419.20 L350.14,422.86 L348.22,428.79 L341.98,428.79 L340.06,422.86 Z" fill="none" stroke="#fccf5c" stroke-width="1.4"/>
<path d="M313.20,437.20 L315.37,442.01 L320.62,442.59 L316.72,446.14 L317.78,451.31 L313.20,448.70 L308.62,451.31 L309.68,446.14 L305.78,442.59 L311.03,442.01 Z" fill="#fff" stroke="#f11a1a" stroke-width="1.9" stroke-linejoin="miter"/>
<path d="M388.60,442.40 L390.89,447.64 L396.59,448.20 L392.31,452.01 L393.54,457.60 L388.60,454.70 L383.66,457.60 L384.89,452.01 L380.61,448.20 L386.31,447.64 Z" fill="#f11a1a" stroke="none" stroke-width="1" stroke-linejoin="miter"/>
<path d="M284.7,441.5 L296,449 M284.7,441.5 L295.5,462" stroke="#888" stroke-width="0.8" fill="none"/>
<path d="M324.5,483 L313.5,464 M324.5,483 L333.5,448.5" stroke="#888" stroke-width="0.8" fill="none"/>
<path d="M330,420 L339.5,417.5 L344,421" stroke="#888" stroke-width="0.8" fill="none"/>
<text x="307.50" y="416.30" font-size="9.3" text-anchor="start" fill="#b59a5c" font-family='"Liberation Sans", sans-serif' textLength="43.30" lengthAdjust="spacingAndGlyphs" >WSe<tspan font-size="6.5" dy="2">2</tspan><tspan dy="-2">/AlScN</tspan></text>
<text x="268.40" y="437.40" font-size="9.3" text-anchor="start" fill="#b59a5c" font-family='"Liberation Sans", sans-serif' textLength="39.10" lengthAdjust="spacingAndGlyphs" >WSe<tspan font-size="6.5" dy="2">2</tspan><tspan dy="-2">/CIPS</tspan></text>
<text x="326.50" y="446.60" font-size="9.3" text-anchor="start" fill="#2f64a8" font-family='"Liberation Sans", sans-serif' textLength="34.90" lengthAdjust="spacingAndGlyphs" >Si fin/HZO</text>
<text x="332.00" y="439.30" font-size="10.8" text-anchor="start" fill="#f11a1a" font-family='"Liberation Sans", sans-serif' textLength="41.00" lengthAdjust="spacingAndGlyphs" >This work</text>
<text x="348.00" y="471.40" font-size="9.3" text-anchor="start" fill="#6a3db0" font-family='"Liberation Sans", sans-serif' textLength="41.90" lengthAdjust="spacingAndGlyphs" >Si fin,14-nm/</text>
<text x="348.00" y="480.10" font-size="9.3" text-anchor="start" fill="#6a3db0" font-family='"Liberation Sans", sans-serif' textLength="15.40" lengthAdjust="spacingAndGlyphs" >HZO</text>
<text x="277.30" y="491.00" font-size="9.3" text-anchor="start" fill="#b59a5c" font-family='"Liberation Sans", sans-serif' textLength="65.00" lengthAdjust="spacingAndGlyphs" >WSe<tspan font-size="6.5" dy="2">2</tspan><tspan dy="-2">/P(VDF-TrFE)</tspan></text>
<text x="270.30" y="501.40" font-size="9.3" text-anchor="start" fill="#333" font-family='"Liberation Sans", sans-serif' textLength="11.00" lengthAdjust="spacingAndGlyphs" >Gr/</text>
<text x="270.30" y="510.40" font-size="9.3" text-anchor="start" fill="#333" font-family='"Liberation Sans", sans-serif' textLength="33.50" lengthAdjust="spacingAndGlyphs" >perovskite</text>
<text x="318.60" y="503.00" font-size="9.3" text-anchor="start" fill="#3d9e66" font-family='"Liberation Sans", sans-serif' textLength="28.50" lengthAdjust="spacingAndGlyphs" >Polymer/</text>
<text x="318.60" y="511.20" font-size="9.3" text-anchor="start" fill="#3d9e66" font-family='"Liberation Sans", sans-serif' textLength="43.30" lengthAdjust="spacingAndGlyphs" >P(VDF-TrFE)</text>
<text x="318.60" y="534.00" font-size="9.3" text-anchor="start" fill="#333" font-family='"Liberation Sans", sans-serif' textLength="11.00" lengthAdjust="spacingAndGlyphs" >Gr/</text>
<text x="318.60" y="542.50" font-size="9.3" text-anchor="start" fill="#333" font-family='"Liberation Sans", sans-serif' textLength="41.90" lengthAdjust="spacingAndGlyphs" >P(VDF-TrFE)</text>
<text x="298.50" y="538.30" font-size="9.3" text-anchor="start" fill="#333" font-family='"Liberation Sans", sans-serif' textLength="11.00" lengthAdjust="spacingAndGlyphs" >Gr/</text>
<text x="298.50" y="547.60" font-size="9.3" text-anchor="start" fill="#333" font-family='"Liberation Sans", sans-serif' textLength="18.70" lengthAdjust="spacingAndGlyphs" >CIPS</text>
<text x="271.20" y="542.90" font-size="9.3" text-anchor="start" fill="#333" font-family='"Liberation Sans", sans-serif' textLength="11.00" lengthAdjust="spacingAndGlyphs" >Gr/</text>
<text x="271.20" y="551.80" font-size="9.3" text-anchor="start" fill="#333" font-family='"Liberation Sans", sans-serif' textLength="27.90" lengthAdjust="spacingAndGlyphs" ><tspan font-style="italic">α</tspan>-In<tspan font-size="6.5" dy="2">2</tspan><tspan dy="-2">Se</tspan><tspan font-size="6.5" dy="2">3</tspan></text>
<text x="370.30" y="418.40" font-size="9.3" text-anchor="start" fill="#231f20" font-family='"Liberation Sans", sans-serif' textLength="50.30" lengthAdjust="spacingAndGlyphs" >Solid: <tspan font-style="italic">p</tspan>-mode</text>
<text x="370.30" y="427.60" font-size="9.3" text-anchor="start" fill="#231f20" font-family='"Liberation Sans", sans-serif' textLength="51.60" lengthAdjust="spacingAndGlyphs" >Open: <tspan font-style="italic">n</tspan>-mode</text>
<rect x="365.6" y="492.2" width="58.4" height="62" fill="#fff" stroke="#111" stroke-width="1.6"/>
<rect x="368.25" y="494.55" width="6.70" height="6.70" fill="#a9a9a9" stroke="none" stroke-width="1"/>
<text x="379.70" y="501.30" font-size="9.6" text-anchor="start" fill="#222" font-family='"Liberation Sans", sans-serif' textLength="35.50" lengthAdjust="spacingAndGlyphs" >Graphene</text>
<rect x="368.25" y="504.65" width="6.70" height="6.70" fill="#1c66d8" stroke="none" stroke-width="1"/>
<text x="379.70" y="511.40" font-size="9.6" text-anchor="start" fill="#222" font-family='"Liberation Sans", sans-serif' textLength="18.40" lengthAdjust="spacingAndGlyphs" >Si fin</text>
<rect x="368.25" y="514.75" width="6.70" height="6.70" fill="#8a70f0" stroke="none" stroke-width="1"/>
<text x="379.70" y="521.50" font-size="9.6" text-anchor="start" fill="#222" font-family='"Liberation Sans", sans-serif' textLength="42.50" lengthAdjust="spacingAndGlyphs" >Si fin,14-nm</text>
<rect x="368.25" y="524.85" width="6.70" height="6.70" fill="#5cae80" stroke="none" stroke-width="1"/>
<text x="379.70" y="531.60" font-size="9.6" text-anchor="start" fill="#222" font-family='"Liberation Sans", sans-serif' textLength="29.20" lengthAdjust="spacingAndGlyphs" >Polymer</text>
<rect x="368.25" y="534.95" width="6.70" height="6.70" fill="#fcd47a" stroke="none" stroke-width="1"/>
<text x="379.70" y="541.70" font-size="9.6" text-anchor="start" fill="#222" font-family='"Liberation Sans", sans-serif' textLength="21.60" lengthAdjust="spacingAndGlyphs" >WSe<tspan font-size="6.5" dy="2">2</tspan></text>
<rect x="368.25" y="545.05" width="6.70" height="6.70" fill="#ee1515" stroke="none" stroke-width="1"/>
<text x="379.70" y="551.80" font-size="9.6" text-anchor="start" fill="#222" font-family='"Liberation Sans", sans-serif' textLength="29.20" lengthAdjust="spacingAndGlyphs" >SWCNT</text>
<rect x="265.00" y="405.70" width="159.70" height="150.30" fill="none" stroke="#000" stroke-width="2"/>
<text x="449.80" y="413.50" font-size="14.5" text-anchor="start" fill="#000" font-weight="bold" font-style="normal" font-family='"Liberation Sans", sans-serif' >i</text>
<text x="568.70" y="396.00" font-size="13.8" text-anchor="middle" fill="#231f20" font-weight="normal" font-style="normal" font-family='"Liberation Sans", sans-serif' >SWCNT FeFETs (<tspan font-style="italic">p</tspan>-type)</text>
<path d="M484.20,472.90 L488.20,472.90 M484.20,464.79 L488.20,464.79 M484.20,456.68 L488.20,456.68 M484.20,448.57 L488.20,448.57 M484.20,440.46 L488.20,440.46 M484.20,432.35 L488.20,432.35 M484.20,424.24 L488.20,424.24 M484.20,416.13 L488.20,416.13 M484.20,408.02 L488.20,408.02 M484.20,555.90 L488.20,555.90 M484.20,547.90 L488.20,547.90 M484.20,539.90 L488.20,539.90 M484.20,531.90 L488.20,531.90 M484.20,523.90 L488.20,523.90 M484.20,515.90 L488.20,515.90 M484.20,507.90 L488.20,507.90 M484.20,499.90 L488.20,499.90 M484.20,491.90 L488.20,491.90 M506.00,556.0 L506.00,559.50 M506.00,477.6 L506.00,475.10 M506.00,483.9 L506.00,486.40 M506.00,406.3 L506.00,408.80 M550.70,556.0 L550.70,559.50 M550.70,477.6 L550.70,475.10 M550.70,483.9 L550.70,486.40 M550.70,406.3 L550.70,408.80 M595.40,556.0 L595.40,559.50 M595.40,477.6 L595.40,475.10 M595.40,483.9 L595.40,486.40 M595.40,406.3 L595.40,408.80 M640.10,556.0 L640.10,559.50 M640.10,477.6 L640.10,475.10 M640.10,483.9 L640.10,486.40 M640.10,406.3 L640.10,408.80 M483.65,556.0 L483.65,558.00 M528.35,556.0 L528.35,558.00 M573.05,556.0 L573.05,558.00 M617.75,556.0 L617.75,558.00 " stroke="#000" stroke-width="1.2"/>
<text x="481.00" y="477.20" font-size="12" text-anchor="end" fill="#231f20" font-family='"Liberation Sans", sans-serif'>10<tspan font-size="8" dy="-5">0</tspan></text>
<text x="481.00" y="460.98" font-size="12" text-anchor="end" fill="#231f20" font-family='"Liberation Sans", sans-serif'>10<tspan font-size="8" dy="-5">2</tspan></text>
<text x="481.00" y="444.76" font-size="12" text-anchor="end" fill="#231f20" font-family='"Liberation Sans", sans-serif'>10<tspan font-size="8" dy="-5">4</tspan></text>
<text x="481.00" y="428.54" font-size="12" text-anchor="end" fill="#231f20" font-family='"Liberation Sans", sans-serif'>10<tspan font-size="8" dy="-5">6</tspan></text>
<text x="481.00" y="412.32" font-size="12" text-anchor="end" fill="#231f20" font-family='"Liberation Sans", sans-serif'>10<tspan font-size="8" dy="-5">8</tspan></text>
<text x="481.00" y="560.20" font-size="12" text-anchor="end" fill="#231f20" font-family='"Liberation Sans", sans-serif'>10<tspan font-size="8" dy="-5">-6</tspan></text>
<text x="481.00" y="544.20" font-size="12" text-anchor="end" fill="#231f20" font-family='"Liberation Sans", sans-serif'>10<tspan font-size="8" dy="-5">-4</tspan></text>
<text x="481.00" y="528.20" font-size="12" text-anchor="end" fill="#231f20" font-family='"Liberation Sans", sans-serif'>10<tspan font-size="8" dy="-5">-2</tspan></text>
<text x="481.00" y="512.20" font-size="12" text-anchor="end" fill="#231f20" font-family='"Liberation Sans", sans-serif'>10<tspan font-size="8" dy="-5">0</tspan></text>
<text x="481.00" y="496.20" font-size="12" text-anchor="end" fill="#231f20" font-family='"Liberation Sans", sans-serif'>10<tspan font-size="8" dy="-5">2</tspan></text>
<text x="506.00" y="571.50" font-size="11.3" text-anchor="middle" fill="#231f20" font-weight="normal" font-style="normal" font-family='"Liberation Sans", sans-serif' >0.0</text>
<text x="550.70" y="571.50" font-size="11.3" text-anchor="middle" fill="#231f20" font-weight="normal" font-style="normal" font-family='"Liberation Sans", sans-serif' >0.1</text>
<text x="595.40" y="571.50" font-size="11.3" text-anchor="middle" fill="#231f20" font-weight="normal" font-style="normal" font-family='"Liberation Sans", sans-serif' >0.2</text>
<text x="640.10" y="571.50" font-size="11.3" text-anchor="middle" fill="#231f20" font-weight="normal" font-style="normal" font-family='"Liberation Sans", sans-serif' >0.3</text>
<text x="569.50" y="587.60" font-size="13.7" text-anchor="middle" fill="#231f20" font-weight="normal" font-style="normal" font-family='"Liberation Sans", sans-serif' >Normalized MW (V nm<tspan font-size="8.5" dy="-5">−1</tspan><tspan dy="5">)</tspan></text>
<text x="0.00" y="0.00" font-size="13.9" text-anchor="middle" fill="#231f20" font-weight="normal" font-style="normal" font-family='"Liberation Sans", sans-serif' transform="translate(457,442) rotate(-90)"><tspan font-family='Liberation Serif' font-style="italic" font-size="14">I</tspan><tspan font-size="9" dy="3">on</tspan><tspan dy="-3">/ </tspan><tspan font-family='Liberation Serif' font-style="italic" font-size="14">I</tspan><tspan font-size="9" dy="3">off</tspan></text>
<text x="0.00" y="0.00" font-size="13.6" text-anchor="middle" fill="#231f20" font-weight="normal" font-style="normal" font-family='"Liberation Sans", sans-serif' transform="translate(455.8,521) rotate(-90)"><tspan font-family='Liberation Serif' font-style="italic" font-size="14">I</tspan><tspan font-size="9" dy="3">on</tspan><tspan dy="-3"> (μA μm</tspan><tspan font-size="8.5" dy="-5">−1</tspan><tspan dy="5">)</tspan></text>
<path d="M505.7,407 L505.7,477 M505.7,485 L505.7,555 M489,473.6 L649,473.6" stroke="#555" stroke-width="0.8" stroke-dasharray="2.5,1.5"/>
<ellipse cx="622.0" cy="430.0" rx="13.5" ry="7.5" fill="#f8bcc0" opacity="0.9" transform="rotate(-42 622.0 430.0)"/>
<ellipse cx="621.5" cy="495.0" rx="13.5" ry="7.2" fill="#f8bcc0" opacity="0.9" transform="rotate(52 621.5 495.0)"/>
<path d="M512.70,408.60 L518.40,418.20 L507.00,418.20 Z" fill="#f7be2e" stroke="none" stroke-width="1"/>
<path d="M511.80,423.60 L517.50,433.20 L506.10,433.20 Z" fill="#f7be2e" stroke="none" stroke-width="1"/>
<path d="M518.00,421.70 L523.30,427.00 L518.00,432.30 L512.70,427.00 Z" fill="#3d9b60" stroke="none" stroke-width="1"/>
<circle cx="519.70" cy="437.80" r="4.60" fill="#555555" stroke="none" stroke-width="1"/>
<circle cx="511.80" cy="448.30" r="4.60" fill="#555555" stroke="none" stroke-width="1"/>
<rect x="512.80" y="449.60" width="8.40" height="8.40" fill="#2b70d6" stroke="none" stroke-width="1"/>
<rect x="502.80" y="466.00" width="8.40" height="8.40" fill="#2b70d6" stroke="none" stroke-width="1"/>
<path d="M617.60,417.20 L622.40,422.00 L617.60,426.80 L612.80,422.00 Z" fill="#3d9b60" stroke="none" stroke-width="1"/>
<path d="M617.60,423.70 L619.45,428.15 L624.26,428.54 L620.60,431.67 L621.71,436.36 L617.60,433.85 L613.49,436.36 L614.60,431.67 L610.94,428.54 L615.75,428.15 Z" fill="#f11a1a" stroke="none" stroke-width="1" stroke-linejoin="miter"/>
<path d="M623.70,421.00 L625.55,425.45 L630.36,425.84 L626.70,428.97 L627.81,433.66 L623.70,431.15 L619.59,433.66 L620.70,428.97 L617.04,425.84 L621.85,425.45 Z" fill="#f11a1a" stroke="none" stroke-width="1" stroke-linejoin="miter"/>
<path d="M643.30,461.90 L648.10,466.70 L643.30,471.50 L638.50,466.70 Z" fill="#3d9b60" stroke="none" stroke-width="1"/>
<path d="M618.40,483.00 L620.25,487.45 L625.06,487.84 L621.40,490.97 L622.51,495.66 L618.40,493.15 L614.29,495.66 L615.40,490.97 L611.74,487.84 L616.55,487.45 Z" fill="#f11a1a" stroke="none" stroke-width="1" stroke-linejoin="miter"/>
<path d="M623.70,492.70 L625.55,497.15 L630.36,497.54 L626.70,500.67 L627.81,505.36 L623.70,502.85 L619.59,505.36 L620.70,500.67 L617.04,497.54 L621.85,497.15 Z" fill="#f11a1a" stroke="none" stroke-width="1" stroke-linejoin="miter"/>
<path d="M617.60,512.20 L622.40,517.00 L617.60,521.80 L612.80,517.00 Z" fill="#3d9b60" stroke="none" stroke-width="1"/>
<rect x="513.80" y="500.50" width="8.40" height="8.40" fill="#2b70d6" stroke="none" stroke-width="1"/>
<path d="M512.40,500.50 L518.10,510.10 L506.70,510.10 Z" fill="#f7be2e" stroke="none" stroke-width="1"/>
<path d="M513.00,504.50 L518.70,514.10 L507.30,514.10 Z" fill="#f7be2e" stroke="none" stroke-width="1"/>
<path d="M518.50,512.20 L523.30,517.00 L518.50,521.80 L513.70,517.00 Z" fill="#3d9b60" stroke="none" stroke-width="1"/>
<rect x="502.60" y="518.40" width="8.40" height="8.40" fill="#2b70d6" stroke="none" stroke-width="1"/>
<text x="493.40" y="415.80" font-size="9.3" text-anchor="start" fill="#231f20" font-weight="normal" font-style="normal" font-family='"Liberation Sans", sans-serif' >[44]</text>
<text x="525.80" y="430.40" font-size="9.3" text-anchor="start" fill="#231f20" font-weight="normal" font-style="normal" font-family='"Liberation Sans", sans-serif' >[47]</text>
<text x="495.20" y="441.20" font-size="9.3" text-anchor="start" fill="#231f20" font-weight="normal" font-style="normal" font-family='"Liberation Sans", sans-serif' >[45]</text>
<text x="525.80" y="446.80" font-size="9.3" text-anchor="start" fill="#231f20" font-weight="normal" font-style="normal" font-family='"Liberation Sans", sans-serif' >[43]</text>
<text x="492.60" y="458.70" font-size="9.3" text-anchor="start" fill="#231f20" font-weight="normal" font-style="normal" font-family='"Liberation Sans", sans-serif' >[42]</text>
<text x="523.20" y="459.60" font-size="9.3" text-anchor="start" fill="#231f20" font-weight="normal" font-style="normal" font-family='"Liberation Sans", sans-serif' >[41]</text>
<text x="513.60" y="474.50" font-size="9.3" text-anchor="start" fill="#231f20" font-weight="normal" font-style="normal" font-family='"Liberation Sans", sans-serif' >[40]</text>
<text x="596.70" y="424.90" font-size="9.3" text-anchor="start" fill="#231f20" font-weight="normal" font-style="normal" font-family='"Liberation Sans", sans-serif' >[48]</text>
<text x="621.00" y="470.40" font-size="9.3" text-anchor="start" fill="#231f20" font-weight="normal" font-style="normal" font-family='"Liberation Sans", sans-serif' >[46]</text>
<text x="494.80" y="504.40" font-size="9.3" text-anchor="start" fill="#231f20" font-weight="normal" font-style="normal" font-family='"Liberation Sans", sans-serif' >[45]</text>
<text x="522.70" y="502.30" font-size="9.3" text-anchor="start" fill="#231f20" font-weight="normal" font-style="normal" font-family='"Liberation Sans", sans-serif' >[41]</text>
<text x="490.60" y="517.00" font-size="9.3" text-anchor="start" fill="#231f20" font-weight="normal" font-style="normal" font-family='"Liberation Sans", sans-serif' >[44]</text>
<text x="525.50" y="520.40" font-size="9.3" text-anchor="start" fill="#231f20" font-weight="normal" font-style="normal" font-family='"Liberation Sans", sans-serif' >[47]</text>
<text x="500.40" y="536.00" font-size="9.3" text-anchor="start" fill="#231f20" font-weight="normal" font-style="normal" font-family='"Liberation Sans", sans-serif' >[40]</text>
<text x="596.70" y="520.40" font-size="9.3" text-anchor="start" fill="#231f20" font-weight="normal" font-style="normal" font-family='"Liberation Sans", sans-serif' >[48]</text>
<text x="602.30" y="446.20" font-size="10.5" text-anchor="start" fill="#f11a1a" font-family='"Liberation Sans", sans-serif' textLength="41.30" lengthAdjust="spacingAndGlyphs" >This work</text>
<text x="577.10" y="506.20" font-size="10.5" text-anchor="start" fill="#f11a1a" font-family='"Liberation Sans", sans-serif' textLength="40.50" lengthAdjust="spacingAndGlyphs" >This work</text>
<rect x="526.3" y="526.2" width="120.1" height="26.5" fill="#fff" stroke="#000" stroke-width="1.2"/>
<rect x="530.30" y="529.60" width="7.20" height="7.20" fill="#2b70d6" stroke="none" stroke-width="1"/>
<text x="539.40" y="536.60" font-size="9.6" text-anchor="start" fill="#231f20" font-family='"Liberation Sans", sans-serif' textLength="16.75" lengthAdjust="spacingAndGlyphs" >PZT</text>
<path d="M574.30,528.80 L579.05,536.80 L569.55,536.80 Z" fill="#f7be2e" stroke="none" stroke-width="1"/>
<text x="578.50" y="536.60" font-size="9.6" text-anchor="start" fill="#231f20" font-family='"Liberation Sans", sans-serif' textLength="16.75" lengthAdjust="spacingAndGlyphs" >BNT</text>
<path d="M610.60,527.70 L612.05,531.20 L615.83,531.50 L612.95,533.96 L613.83,537.65 L610.60,535.68 L607.37,537.65 L608.25,533.96 L605.37,531.50 L609.15,531.20 Z" fill="#f11a1a" stroke="none" stroke-width="1" stroke-linejoin="miter"/>
<text x="618.40" y="536.60" font-size="9.6" text-anchor="start" fill="#231f20" font-family='"Liberation Sans", sans-serif' textLength="24.30" lengthAdjust="spacingAndGlyphs" >AlScN</text>
<circle cx="533.90" cy="547.10" r="3.80" fill="#555555" stroke="none" stroke-width="1"/>
<text x="539.40" y="550.50" font-size="9.6" text-anchor="start" fill="#231f20" font-family='"Liberation Sans", sans-serif' textLength="18.70" lengthAdjust="spacingAndGlyphs" >BTO</text>
<path d="M573.00,543.10 L577.00,547.10 L573.00,551.10 L569.00,547.10 Z" fill="#3d9b60" stroke="none" stroke-width="1"/>
<text x="577.10" y="550.50" font-size="9.6" text-anchor="start" fill="#231f20" font-family='"Liberation Sans", sans-serif' textLength="54.40" lengthAdjust="spacingAndGlyphs" >P(VDF-TrFE)</text>
<rect x="488.20" y="406.30" width="161.50" height="71.30" fill="none" stroke="#000" stroke-width="2"/>
<rect x="488.20" y="483.90" width="161.50" height="72.10" fill="none" stroke="#000" stroke-width="2"/>
</svg></body></html>
